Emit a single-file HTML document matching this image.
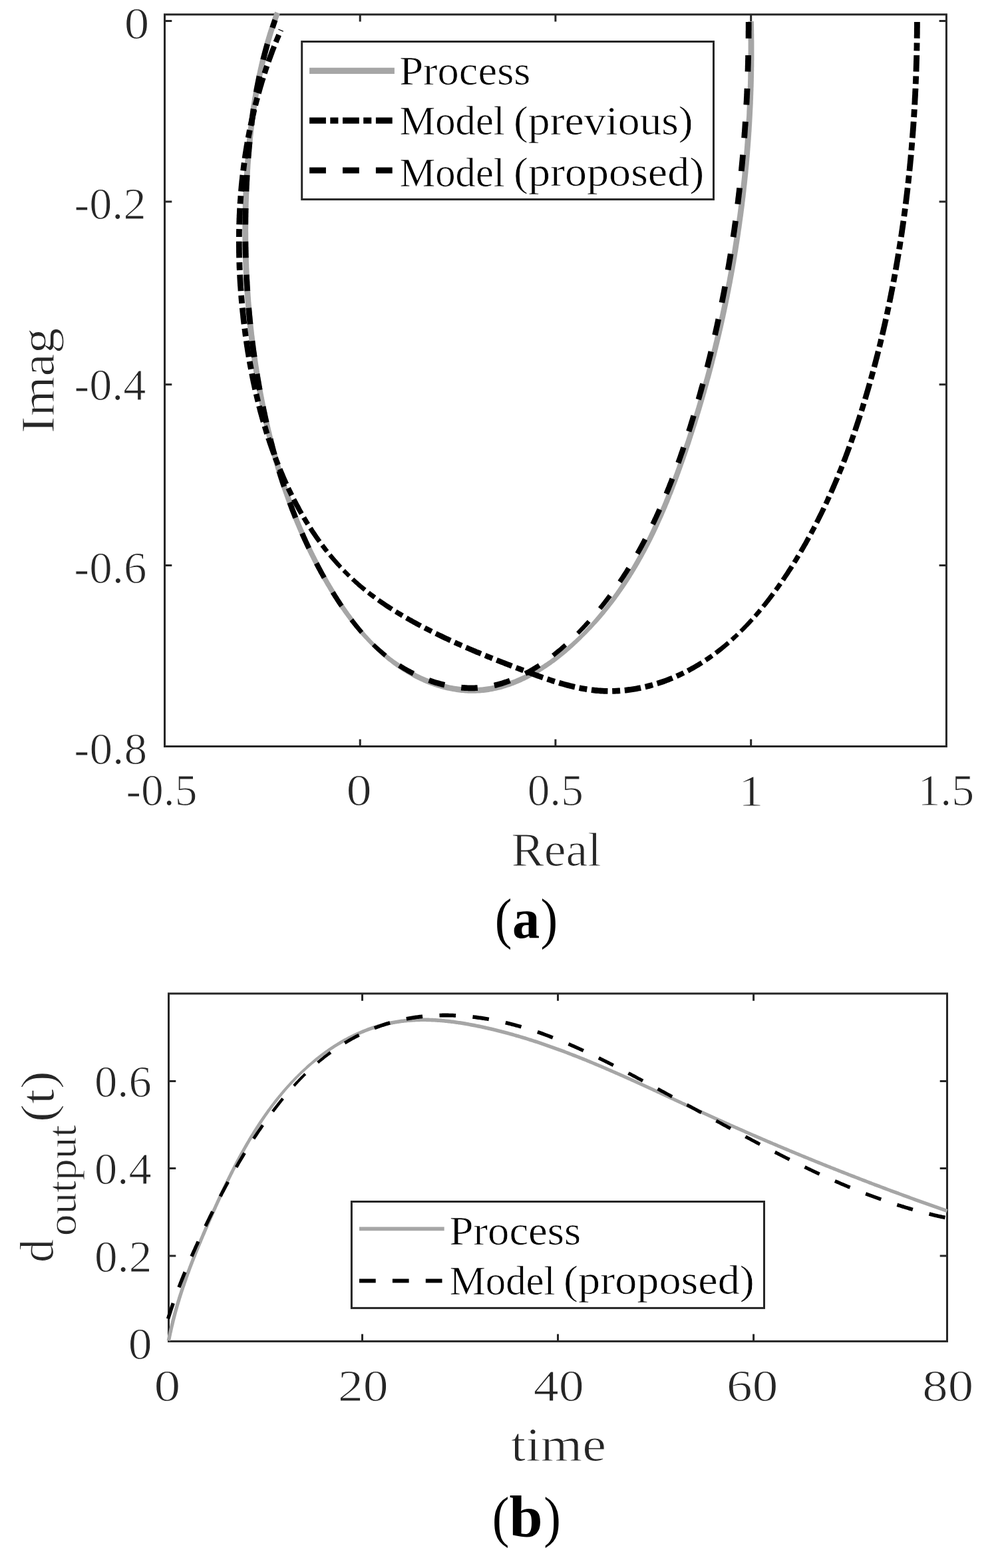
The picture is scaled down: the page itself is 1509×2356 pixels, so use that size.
<!DOCTYPE html>
<html><head><meta charset="utf-8"><title>Figure</title>
<style>
html,body{margin:0;padding:0;background:#fff;width:1509px;height:2356px;overflow:hidden;}
svg{display:block;}
text{font-family:"Liberation Serif",serif;}
.ax{stroke:#262626;stroke-width:3.0;fill:none;shape-rendering:auto;}
</style></head><body>
<svg width="1509" height="2356" viewBox="0 0 1509 2356">
<rect width="1509" height="2356" fill="#fff"/>

<rect class="ax" x="247.5" y="21.8" width="1174.9" height="1099.7"/>
<path d="M541.2,1121.5v-10.8M541.2,21.8v10.8M834.9,1121.5v-10.8M834.9,21.8v10.8M1128.7,1121.5v-10.8M1128.7,21.8v10.8M247.5,31.5h10.8M1422.4,31.5h-10.8M247.5,303.0h10.8M1422.4,303.0h-10.8M247.5,577.7h10.8M1422.4,577.7h-10.8M247.5,849.5h10.8M1422.4,849.5h-10.8" stroke="#262626" stroke-width="3.0" fill="none"/>
<path d="M1124.1,32.3L1124.1,34.2L1124.2,36.2L1124.2,38.1L1124.3,40.1L1124.3,42.0L1124.3,44.0L1124.4,45.9L1124.4,47.8L1124.4,49.8L1124.5,51.7L1124.5,53.7L1124.5,55.6L1124.5,57.5L1124.5,59.5L1124.6,61.4L1124.6,63.4L1124.6,65.3L1124.6,67.3L1124.6,69.2L1124.6,71.1L1124.6,73.1L1124.6,75.0L1124.6,77.0L1124.6,78.9L1124.6,80.9L1124.6,82.8L1124.6,84.7L1124.6,86.7L1124.6,88.6L1124.6,90.6L1124.5,92.5L1124.5,94.4L1124.5,96.4L1124.5,98.3L1124.5,100.3L1124.4,102.2L1124.4,104.2L1124.4,106.1L1124.3,108.0L1124.3,110.0L1124.3,111.9L1124.2,113.9L1124.2,115.8L1124.2,117.7L1124.1,119.7L1124.1,121.6L1124.0,123.6L1124.0,125.5L1123.9,127.4L1123.9,129.4L1123.8,131.3L1123.7,133.3L1123.7,135.2L1123.6,137.1L1123.6,139.1L1123.5,141.0L1123.4,143.0L1123.4,144.9L1123.3,146.8L1123.2,148.8L1123.1,150.7L1123.0,152.7L1123.0,154.6L1122.9,156.5L1122.8,158.5L1122.7,160.4L1122.6,162.4L1122.5,164.3L1122.4,166.2L1122.3,168.2L1122.3,170.1L1122.2,172.1L1122.1,174.0L1122.0,175.9L1121.8,177.9L1121.7,179.8L1121.6,181.7L1121.5,183.7L1121.4,185.6L1121.3,187.6L1121.2,189.5L1121.1,191.4L1120.9,193.4L1120.8,195.3L1120.7,197.2L1120.6,199.2L1120.4,201.1L1120.3,203.1L1120.2,205.0L1120.0,206.9L1119.9,208.9L1119.8,210.8L1119.6,212.7L1119.5,214.7L1119.3,216.6L1119.2,218.5L1119.0,220.5L1118.9,222.4L1118.7,224.3L1118.6,226.3L1118.4,228.2L1118.3,230.1L1118.1,232.1L1117.9,234.0L1117.8,235.9L1117.6,237.9L1117.4,239.8L1117.3,241.7L1117.1,243.7L1116.9,245.6L1116.7,247.5L1116.6,249.5L1116.4,251.4L1116.2,253.3L1116.0,255.3L1115.8,257.2L1115.6,259.1L1115.5,261.1L1115.3,263.0L1115.1,264.9L1114.9,266.9L1114.7,268.8L1114.5,270.7L1114.3,272.6L1114.1,274.6L1113.9,276.5L1113.7,278.4L1113.4,280.4L1113.2,282.3L1113.0,284.2L1112.8,286.2L1112.6,288.1L1112.4,290.0L1112.1,291.9L1111.9,293.9L1111.7,295.8L1111.5,297.7L1111.2,299.6L1111.0,301.6L1110.8,303.5L1110.5,305.4L1110.3,307.3L1110.0,309.3L1109.8,311.2L1109.6,313.1L1109.3,315.0L1109.1,317.0L1108.8,318.9L1108.6,320.8L1108.3,322.7L1108.1,324.7L1107.8,326.6L1107.5,328.5L1107.3,330.4L1107.0,332.4L1106.7,334.3L1106.5,336.2L1106.2,338.1L1105.9,340.0L1105.7,342.0L1105.4,343.9L1105.1,345.8L1104.8,347.7L1104.5,349.6L1104.3,351.6L1104.0,353.5L1103.7,355.4L1103.4,357.3L1103.1,359.2L1102.8,361.2L1102.5,363.1L1102.2,365.0L1101.9,366.9L1101.6,368.8L1101.3,370.7L1101.0,372.7L1100.7,374.6L1100.4,376.5L1100.1,378.4L1099.8,380.3L1099.4,382.2L1099.1,384.1L1098.8,386.1L1098.5,388.0L1098.2,389.9L1097.8,391.8L1097.5,393.7L1097.2,395.6L1096.8,397.5L1096.5,399.4L1096.2,401.4L1095.8,403.3L1095.5,405.2L1095.2,407.1L1094.8,409.0L1094.5,410.9L1094.1,412.8L1093.8,414.7L1093.4,416.6L1093.1,418.5L1092.7,420.5L1092.4,422.4L1092.0,424.3L1091.6,426.2L1091.3,428.1L1090.9,430.0L1090.5,431.9L1090.2,433.8L1089.8,435.7L1089.4,437.6L1089.1,439.5L1088.7,441.4L1088.3,443.3L1087.9,445.2L1087.5,447.1L1087.1,449.0L1086.8,450.9L1086.4,452.8L1086.0,454.7L1085.6,456.6L1085.2,458.5L1084.8,460.4L1084.4,462.3L1084.0,464.2L1083.6,466.1L1083.2,468.0L1082.8,469.9L1082.4,471.8L1082.0,473.7L1081.6,475.6L1081.1,477.5L1080.7,479.4L1080.3,481.3L1079.9,483.2L1079.5,485.1L1079.0,487.0L1078.6,488.9L1078.2,490.8L1077.8,492.6L1077.3,494.5L1076.9,496.4L1076.5,498.3L1076.0,500.2L1075.6,502.1L1075.1,504.0L1074.7,505.9L1074.2,507.8L1073.8,509.7L1073.4,511.5L1072.9,513.4L1072.4,515.3L1072.0,517.2L1071.5,519.1L1071.1,521.0L1070.6,522.9L1070.1,524.7L1069.7,526.6L1069.2,528.5L1068.7,530.4L1068.3,532.3L1067.8,534.2L1067.3,536.0L1066.9,537.9L1066.4,539.8L1065.9,541.7L1065.4,543.6L1064.9,545.4L1064.4,547.3L1063.9,549.2L1063.5,551.1L1063.0,553.0L1062.5,554.8L1062.0,556.7L1061.5,558.6L1061.0,560.5L1060.5,562.3L1060.0,564.2L1059.5,566.1L1059.0,568.0L1058.4,569.8L1057.9,571.7L1057.4,573.6L1056.9,575.4L1056.4,577.3L1055.9,579.2L1055.3,581.1L1054.8,582.9L1054.3,584.8L1053.8,586.7L1053.2,588.5L1052.7,590.4L1052.2,592.3L1051.6,594.1L1051.1,596.0L1050.6,597.9L1050.0,599.7L1049.5,601.6L1048.9,603.5L1048.4,605.3L1047.8,607.2L1047.3,609.0L1046.7,610.9L1046.2,612.8L1045.6,614.6L1045.1,616.5L1044.5,618.3L1043.9,620.2L1043.4,622.1L1042.8,623.9L1042.2,625.8L1041.7,627.6L1041.1,629.5L1040.5,631.3L1039.9,633.2L1039.4,635.0L1038.8,636.9L1038.2,638.7L1037.6,640.6L1037.0,642.4L1036.4,644.3L1035.9,646.1L1035.3,648.0L1034.7,649.8L1034.1,651.7L1033.5,653.5L1032.9,655.4L1032.3,657.2L1031.7,659.1L1031.1,660.9L1030.5,662.8L1029.9,664.6L1029.2,666.5L1028.6,668.3L1028.0,670.1L1027.4,672.0L1026.8,673.8L1026.2,675.7L1025.5,677.5L1024.9,679.3L1024.3,681.2L1023.7,683.0L1023.0,684.9L1022.4,686.7L1021.8,688.5L1021.1,690.4L1020.5,692.2L1019.8,694.0L1019.2,695.9L1018.6,697.7L1017.9,699.5L1017.3,701.4L1016.6,703.2L1016.0,705.0L1015.3,706.8L1014.6,708.7L1014.0,710.5L1013.3,712.3L1012.6,714.1L1012.0,715.9L1011.3,717.8L1010.6,719.6L1010.0,721.4L1009.3,723.2L1008.6,725.0L1007.9,726.8L1007.2,728.7L1006.5,730.5L1005.8,732.3L1005.1,734.1L1004.4,735.9L1003.7,737.7L1003.0,739.5L1002.3,741.3L1001.6,743.1L1000.9,744.9L1000.2,746.7L999.5,748.5L998.7,750.3L998.0,752.1L997.3,753.9L996.5,755.7L995.8,757.4L995.1,759.2L994.3,761.0L993.6,762.8L992.8,764.6L992.1,766.4L991.3,768.1L990.6,769.9L989.8,771.7L989.0,773.4L988.3,775.2L987.5,777.0L986.7,778.7L985.9,780.5L985.1,782.3L984.3,784.0L983.5,785.8L982.7,787.5L981.9,789.3L981.1,791.0L980.3,792.8L979.5,794.5L978.7,796.3L977.9,798.0L977.0,799.8L976.2,801.5L975.4,803.2L974.5,805.0L973.7,806.7L972.8,808.4L972.0,810.1L971.1,811.9L970.3,813.6L969.4,815.3L968.5,817.0L967.6,818.7L966.8,820.4L965.9,822.2L965.0,823.9L964.1,825.6L963.2,827.3L962.3,829.0L961.4,830.7L960.5,832.3L959.6,834.0L958.6,835.7L957.7,837.4L956.8,839.1L955.8,840.8L954.9,842.4L953.9,844.1L953.0,845.8L952.0,847.4L951.1,849.1L950.1,850.8L949.1,852.4L948.1,854.1L947.2,855.7L946.2,857.4L945.2,859.0L944.2,860.7L943.2,862.3L942.1,863.9L941.1,865.6L940.1,867.2L939.1,868.8L938.0,870.5L937.0,872.1L936.0,873.7L934.9,875.3L933.8,876.9L932.8,878.5L931.7,880.1L930.6,881.7L929.6,883.3L928.5,884.9L927.4,886.5L926.3,888.1L925.2,889.7L924.1,891.3L922.9,892.8L921.8,894.4L920.7,896.0L919.5,897.5L918.4,899.1L917.3,900.7L916.1,902.2L914.9,903.8L913.8,905.3L912.6,906.9L911.4,908.4L910.2,909.9L909.0,911.5L907.8,913.0L906.6,914.5L905.4,916.0L904.2,917.6L903.0,919.1L901.7,920.6L900.5,922.1L899.2,923.6L898.0,925.1L896.7,926.6L895.4,928.1L894.2,929.5L892.9,931.0L891.6,932.5L890.3,934.0L889.0,935.4L887.7,936.9L886.4,938.4L885.0,939.8L883.7,941.3L882.3,942.7L881.0,944.2L879.6,945.6L878.3,947.0L876.9,948.5L875.5,949.9L874.1,951.3L872.7,952.7L871.3,954.1L869.9,955.5L868.5,956.8L867.0,958.2L865.6,959.6L864.1,960.9L862.7,962.2L861.2,963.6L859.7,964.9L858.3,966.2L856.8,967.5L855.3,968.8L853.8,970.1L852.3,971.4L850.8,972.7L849.3,974.0L847.8,975.2L846.2,976.5L844.7,977.7L843.2,979.0L841.6,980.2L840.1,981.4L838.5,982.6L837.0,983.8L835.4,985.0L833.8,986.2L832.2,987.3L830.7,988.5L829.1,989.6L827.5,990.8L825.9,991.9L824.3,993.0L822.7,994.1L821.1,995.2L819.4,996.2L817.8,997.3L816.2,998.4L814.5,999.4L812.9,1000.4L811.3,1001.4L809.6,1002.4L808.0,1003.4L806.3,1004.4L804.6,1005.4L803.0,1006.3L801.3,1007.2L799.6,1008.2L797.9,1009.1L796.3,1009.9L794.6,1010.8L792.9,1011.7L791.2,1012.5L789.5,1013.4L787.8,1014.2L786.1,1015.0L784.3,1015.8L782.6,1016.6L780.9,1017.3L779.2,1018.1L777.4,1018.8L775.7,1019.5L774.0,1020.2L772.2,1020.9L770.5,1021.5L768.7,1022.2L767.0,1022.8L765.2,1023.4L763.5,1024.0L761.7,1024.6L760.0,1025.1L758.2,1025.7L756.4,1026.2L754.7,1026.7L752.9,1027.2L751.1,1027.7L749.3,1028.1L747.5,1028.5L745.7,1028.9L744.0,1029.3L742.2,1029.7L740.4,1030.1L738.6,1030.4L736.8,1030.7L735.0,1031.0L733.2,1031.3L731.3,1031.5L729.5,1031.8L727.7,1032.0L725.9,1032.2L724.1,1032.4L722.3,1032.5L720.4,1032.7L718.6,1032.8L716.8,1032.9L714.9,1032.9L713.1,1033.0L711.3,1033.0L709.4,1033.0L707.6,1033.0L705.7,1032.9L703.9,1032.9L702.0,1032.8L700.2,1032.7L698.3,1032.6L696.5,1032.4L694.6,1032.2L692.7,1032.0L690.9,1031.8L689.0,1031.6L687.2,1031.3L685.3,1031.1L683.4,1030.8L681.6,1030.4L679.7,1030.1L677.9,1029.8L676.0,1029.4L674.2,1029.0L672.3,1028.6L670.5,1028.1L668.6,1027.7L666.8,1027.2L664.9,1026.7L663.1,1026.2L661.3,1025.7L659.4,1025.1L657.6,1024.6L655.8,1024.0L654.0,1023.4L652.2,1022.8L650.4,1022.1L648.6,1021.5L646.8,1020.8L645.0,1020.1L643.2,1019.4L641.4,1018.7L639.6,1018.0L637.9,1017.2L636.1,1016.5L634.3,1015.7L632.6,1014.9L630.8,1014.1L629.1,1013.2L627.3,1012.4L625.6,1011.5L623.9,1010.6L622.2,1009.7L620.5,1008.8L618.8,1007.9L617.1,1007.0L615.4,1006.0L613.7,1005.1L612.0,1004.1L610.4,1003.1L608.7,1002.1L607.1,1001.1L605.4,1000.0L603.8,999.0L602.2,997.9L600.6,996.9L599.0,995.8L597.4,994.7L595.8,993.6L594.2,992.5L592.7,991.4L591.1,990.2L589.5,989.1L588.0,987.9L586.5,986.7L585.0,985.6L583.4,984.4L581.9,983.1L580.5,981.9L579.0,980.7L577.5,979.5L576.0,978.2L574.6,977.0L573.1,975.7L571.7,974.4L570.2,973.1L568.8,971.8L567.4,970.5L566.0,969.2L564.6,967.9L563.2,966.5L561.8,965.2L560.5,963.8L559.2,962.4L557.8,961.0L556.5,959.6L555.2,958.2L553.9,956.7L552.6,955.3L551.3,953.9L550.0,952.4L548.7,950.9L547.5,949.5L546.2,948.0L545.0,946.5L543.7,945.0L542.5,943.6L541.3,942.1L540.0,940.5L538.8,939.0L537.6,937.5L536.4,936.0L535.2,934.5L534.0,932.9L532.9,931.4L531.7,929.8L530.5,928.3L529.4,926.7L528.2,925.1L527.1,923.6L525.9,922.0L524.8,920.4L523.7,918.8L522.5,917.2L521.4,915.6L520.3,914.0L519.2,912.4L518.1,910.8L517.0,909.2L515.9,907.6L514.9,905.9L513.8,904.3L512.7,902.7L511.7,901.0L510.6,899.4L509.6,897.7L508.5,896.1L507.5,894.4L506.4,892.8L505.4,891.1L504.4,889.5L503.4,887.8L502.4,886.1L501.4,884.5L500.4,882.8L499.4,881.1L498.4,879.4L497.4,877.8L496.4,876.1L495.4,874.4L494.4,872.7L493.5,871.0L492.5,869.3L491.6,867.6L490.6,865.9L489.7,864.3L488.7,862.6L487.8,860.9L486.8,859.2L485.9,857.4L485.0,855.7L484.1,854.0L483.2,852.3L482.3,850.6L481.3,848.9L480.4,847.2L479.6,845.5L478.7,843.7L477.8,842.0L476.9,840.3L476.0,838.6L475.2,836.8L474.3,835.1L473.4,833.4L472.6,831.6L471.7,829.9L470.9,828.2L470.0,826.4L469.2,824.7L468.4,822.9L467.5,821.2L466.7,819.5L465.9,817.7L465.1,816.0L464.3,814.2L463.5,812.4L462.7,810.7L461.9,808.9L461.1,807.2L460.3,805.4L459.5,803.6L458.7,801.9L457.9,800.1L457.2,798.3L456.4,796.6L455.6,794.8L454.9,793.0L454.1,791.3L453.4,789.5L452.6,787.7L451.9,785.9L451.2,784.1L450.4,782.4L449.7,780.6L449.0,778.8L448.3,777.0L447.6,775.2L446.9,773.4L446.1,771.6L445.4,769.8L444.8,768.0L444.1,766.2L443.4,764.4L442.7,762.6L442.0,760.8L441.3,759.0L440.7,757.2L440.0,755.4L439.3,753.6L438.7,751.8L438.0,750.0L437.4,748.1L436.7,746.3L436.1,744.5L435.4,742.7L434.8,740.9L434.2,739.1L433.5,737.2L432.9,735.4L432.3,733.6L431.7,731.8L431.1,729.9L430.5,728.1L429.9,726.3L429.3,724.4L428.7,722.6L428.1,720.8L427.5,718.9L426.9,717.1L426.3,715.3L425.7,713.4L425.2,711.6L424.6,709.7L424.0,707.9L423.5,706.0L422.9,704.2L422.3,702.3L421.8,700.5L421.2,698.6L420.7,696.8L420.2,694.9L419.6,693.1L419.1,691.2L418.6,689.4L418.0,687.5L417.5,685.7L417.0,683.8L416.5,681.9L416.0,680.1L415.5,678.2L415.0,676.3L414.5,674.5L414.0,672.6L413.5,670.7L413.0,668.9L412.5,667.0L412.0,665.1L411.5,663.3L411.1,661.4L410.6,659.5L410.1,657.6L409.6,655.8L409.2,653.9L408.7,652.0L408.3,650.1L407.8,648.3L407.4,646.4L406.9,644.5L406.5,642.6L406.0,640.7L405.6,638.8L405.2,636.9L404.7,635.1L404.3,633.2L403.9,631.3L403.5,629.4L403.0,627.5L402.6,625.6L402.2,623.7L401.8,621.8L401.4,619.9L401.0,618.0L400.6,616.1L400.2,614.2L399.8,612.4L399.4,610.5L399.0,608.6L398.6,606.7L398.3,604.8L397.9,602.9L397.5,601.0L397.1,599.1L396.8,597.1L396.4,595.2L396.0,593.3L395.7,591.4L395.3,589.5L395.0,587.6L394.6,585.7L394.3,583.8L393.9,581.9L393.6,580.0L393.2,578.1L392.9,576.2L392.6,574.3L392.2,572.3L391.9,570.4L391.6,568.5L391.3,566.6L390.9,564.7L390.6,562.8L390.3,560.9L390.0,558.9L389.7,557.0L389.4,555.1L389.1,553.2L388.8,551.3L388.5,549.4L388.2,547.4L387.9,545.5L387.6,543.6L387.3,541.7L387.1,539.8L386.8,537.8L386.5,535.9L386.2,534.0L386.0,532.1L385.7,530.2L385.4,528.2L385.2,526.3L384.9,524.4L384.6,522.5L384.4,520.5L384.1,518.6L383.9,516.7L383.7,514.7L383.4,512.8L383.2,510.9L382.9,509.0L382.7,507.0L382.5,505.1L382.2,503.2L382.0,501.2L381.8,499.3L381.6,497.4L381.4,495.5L381.1,493.5L380.9,491.6L380.7,489.7L380.5,487.7L380.3,485.8L380.1,483.9L379.9,481.9L379.7,480.0L379.5,478.1L379.4,476.1L379.2,474.2L379.0,472.3L378.8,470.3L378.6,468.4L378.5,466.4L378.3,464.5L378.1,462.6L378.0,460.6L377.8,458.7L377.6,456.8L377.5,454.8L377.3,452.9L377.2,451.0L377.0,449.0L376.9,447.1L376.7,445.1L376.6,443.2L376.5,441.3L376.3,439.3L376.2,437.4L376.1,435.4L375.9,433.5L375.8,431.6L375.7,429.6L375.6,427.7L375.5,425.7L375.4,423.8L375.2,421.9L375.1,419.9L375.0,418.0L374.9,416.0L374.8,414.1L374.7,412.1L374.6,410.2L374.6,408.3L374.5,406.3L374.4,404.4L374.3,402.4L374.2,400.5L374.2,398.6L374.1,396.6L374.0,394.7L373.9,392.7L373.9,390.8L373.8,388.8L373.8,386.9L373.7,385.0L373.6,383.0L373.6,381.1L373.5,379.1L373.5,377.2L373.5,375.2L373.4,373.3L373.4,371.4L373.3,369.4L373.3,367.5L373.3,365.5L373.3,363.6L373.2,361.6L373.2,359.7L373.2,357.8L373.2,355.8L373.2,353.9L373.2,351.9L373.2,350.0L373.1,348.0L373.1,346.1L373.1,344.2L373.2,342.2L373.2,340.3L373.2,338.3L373.2,336.4L373.2,334.4L373.2,332.5L373.2,330.6L373.3,328.6L373.3,326.7L373.3,324.7L373.3,322.8L373.4,320.9L373.4,318.9L373.4,317.0L373.5,315.0L373.5,313.1L373.6,311.2L373.6,309.2L373.7,307.3L373.7,305.3L373.8,303.4L373.9,301.5L373.9,299.5L374.0,297.6L374.1,295.6L374.1,293.7L374.2,291.8L374.3,289.8L374.4,287.9L374.4,286.0L374.5,284.0L374.6,282.1L374.7,280.1L374.8,278.2L374.9,276.3L375.0,274.3L375.1,272.4L375.2,270.5L375.3,268.5L375.4,266.6L375.5,264.7L375.6,262.7L375.8,260.8L375.9,258.9L376.0,256.9L376.1,255.0L376.3,253.1L376.4,251.1L376.5,249.2L376.6,247.3L376.8,245.3L376.9,243.4L377.1,241.5L377.2,239.6L377.4,237.6L377.5,235.7L377.7,233.8L377.8,231.8L378.0,229.9L378.2,228.0L378.3,226.1L378.5,224.1L378.7,222.2L378.8,220.3L379.0,218.4L379.2,216.4L379.4,214.5L379.6,212.6L379.8,210.7L379.9,208.8L380.1,206.8L380.3,204.9L380.5,203.0L380.8,201.1L381.0,199.2L381.2,197.2L381.4,195.3L381.6,193.4L381.8,191.5L382.1,189.6L382.3,187.7L382.5,185.8L382.8,183.8L383.0,181.9L383.2,180.0L383.5,178.1L383.7,176.2L384.0,174.3L384.3,172.4L384.5,170.5L384.8,168.6L385.1,166.7L385.3,164.7L385.6,162.8L385.9,160.9L386.2,159.0L386.5,157.1L386.8,155.2L387.1,153.3L387.4,151.4L387.7,149.5L388.0,147.6L388.3,145.7L388.6,143.8L389.0,141.9L389.3,140.0L389.6,138.1L390.0,136.2L390.3,134.3L390.6,132.4L391.0,130.6L391.4,128.7L391.7,126.8L392.1,124.9L392.5,123.0L392.8,121.1L393.2,119.2L393.6,117.3L394.0,115.4L394.4,113.6L394.8,111.7L395.2,109.8L395.6,107.9L396.0,106.0L396.4,104.1L396.8,102.3L397.3,100.4L397.7,98.5L398.1,96.6L398.6,94.7L399.0,92.9L399.5,91.0L399.9,89.1L400.4,87.2L400.9,85.4L401.3,83.5L401.8,81.6L402.3,79.8L402.8,77.9L403.3,76.0L403.8,74.2L404.3,72.3L404.8,70.4L405.3,68.6L405.9,66.7L406.4,64.8L406.9,63.0L407.5,61.1L408.0,59.3L408.6,57.4L409.1,55.5L409.7,53.7L410.3,51.8L410.8,50.0L411.4,48.1L412.0,46.3L412.6,44.4L413.2,42.6L413.8,40.7L414.4,38.9L415.0,37.0L415.6,35.2L416.3,33.3L416.9,31.5L417.6,29.6L418.2,27.8L418.9,26.0L419.5,24.1L420.2,22.3L420.9,20.4L413.1,17.6L412.4,19.4L411.8,21.3L411.1,23.1L410.4,25.0L409.7,26.9L409.1,28.7L408.4,30.6L407.8,32.5L407.1,34.3L406.5,36.2L405.9,38.1L405.2,40.0L404.6,41.8L404.0,43.7L403.4,45.6L402.8,47.5L402.2,49.3L401.6,51.2L401.1,53.1L400.5,55.0L399.9,56.8L399.4,58.7L398.8,60.6L398.3,62.5L397.7,64.4L397.2,66.3L396.6,68.2L396.1,70.0L395.6,71.9L395.1,73.8L394.6,75.7L394.1,77.6L393.6,79.5L393.1,81.4L392.6,83.3L392.1,85.2L391.6,87.1L391.2,89.0L390.7,90.9L390.2,92.8L389.8,94.7L389.3,96.6L388.9,98.5L388.5,100.4L388.0,102.3L387.6,104.2L387.2,106.1L386.8,108.0L386.4,109.9L385.9,111.8L385.5,113.7L385.1,115.6L384.8,117.5L384.4,119.4L384.0,121.3L383.6,123.2L383.2,125.1L382.9,127.0L382.5,129.0L382.1,130.9L381.8,132.8L381.4,134.7L381.1,136.6L380.8,138.5L380.4,140.4L380.1,142.4L379.8,144.3L379.4,146.2L379.1,148.1L378.8,150.0L378.5,152.0L378.2,153.9L377.9,155.8L377.6,157.7L377.3,159.6L377.0,161.6L376.7,163.5L376.4,165.4L376.2,167.3L375.9,169.3L375.6,171.2L375.4,173.1L375.1,175.0L374.8,177.0L374.6,178.9L374.3,180.8L374.1,182.7L373.9,184.7L373.6,186.6L373.4,188.5L373.2,190.5L372.9,192.4L372.7,194.3L372.5,196.3L372.3,198.2L372.1,200.1L371.8,202.1L371.6,204.0L371.4,205.9L371.2,207.9L371.0,209.8L370.8,211.7L370.7,213.7L370.5,215.6L370.3,217.5L370.1,219.5L369.9,221.4L369.8,223.4L369.6,225.3L369.4,227.2L369.3,229.2L369.1,231.1L368.9,233.1L368.8,235.0L368.6,236.9L368.5,238.9L368.3,240.8L368.2,242.8L368.0,244.7L367.9,246.7L367.8,248.6L367.6,250.5L367.5,252.5L367.4,254.4L367.2,256.4L367.1,258.3L367.0,260.3L366.9,262.2L366.8,264.1L366.6,266.1L366.5,268.0L366.4,270.0L366.3,271.9L366.2,273.9L366.1,275.8L366.0,277.8L365.9,279.7L365.8,281.7L365.7,283.6L365.7,285.6L365.6,287.5L365.5,289.5L365.4,291.4L365.3,293.4L365.3,295.3L365.2,297.3L365.1,299.2L365.1,301.2L365.0,303.1L364.9,305.1L364.9,307.0L364.8,309.0L364.8,310.9L364.7,312.9L364.7,314.8L364.7,316.8L364.6,318.7L364.6,320.7L364.5,322.7L364.5,324.6L364.5,326.6L364.5,328.5L364.4,330.5L364.4,332.4L364.4,334.4L364.4,336.3L364.4,338.3L364.4,340.2L364.4,342.2L364.3,344.1L364.3,346.1L364.3,348.1L364.4,350.0L364.4,352.0L364.4,353.9L364.4,355.9L364.4,357.8L364.4,359.8L364.4,361.7L364.5,363.7L364.5,365.7L364.5,367.6L364.5,369.6L364.6,371.5L364.6,373.5L364.7,375.4L364.7,377.4L364.7,379.3L364.8,381.3L364.8,383.2L364.9,385.2L365.0,387.2L365.0,389.1L365.1,391.1L365.1,393.0L365.2,395.0L365.3,396.9L365.4,398.9L365.4,400.8L365.5,402.8L365.6,404.8L365.7,406.7L365.8,408.7L365.9,410.6L366.0,412.6L366.1,414.5L366.2,416.5L366.3,418.4L366.4,420.4L366.5,422.3L366.6,424.3L366.7,426.3L366.8,428.2L366.9,430.2L367.1,432.1L367.2,434.1L367.3,436.0L367.4,438.0L367.6,439.9L367.7,441.9L367.8,443.8L368.0,445.8L368.1,447.7L368.3,449.7L368.4,451.6L368.6,453.6L368.7,455.5L368.9,457.5L369.1,459.4L369.2,461.4L369.4,463.3L369.6,465.3L369.7,467.2L369.9,469.2L370.1,471.1L370.3,473.1L370.5,475.0L370.6,477.0L370.8,478.9L371.0,480.9L371.2,482.8L371.4,484.8L371.6,486.7L371.8,488.6L372.0,490.6L372.2,492.5L372.5,494.5L372.7,496.4L372.9,498.4L373.1,500.3L373.3,502.3L373.6,504.2L373.8,506.1L374.0,508.1L374.3,510.0L374.5,512.0L374.7,513.9L375.0,515.8L375.2,517.8L375.5,519.7L375.7,521.7L376.0,523.6L376.3,525.5L376.5,527.5L376.8,529.4L377.1,531.4L377.3,533.3L377.6,535.2L377.9,537.2L378.2,539.1L378.4,541.0L378.7,543.0L379.0,544.9L379.3,546.8L379.6,548.8L379.9,550.7L380.2,552.6L380.5,554.6L380.8,556.5L381.1,558.4L381.4,560.3L381.7,562.3L382.1,564.2L382.4,566.1L382.7,568.0L383.0,570.0L383.4,571.9L383.7,573.8L384.0,575.7L384.4,577.7L384.7,579.6L385.1,581.5L385.4,583.4L385.8,585.4L386.1,587.3L386.5,589.2L386.8,591.1L387.2,593.0L387.6,595.0L387.9,596.9L388.3,598.8L388.7,600.7L389.0,602.6L389.4,604.5L389.8,606.5L390.2,608.4L390.6,610.3L391.0,612.2L391.4,614.1L391.8,616.0L392.2,617.9L392.6,619.8L393.0,621.7L393.4,623.6L393.8,625.5L394.2,627.5L394.6,629.4L395.1,631.3L395.5,633.2L395.9,635.1L396.4,637.0L396.8,638.9L397.2,640.8L397.7,642.7L398.1,644.6L398.6,646.5L399.0,648.4L399.5,650.3L400.0,652.2L400.4,654.0L400.9,655.9L401.4,657.8L401.8,659.7L402.3,661.6L402.8,663.5L403.3,665.4L403.8,667.3L404.3,669.2L404.7,671.0L405.2,672.9L405.7,674.8L406.3,676.7L406.8,678.6L407.3,680.4L407.8,682.3L408.3,684.2L408.8,686.1L409.4,688.0L409.9,689.8L410.4,691.7L411.0,693.6L411.5,695.4L412.1,697.3L412.6,699.2L413.2,701.0L413.7,702.9L414.3,704.8L414.8,706.6L415.4,708.5L416.0,710.4L416.6,712.2L417.1,714.1L417.7,715.9L418.3,717.8L418.9,719.6L419.5,721.5L420.1,723.3L420.7,725.2L421.3,727.0L421.9,728.9L422.5,730.7L423.2,732.6L423.8,734.4L424.4,736.3L425.0,738.1L425.7,739.9L426.3,741.8L427.0,743.6L427.6,745.5L428.3,747.3L428.9,749.1L429.6,751.0L430.2,752.8L430.9,754.6L431.6,756.4L432.3,758.3L432.9,760.1L433.6,761.9L434.3,763.7L435.0,765.5L435.7,767.4L436.4,769.2L437.1,771.0L437.8,772.8L438.5,774.6L439.3,776.4L440.0,778.2L440.7,780.0L441.4,781.8L442.2,783.6L442.9,785.4L443.7,787.2L444.4,789.0L445.2,790.8L445.9,792.6L446.7,794.4L447.5,796.2L448.2,798.0L449.0,799.8L449.8,801.6L450.6,803.4L451.4,805.1L452.2,806.9L453.0,808.7L453.8,810.5L454.6,812.2L455.4,814.0L456.2,815.8L457.0,817.6L457.8,819.3L458.7,821.1L459.5,822.9L460.4,824.6L461.2,826.4L462.1,828.1L462.9,829.9L463.8,831.6L464.6,833.4L465.5,835.1L466.4,836.9L467.3,838.6L468.1,840.4L469.0,842.1L469.9,843.9L470.8,845.6L471.7,847.3L472.6,849.1L473.6,850.8L474.5,852.5L475.4,854.3L476.3,856.0L477.3,857.7L478.2,859.4L479.1,861.2L480.1,862.9L481.0,864.6L482.0,866.3L483.0,868.0L483.9,869.7L484.9,871.4L485.9,873.1L486.9,874.8L487.9,876.5L488.9,878.2L489.8,879.9L490.9,881.6L491.9,883.3L492.9,885.0L493.9,886.7L494.9,888.4L496.0,890.0L497.0,891.7L498.0,893.4L499.1,895.1L500.1,896.7L501.2,898.4L502.3,900.1L503.3,901.7L504.4,903.4L505.5,905.1L506.6,906.7L507.7,908.3L508.8,910.0L509.9,911.6L511.0,913.3L512.1,914.9L513.3,916.5L514.4,918.1L515.5,919.8L516.7,921.4L517.8,923.0L519.0,924.6L520.2,926.2L521.3,927.8L522.5,929.3L523.7,930.9L524.9,932.5L526.1,934.1L527.3,935.6L528.6,937.2L529.8,938.7L531.0,940.3L532.3,941.8L533.5,943.3L534.8,944.9L536.0,946.4L537.3,947.9L538.6,949.4L539.9,950.9L541.2,952.4L542.5,953.8L543.8,955.3L545.1,956.8L546.5,958.2L547.8,959.7L549.2,961.1L550.5,962.5L551.9,964.0L553.3,965.4L554.6,966.8L556.0,968.2L557.4,969.6L558.8,971.0L560.2,972.4L561.6,973.7L563.0,975.1L564.4,976.5L565.9,977.8L567.3,979.2L568.7,980.5L570.2,981.9L571.7,983.2L573.1,984.5L574.6,985.8L576.1,987.1L577.6,988.4L579.1,989.6L580.7,990.9L582.2,992.2L583.7,993.4L585.3,994.6L586.9,995.8L588.4,997.0L590.0,998.2L591.6,999.4L593.2,1000.6L594.8,1001.7L596.5,1002.9L598.1,1004.0L599.8,1005.1L601.4,1006.2L603.1,1007.3L604.8,1008.4L606.5,1009.5L608.2,1010.5L609.9,1011.6L611.6,1012.6L613.3,1013.6L615.0,1014.6L616.8,1015.6L618.5,1016.6L620.3,1017.5L622.0,1018.5L623.8,1019.4L625.6,1020.3L627.4,1021.2L629.2,1022.1L631.0,1022.9L632.8,1023.8L634.6,1024.6L636.4,1025.4L638.3,1026.2L640.1,1027.0L641.9,1027.7L643.8,1028.5L645.7,1029.2L647.5,1029.9L649.4,1030.6L651.3,1031.3L653.2,1031.9L655.0,1032.5L656.9,1033.2L658.8,1033.8L660.7,1034.3L662.7,1034.9L664.6,1035.4L666.5,1035.9L668.4,1036.4L670.3,1036.9L672.3,1037.4L674.2,1037.8L676.2,1038.2L678.1,1038.6L680.0,1039.0L682.0,1039.3L683.9,1039.6L685.9,1040.0L687.9,1040.2L689.8,1040.5L691.8,1040.7L693.7,1040.9L695.7,1041.1L697.6,1041.3L699.6,1041.4L701.6,1041.6L703.5,1041.7L705.5,1041.7L707.4,1041.8L709.4,1041.8L711.3,1041.8L713.3,1041.8L715.2,1041.7L717.2,1041.6L719.1,1041.5L721.0,1041.4L723.0,1041.3L724.9,1041.1L726.8,1040.9L728.7,1040.7L730.6,1040.4L732.5,1040.2L734.5,1039.9L736.4,1039.6L738.3,1039.3L740.1,1038.9L742.0,1038.5L743.9,1038.1L745.8,1037.7L747.7,1037.3L749.5,1036.8L751.4,1036.4L753.3,1035.9L755.1,1035.4L757.0,1034.8L758.8,1034.3L760.7,1033.7L762.5,1033.1L764.3,1032.5L766.2,1031.9L768.0,1031.2L769.8,1030.6L771.6,1029.9L773.4,1029.2L775.2,1028.5L777.0,1027.8L778.8,1027.0L780.6,1026.2L782.4,1025.5L784.2,1024.7L785.9,1023.8L787.7,1023.0L789.5,1022.2L791.2,1021.3L793.0,1020.4L794.7,1019.5L796.5,1018.6L798.2,1017.7L799.9,1016.8L801.6,1015.8L803.4,1014.9L805.1,1013.9L806.8,1012.9L808.5,1011.9L810.2,1010.9L811.8,1009.9L813.5,1008.8L815.2,1007.8L816.9,1006.7L818.5,1005.6L820.2,1004.5L821.9,1003.4L823.5,1002.3L825.1,1001.2L826.8,1000.1L828.4,998.9L830.0,997.7L831.6,996.6L833.3,995.4L834.9,994.2L836.5,993.0L838.1,991.8L839.6,990.6L841.2,989.3L842.8,988.1L844.4,986.8L845.9,985.6L847.5,984.3L849.0,983.0L850.6,981.7L852.1,980.4L853.6,979.1L855.1,977.8L856.7,976.5L858.2,975.1L859.7,973.8L861.2,972.4L862.7,971.1L864.1,969.7L865.6,968.3L867.1,967.0L868.5,965.6L870.0,964.2L871.4,962.8L872.9,961.4L874.3,960.0L875.7,958.5L877.1,957.1L878.6,955.7L880.0,954.3L881.4,952.9L882.8,951.4L884.2,950.0L885.6,948.6L887.0,947.1L888.4,945.7L889.8,944.2L891.1,942.8L892.5,941.3L893.8,939.8L895.2,938.3L896.5,936.9L897.8,935.4L899.2,933.9L900.5,932.4L901.8,930.9L903.1,929.4L904.4,927.9L905.6,926.4L906.9,924.9L908.2,923.4L909.5,921.9L910.7,920.3L912.0,918.8L913.2,917.3L914.4,915.8L915.7,914.2L916.9,912.7L918.1,911.1L919.3,909.6L920.5,908.0L921.7,906.5L922.9,904.9L924.1,903.3L925.3,901.7L926.4,900.2L927.6,898.6L928.7,897.0L929.9,895.4L931.0,893.8L932.2,892.2L933.3,890.6L934.4,889.0L935.5,887.4L936.6,885.8L937.8,884.2L938.9,882.6L939.9,881.0L941.0,879.4L942.1,877.7L943.2,876.1L944.3,874.5L945.3,872.8L946.4,871.2L947.4,869.6L948.5,867.9L949.5,866.3L950.5,864.6L951.6,863.0L952.6,861.3L953.6,859.6L954.6,858.0L955.6,856.3L956.6,854.6L957.6,853.0L958.6,851.3L959.6,849.6L960.6,847.9L961.5,846.2L962.5,844.5L963.5,842.8L964.4,841.1L965.4,839.5L966.3,837.8L967.3,836.0L968.2,834.3L969.1,832.6L970.0,830.9L971.0,829.2L971.9,827.5L972.8,825.8L973.7,824.1L974.6,822.3L975.5,820.6L976.4,818.9L977.3,817.1L978.1,815.4L979.0,813.7L979.9,811.9L980.8,810.2L981.6,808.4L982.5,806.7L983.3,804.9L984.2,803.2L985.0,801.4L985.9,799.7L986.7,797.9L987.5,796.2L988.4,794.4L989.2,792.6L990.0,790.9L990.8,789.1L991.6,787.3L992.4,785.6L993.2,783.8L994.0,782.0L994.8,780.2L995.6,778.5L996.4,776.7L997.2,774.9L998.0,773.1L998.7,771.3L999.5,769.5L1000.3,767.7L1001.0,765.9L1001.8,764.2L1002.6,762.4L1003.3,760.6L1004.1,758.8L1004.8,757.0L1005.6,755.2L1006.3,753.4L1007.0,751.5L1007.8,749.7L1008.5,747.9L1009.2,746.1L1009.9,744.3L1010.7,742.5L1011.4,740.7L1012.1,738.9L1012.8,737.0L1013.5,735.2L1014.2,733.4L1014.9,731.6L1015.6,729.8L1016.3,727.9L1017.0,726.1L1017.7,724.3L1018.4,722.5L1019.0,720.6L1019.7,718.8L1020.4,717.0L1021.1,715.1L1021.7,713.3L1022.4,711.5L1023.1,709.6L1023.7,707.8L1024.4,706.0L1025.1,704.1L1025.7,702.3L1026.4,700.5L1027.0,698.6L1027.7,696.8L1028.3,694.9L1029.0,693.1L1029.6,691.3L1030.3,689.4L1030.9,687.6L1031.5,685.7L1032.2,683.9L1032.8,682.0L1033.4,680.2L1034.1,678.3L1034.7,676.5L1035.3,674.6L1035.9,672.8L1036.5,670.9L1037.2,669.1L1037.8,667.2L1038.4,665.4L1039.0,663.5L1039.6,661.7L1040.2,659.8L1040.8,658.0L1041.4,656.1L1042.0,654.3L1042.6,652.4L1043.2,650.6L1043.8,648.7L1044.4,646.8L1045.0,645.0L1045.6,643.1L1046.2,641.3L1046.8,639.4L1047.4,637.6L1048.0,635.7L1048.5,633.8L1049.1,632.0L1049.7,630.1L1050.3,628.2L1050.9,626.4L1051.4,624.5L1052.0,622.6L1052.6,620.8L1053.1,618.9L1053.7,617.0L1054.3,615.2L1054.8,613.3L1055.4,611.4L1055.9,609.6L1056.5,607.7L1057.0,605.8L1057.6,604.0L1058.1,602.1L1058.7,600.2L1059.2,598.3L1059.8,596.5L1060.3,594.6L1060.8,592.7L1061.4,590.9L1061.9,589.0L1062.4,587.1L1063.0,585.2L1063.5,583.3L1064.0,581.5L1064.6,579.6L1065.1,577.7L1065.6,575.8L1066.1,574.0L1066.6,572.1L1067.1,570.2L1067.7,568.3L1068.2,566.4L1068.7,564.5L1069.2,562.7L1069.7,560.8L1070.2,558.9L1070.7,557.0L1071.2,555.1L1071.7,553.2L1072.2,551.4L1072.7,549.5L1073.2,547.6L1073.7,545.7L1074.1,543.8L1074.6,541.9L1075.1,540.0L1075.6,538.1L1076.1,536.3L1076.6,534.4L1077.0,532.5L1077.5,530.6L1078.0,528.7L1078.4,526.8L1078.9,524.9L1079.4,523.0L1079.8,521.1L1080.3,519.2L1080.8,517.3L1081.2,515.4L1081.7,513.5L1082.1,511.6L1082.6,509.7L1083.0,507.8L1083.5,506.0L1083.9,504.1L1084.4,502.2L1084.8,500.3L1085.2,498.4L1085.7,496.5L1086.1,494.6L1086.6,492.7L1087.0,490.8L1087.4,488.9L1087.8,487.0L1088.3,485.1L1088.7,483.1L1089.1,481.2L1089.5,479.3L1090.0,477.4L1090.4,475.5L1090.8,473.6L1091.2,471.7L1091.6,469.8L1092.0,467.9L1092.4,466.0L1092.8,464.1L1093.2,462.2L1093.6,460.3L1094.0,458.4L1094.4,456.5L1094.8,454.6L1095.2,452.6L1095.6,450.7L1096.0,448.8L1096.4,446.9L1096.8,445.0L1097.1,443.1L1097.5,441.2L1097.9,439.3L1098.3,437.4L1098.7,435.4L1099.0,433.5L1099.4,431.6L1099.8,429.7L1100.1,427.8L1100.5,425.9L1100.9,424.0L1101.2,422.0L1101.6,420.1L1101.9,418.2L1102.3,416.3L1102.6,414.4L1103.0,412.5L1103.3,410.5L1103.7,408.6L1104.0,406.7L1104.4,404.8L1104.7,402.9L1105.0,400.9L1105.4,399.0L1105.7,397.1L1106.1,395.2L1106.4,393.3L1106.7,391.3L1107.0,389.4L1107.4,387.5L1107.7,385.6L1108.0,383.7L1108.3,381.7L1108.6,379.8L1109.0,377.9L1109.3,376.0L1109.6,374.0L1109.9,372.1L1110.2,370.2L1110.5,368.3L1110.8,366.3L1111.1,364.4L1111.4,362.5L1111.7,360.6L1112.0,358.6L1112.3,356.7L1112.6,354.8L1112.9,352.8L1113.2,350.9L1113.4,349.0L1113.7,347.1L1114.0,345.1L1114.3,343.2L1114.6,341.3L1114.8,339.3L1115.1,337.4L1115.4,335.5L1115.6,333.6L1115.9,331.6L1116.2,329.7L1116.4,327.8L1116.7,325.8L1117.0,323.9L1117.2,322.0L1117.5,320.0L1117.7,318.1L1118.0,316.2L1118.2,314.2L1118.5,312.3L1118.7,310.4L1119.0,308.4L1119.2,306.5L1119.4,304.6L1119.7,302.6L1119.9,300.7L1120.1,298.8L1120.4,296.8L1120.6,294.9L1120.8,292.9L1121.0,291.0L1121.3,289.1L1121.5,287.1L1121.7,285.2L1121.9,283.3L1122.1,281.3L1122.3,279.4L1122.6,277.4L1122.8,275.5L1123.0,273.6L1123.2,271.6L1123.4,269.7L1123.6,267.8L1123.8,265.8L1124.0,263.9L1124.2,261.9L1124.4,260.0L1124.6,258.1L1124.7,256.1L1124.9,254.2L1125.1,252.2L1125.3,250.3L1125.5,248.3L1125.7,246.4L1125.8,244.5L1126.0,242.5L1126.2,240.6L1126.3,238.6L1126.5,236.7L1126.7,234.8L1126.8,232.8L1127.0,230.9L1127.2,228.9L1127.3,227.0L1127.5,225.0L1127.6,223.1L1127.8,221.2L1127.9,219.2L1128.1,217.3L1128.2,215.3L1128.4,213.4L1128.5,211.4L1128.7,209.5L1128.8,207.5L1128.9,205.6L1129.1,203.6L1129.2,201.7L1129.3,199.8L1129.5,197.8L1129.6,195.9L1129.7,193.9L1129.8,192.0L1129.9,190.0L1130.1,188.1L1130.2,186.1L1130.3,184.2L1130.4,182.2L1130.5,180.3L1130.6,178.3L1130.7,176.4L1130.8,174.5L1130.9,172.5L1131.0,170.6L1131.1,168.6L1131.2,166.7L1131.3,164.7L1131.4,162.8L1131.5,160.8L1131.6,158.9L1131.7,156.9L1131.8,155.0L1131.8,153.0L1131.9,151.1L1132.0,149.1L1132.1,147.2L1132.1,145.2L1132.2,143.3L1132.3,141.3L1132.3,139.4L1132.4,137.4L1132.5,135.5L1132.5,133.5L1132.6,131.6L1132.7,129.6L1132.7,127.7L1132.8,125.7L1132.8,123.8L1132.9,121.8L1132.9,119.9L1132.9,117.9L1133.0,116.0L1133.0,114.0L1133.1,112.1L1133.1,110.1L1133.1,108.2L1133.2,106.2L1133.2,104.3L1133.2,102.3L1133.3,100.4L1133.3,98.4L1133.3,96.5L1133.3,94.5L1133.3,92.6L1133.4,90.6L1133.4,88.7L1133.4,86.7L1133.4,84.8L1133.4,82.8L1133.4,80.9L1133.4,78.9L1133.4,77.0L1133.4,75.0L1133.4,73.1L1133.4,71.1L1133.4,69.2L1133.4,67.2L1133.4,65.3L1133.4,63.3L1133.4,61.4L1133.3,59.4L1133.3,57.5L1133.3,55.5L1133.3,53.6L1133.3,51.6L1133.2,49.7L1133.2,47.7L1133.2,45.8L1133.1,43.8L1133.1,41.9L1133.1,39.9L1133.0,37.9L1133.0,36.0L1132.9,34.0L1132.9,32.1Z" fill="#a6a6a6"/>
<path d="M1374.0,33.1L1374.0,34.7L1374.0,36.4L1374.0,38.1L1374.0,39.7L1374.0,41.4L1373.9,43.0L1373.9,44.7L1373.9,46.3L1373.9,48.0L1373.9,49.7L1373.9,51.3L1373.8,53.0L1373.8,54.6L1373.8,56.3L1373.8,57.6L1382.6,57.8L1382.6,56.4L1382.6,54.7L1382.6,53.1L1382.7,51.4L1382.7,49.8L1382.7,48.1L1382.7,46.4L1382.7,44.8L1382.7,43.1L1382.8,41.4L1382.8,39.8L1382.8,38.1L1382.8,36.4L1382.8,34.8L1382.8,33.1ZM1373.7,64.3L1373.7,64.6L1373.6,66.2L1373.6,67.9L1373.6,69.6L1373.6,71.2L1373.5,72.9L1373.5,74.5L1373.4,76.2L1373.4,76.2L1382.2,76.4L1382.2,76.4L1382.3,74.7L1382.3,73.1L1382.3,71.4L1382.4,69.7L1382.4,68.1L1382.4,66.4L1382.5,64.7L1382.5,64.5ZM1373.3,82.9L1373.3,84.5L1373.2,86.2L1373.2,87.8L1373.1,89.5L1373.1,91.1L1373.0,92.8L1373.0,94.5L1372.9,96.1L1372.9,97.8L1372.8,99.4L1372.8,101.1L1372.7,102.8L1372.7,104.4L1372.6,106.1L1372.6,107.5L1381.4,107.8L1381.4,106.4L1381.5,104.7L1381.5,103.1L1381.6,101.4L1381.6,99.7L1381.7,98.0L1381.7,96.4L1381.8,94.7L1381.8,93.0L1381.9,91.4L1381.9,89.7L1382.0,88.0L1382.0,86.4L1382.0,84.7L1382.1,83.1ZM1372.3,114.2L1372.3,114.4L1372.3,116.1L1372.2,117.7L1372.1,119.4L1372.1,121.0L1372.0,122.7L1371.9,124.4L1371.9,126.0L1371.8,126.0L1380.6,126.4L1380.6,126.4L1380.7,124.7L1380.8,123.1L1380.8,121.4L1380.9,119.7L1381.0,118.1L1381.0,116.4L1381.1,114.7L1381.1,114.5ZM1371.6,132.7L1371.5,134.3L1371.4,136.0L1371.3,137.7L1371.2,139.3L1371.2,141.0L1371.1,142.6L1371.0,144.3L1370.9,146.0L1370.8,147.6L1370.7,149.3L1370.7,151.0L1370.6,152.6L1370.5,154.3L1370.4,155.9L1370.3,157.3L1379.1,157.8L1379.2,156.4L1379.3,154.8L1379.3,153.1L1379.4,151.4L1379.5,149.8L1379.6,148.1L1379.7,146.4L1379.8,144.7L1379.9,143.1L1379.9,141.4L1380.0,139.7L1380.1,138.1L1380.2,136.4L1380.3,134.7L1380.3,133.1ZM1369.9,164.0L1369.9,164.3L1369.8,165.9L1369.7,167.6L1369.6,169.2L1369.5,170.9L1369.4,172.6L1369.3,174.2L1369.2,175.8L1378.0,176.4L1378.1,174.8L1378.2,173.1L1378.3,171.4L1378.4,169.8L1378.5,168.1L1378.6,166.4L1378.7,164.8L1378.7,164.5ZM1368.8,182.5L1368.8,182.5L1368.6,184.2L1368.5,185.9L1368.4,187.5L1368.3,189.2L1368.2,190.8L1368.1,192.5L1367.9,194.2L1367.8,195.8L1367.7,197.5L1367.6,199.2L1367.4,200.8L1367.3,202.5L1367.2,204.1L1367.1,205.8L1367.0,207.0L1375.7,207.7L1375.8,206.5L1375.9,204.8L1376.1,203.1L1376.2,201.5L1376.3,199.8L1376.4,198.1L1376.6,196.5L1376.7,194.8L1376.8,193.1L1376.9,191.5L1377.1,189.8L1377.2,188.1L1377.3,186.5L1377.4,184.8L1377.5,183.1L1377.5,183.1ZM1366.4,213.7L1366.4,214.1L1366.3,215.8L1366.1,217.4L1366.0,219.1L1365.9,220.7L1365.7,222.4L1365.6,224.1L1365.4,225.5L1374.2,226.3L1374.3,224.8L1374.4,223.2L1374.6,221.5L1374.7,219.8L1374.9,218.2L1375.0,216.5L1375.1,214.8L1375.2,214.4ZM1364.9,232.2L1364.8,232.4L1364.7,234.0L1364.5,235.7L1364.4,237.4L1364.2,239.0L1364.1,240.7L1363.9,242.3L1363.8,244.0L1363.6,245.6L1363.4,247.3L1363.3,249.0L1363.1,250.6L1363.0,252.3L1362.8,253.9L1362.6,255.6L1362.5,256.6L1371.2,257.5L1371.3,256.5L1371.5,254.8L1371.7,253.2L1371.8,251.5L1372.0,249.8L1372.2,248.2L1372.3,246.5L1372.5,244.8L1372.6,243.2L1372.8,241.5L1373.0,239.8L1373.1,238.2L1373.3,236.5L1373.4,234.8L1373.6,233.2L1373.6,233.0ZM1361.8,263.3L1361.8,263.9L1361.6,265.6L1361.4,267.2L1361.2,268.9L1361.1,270.5L1360.9,272.2L1360.7,273.8L1360.6,275.1L1369.3,276.1L1369.4,274.8L1369.6,273.1L1369.8,271.5L1369.9,269.8L1370.1,268.1L1370.3,266.5L1370.5,264.8L1370.5,264.2ZM1359.8,281.8L1359.8,282.1L1359.6,283.8L1359.4,285.4L1359.2,287.1L1359.0,288.7L1358.8,290.4L1358.6,292.1L1358.4,293.7L1358.2,295.4L1358.0,297.0L1357.8,298.7L1357.6,300.3L1357.4,302.0L1357.2,303.6L1357.0,305.3L1356.9,306.1L1365.6,307.2L1365.7,306.4L1365.9,304.7L1366.1,303.1L1366.3,301.4L1366.5,299.7L1366.7,298.1L1366.9,296.4L1367.1,294.8L1367.3,293.1L1367.5,291.4L1367.7,289.8L1367.9,288.1L1368.1,286.4L1368.3,284.8L1368.5,283.1L1368.5,282.8ZM1356.0,312.8L1355.9,313.6L1355.7,315.2L1355.5,316.9L1355.3,318.5L1355.1,320.2L1354.9,321.8L1354.6,323.5L1354.5,324.6L1363.1,325.7L1363.3,324.6L1363.5,323.0L1363.7,321.3L1363.9,319.7L1364.2,318.0L1364.4,316.3L1364.6,314.7L1364.7,313.9ZM1353.6,331.2L1353.5,331.7L1353.3,333.4L1353.0,335.0L1352.8,336.7L1352.6,338.3L1352.3,340.0L1352.1,341.6L1351.9,343.3L1351.6,344.9L1351.4,346.6L1351.1,348.2L1350.9,349.9L1350.7,351.5L1350.4,353.2L1350.2,354.8L1350.1,355.5L1358.7,356.8L1358.8,356.1L1359.0,354.5L1359.3,352.8L1359.5,351.2L1359.8,349.5L1360.0,347.9L1360.2,346.2L1360.5,344.5L1360.7,342.9L1361.0,341.2L1361.2,339.6L1361.4,337.9L1361.7,336.3L1361.9,334.6L1362.1,332.9L1362.2,332.4ZM1349.0,362.1L1348.9,363.1L1348.6,364.7L1348.4,366.4L1348.1,368.0L1347.9,369.6L1347.6,371.3L1347.3,372.9L1347.2,373.9L1355.8,375.2L1355.9,374.3L1356.2,372.7L1356.5,371.0L1356.7,369.4L1357.0,367.7L1357.2,366.1L1357.5,364.4L1357.6,363.5ZM1346.1,380.5L1346.0,381.2L1345.7,382.8L1345.5,384.4L1345.2,386.1L1344.9,387.7L1344.6,389.4L1344.4,391.0L1344.1,392.7L1343.8,394.3L1343.5,395.9L1343.2,397.6L1342.9,399.2L1342.7,400.9L1342.4,402.5L1342.1,404.1L1342.0,404.7L1350.5,406.2L1350.6,405.7L1350.9,404.0L1351.2,402.4L1351.5,400.7L1351.8,399.1L1352.1,397.4L1352.3,395.8L1352.6,394.1L1352.9,392.5L1353.2,390.8L1353.5,389.2L1353.7,387.5L1354.0,385.9L1354.3,384.2L1354.6,382.6L1354.7,381.9ZM1340.8,411.3L1340.6,412.3L1340.3,414.0L1340.0,415.6L1339.7,417.3L1339.4,418.9L1339.1,420.5L1338.8,422.2L1338.6,422.9L1347.1,424.6L1347.3,423.8L1347.6,422.1L1347.9,420.5L1348.2,418.8L1348.5,417.2L1348.8,415.5L1349.1,413.9L1349.3,412.8ZM1337.4,429.5L1337.2,430.3L1336.9,432.0L1336.6,433.6L1336.3,435.2L1336.0,436.9L1335.6,438.5L1335.3,440.1L1335.0,441.8L1334.7,443.4L1334.3,445.0L1334.0,446.7L1333.7,448.3L1333.4,449.9L1333.0,451.6L1332.7,453.2L1332.6,453.6L1341.0,455.3L1341.1,454.9L1341.5,453.3L1341.8,451.6L1342.1,450.0L1342.5,448.4L1342.8,446.7L1343.1,445.1L1343.5,443.5L1343.8,441.8L1344.1,440.2L1344.4,438.5L1344.8,436.9L1345.1,435.3L1345.4,433.6L1345.7,432.0L1345.9,431.2ZM1331.2,460.2L1331.0,461.3L1330.7,463.0L1330.3,464.6L1330.0,466.2L1329.6,467.8L1329.3,469.5L1328.9,471.1L1328.8,471.8L1337.2,473.6L1337.3,472.9L1337.7,471.3L1338.0,469.6L1338.4,468.0L1338.7,466.4L1339.1,464.7L1339.4,463.1L1339.7,461.9ZM1327.3,478.3L1327.1,479.2L1326.8,480.8L1326.4,482.5L1326.1,484.1L1325.7,485.7L1325.3,487.3L1325.0,488.9L1324.6,490.6L1324.2,492.2L1323.8,493.8L1323.5,495.4L1323.1,497.0L1322.7,498.7L1322.3,500.3L1322.0,501.9L1321.9,502.3L1330.2,504.2L1330.3,503.9L1330.7,502.2L1331.1,500.6L1331.4,499.0L1331.8,497.4L1332.2,495.7L1332.6,494.1L1332.9,492.5L1333.3,490.8L1333.7,489.2L1334.1,487.6L1334.4,486.0L1334.8,484.3L1335.2,482.7L1335.5,481.1L1335.7,480.2ZM1320.3,508.8L1320.0,510.0L1319.7,511.6L1319.3,513.2L1318.9,514.8L1318.5,516.4L1318.1,518.0L1317.7,519.7L1317.5,520.3L1325.8,522.4L1326.0,521.7L1326.4,520.1L1326.8,518.5L1327.2,516.8L1327.6,515.2L1328.0,513.6L1328.4,512.0L1328.6,510.8ZM1315.9,526.8L1315.7,527.7L1315.3,529.3L1314.9,530.9L1314.5,532.6L1314.0,534.2L1313.6,535.8L1313.2,537.4L1312.8,539.0L1312.4,540.6L1312.0,542.2L1311.5,543.8L1311.1,545.4L1310.7,547.0L1310.3,548.6L1309.9,550.2L1309.8,550.6L1318.0,552.8L1318.1,552.4L1318.5,550.8L1318.9,549.2L1319.4,547.6L1319.8,546.0L1320.2,544.4L1320.6,542.7L1321.0,541.1L1321.5,539.5L1321.9,537.9L1322.3,536.3L1322.7,534.7L1323.1,533.0L1323.5,531.4L1324.0,529.8L1324.2,528.9ZM1308.0,557.0L1307.7,558.2L1307.3,559.8L1306.8,561.4L1306.4,563.0L1305.9,564.6L1305.5,566.2L1305.1,567.8L1304.9,568.5L1313.0,570.8L1313.2,570.1L1313.7,568.5L1314.1,566.9L1314.6,565.3L1315.0,563.7L1315.5,562.1L1315.9,560.5L1316.2,559.3ZM1303.1,574.9L1302.8,575.8L1302.4,577.4L1301.9,579.0L1301.5,580.6L1301.0,582.2L1300.5,583.8L1300.1,585.4L1299.6,587.0L1299.1,588.6L1298.7,590.2L1298.2,591.8L1297.7,593.3L1297.3,594.9L1296.8,596.5L1296.3,598.1L1296.2,598.5L1304.3,600.9L1304.4,600.5L1304.9,598.9L1305.4,597.3L1305.8,595.7L1306.3,594.1L1306.8,592.5L1307.2,590.9L1307.7,589.3L1308.2,587.7L1308.7,586.1L1309.1,584.5L1309.6,582.9L1310.0,581.3L1310.5,579.7L1311.0,578.1L1311.2,577.3ZM1294.3,604.9L1293.9,606.0L1293.4,607.6L1293.0,609.2L1292.5,610.8L1292.0,612.4L1291.5,614.0L1291.0,615.5L1290.8,616.3L1298.8,618.8L1299.0,618.1L1299.5,616.5L1300.0,614.9L1300.5,613.3L1301.0,611.7L1301.5,610.1L1302.0,608.5L1302.3,607.4ZM1288.8,622.6L1288.5,623.4L1288.0,625.0L1287.5,626.6L1287.0,628.2L1286.5,629.8L1286.0,631.3L1285.4,632.9L1284.9,634.5L1284.4,636.0L1283.9,637.6L1283.4,639.2L1282.8,640.8L1282.3,642.3L1281.8,643.9L1281.3,645.5L1281.1,645.9L1289.0,648.6L1289.2,648.1L1289.7,646.6L1290.2,645.0L1290.8,643.4L1291.3,641.8L1291.8,640.3L1292.3,638.7L1292.9,637.1L1293.4,635.5L1293.9,633.9L1294.4,632.3L1294.9,630.8L1295.5,629.2L1296.0,627.6L1296.5,626.0L1296.7,625.2ZM1278.9,652.3L1278.6,653.3L1278.0,654.9L1277.5,656.4L1277.0,658.0L1276.4,659.6L1275.9,661.1L1275.3,662.7L1275.0,663.5L1282.8,666.3L1283.1,665.5L1283.7,663.9L1284.2,662.3L1284.8,660.7L1285.3,659.2L1285.9,657.6L1286.4,656.0L1286.8,655.0ZM1272.8,669.8L1272.5,670.5L1271.9,672.0L1271.4,673.6L1270.8,675.1L1270.2,676.7L1269.7,678.2L1269.1,679.8L1268.5,681.3L1267.9,682.9L1267.4,684.4L1266.8,686.0L1266.2,687.5L1265.6,689.1L1265.0,690.6L1264.4,692.2L1264.2,692.7L1271.8,695.7L1272.1,695.1L1272.7,693.6L1273.3,692.0L1273.9,690.5L1274.5,688.9L1275.0,687.3L1275.6,685.8L1276.2,684.2L1276.8,682.7L1277.4,681.1L1278.0,679.5L1278.6,678.0L1279.1,676.4L1279.7,674.9L1280.3,673.3L1280.5,672.6ZM1261.8,699.0L1261.4,699.9L1260.8,701.4L1260.2,703.0L1259.6,704.5L1259.0,706.0L1258.3,707.6L1257.7,709.1L1257.4,710.0L1264.9,713.1L1265.3,712.2L1265.9,710.6L1266.5,709.1L1267.2,707.5L1267.8,706.0L1268.4,704.4L1269.0,702.9L1269.4,702.0ZM1254.8,716.2L1254.6,716.8L1254.0,718.3L1253.3,719.8L1252.7,721.3L1252.0,722.9L1251.4,724.4L1250.7,725.9L1250.1,727.4L1249.4,729.0L1248.8,730.5L1248.1,732.0L1247.5,733.5L1246.8,735.0L1246.2,736.6L1245.5,738.1L1245.2,738.7L1252.6,742.0L1252.8,741.3L1253.5,739.8L1254.2,738.3L1254.9,736.7L1255.5,735.2L1256.2,733.7L1256.9,732.2L1257.5,730.6L1258.2,729.1L1258.8,727.6L1259.5,726.0L1260.2,724.5L1260.8,722.9L1261.4,721.4L1262.1,719.9L1262.3,719.3ZM1242.5,744.8L1242.1,745.6L1241.4,747.1L1240.7,748.7L1240.1,750.2L1239.4,751.7L1238.7,753.2L1238.0,754.7L1237.5,755.6L1244.8,759.0L1245.2,758.0L1245.9,756.5L1246.6,755.0L1247.3,753.5L1248.0,752.0L1248.7,750.5L1249.4,748.9L1249.8,748.1ZM1234.7,761.7L1234.5,762.2L1233.7,763.7L1233.0,765.2L1232.3,766.7L1231.6,768.2L1230.9,769.7L1230.1,771.2L1229.4,772.6L1228.7,774.1L1227.9,775.6L1227.2,777.1L1226.5,778.6L1225.7,780.1L1225.0,781.6L1224.2,783.1L1223.9,783.6L1230.9,787.2L1231.2,786.6L1232.0,785.1L1232.7,783.6L1233.5,782.1L1234.2,780.6L1235.0,779.1L1235.7,777.6L1236.5,776.1L1237.2,774.6L1238.0,773.1L1238.7,771.6L1239.4,770.1L1240.2,768.6L1240.9,767.1L1241.6,765.6L1241.9,765.1ZM1220.9,789.6L1220.4,790.5L1219.7,791.9L1218.9,793.4L1218.1,794.9L1217.3,796.3L1216.6,797.8L1215.8,799.3L1215.4,800.1L1222.2,803.8L1222.6,803.0L1223.4,801.5L1224.2,800.0L1225.0,798.5L1225.8,797.0L1226.6,795.5L1227.4,794.1L1227.8,793.2ZM1212.2,806.0L1211.8,806.6L1211.0,808.1L1210.2,809.5L1209.4,811.0L1208.6,812.5L1207.8,813.9L1207.0,815.4L1206.2,816.8L1205.3,818.3L1204.5,819.7L1203.7,821.2L1202.9,822.6L1202.0,824.1L1201.2,825.5L1200.3,827.0L1200.2,827.3L1206.7,831.1L1206.9,830.8L1207.7,829.4L1208.6,827.9L1209.4,826.5L1210.3,825.0L1211.1,823.5L1212.0,822.1L1212.8,820.6L1213.7,819.2L1214.5,817.7L1215.3,816.2L1216.1,814.7L1217.0,813.3L1217.8,811.8L1218.6,810.3L1219.0,809.7ZM1196.8,833.1L1196.1,834.2L1195.2,835.6L1194.4,837.1L1193.5,838.5L1192.6,839.9L1191.7,841.4L1190.9,842.8L1190.6,843.2L1197.0,847.1L1197.2,846.7L1198.1,845.3L1199.0,843.9L1199.9,842.4L1200.8,841.0L1201.7,839.5L1202.5,838.1L1203.2,836.9ZM1187.1,848.9L1186.4,849.9L1185.5,851.4L1184.6,852.8L1183.7,854.2L1182.8,855.6L1181.9,857.0L1181.0,858.4L1180.1,859.9L1179.2,861.3L1178.2,862.7L1177.3,864.1L1176.4,865.5L1175.4,866.9L1174.5,868.3L1173.7,869.4L1179.8,873.5L1180.5,872.4L1181.5,871.0L1182.4,869.5L1183.4,868.1L1184.3,866.7L1185.3,865.3L1186.2,863.9L1187.2,862.5L1188.1,861.1L1189.0,859.6L1190.0,858.2L1190.9,856.8L1191.8,855.4L1192.7,853.9L1193.4,852.9ZM1170.0,874.9L1169.8,875.2L1168.8,876.6L1167.8,878.0L1166.9,879.3L1165.9,880.7L1164.9,882.1L1164.0,883.5L1163.2,884.6L1168.9,888.8L1169.7,887.6L1170.7,886.3L1171.7,884.9L1172.7,883.5L1173.7,882.1L1174.7,880.7L1175.7,879.3L1175.9,879.0ZM1159.2,890.0L1159.0,890.2L1158.0,891.6L1157.0,892.9L1156.0,894.3L1155.0,895.6L1154.0,897.0L1153.0,898.3L1152.0,899.6L1150.9,901.0L1149.9,902.3L1148.9,903.6L1147.8,904.9L1146.8,906.2L1145.8,907.5L1144.7,908.8L1144.3,909.3L1149.6,913.6L1150.0,913.1L1151.1,911.8L1152.2,910.5L1153.2,909.2L1154.3,907.9L1155.3,906.6L1156.4,905.2L1157.5,903.9L1158.5,902.6L1159.5,901.2L1160.6,899.9L1161.6,898.5L1162.6,897.2L1163.7,895.8L1164.7,894.5L1164.9,894.2ZM1140.1,914.5L1139.4,915.3L1138.4,916.6L1137.3,917.9L1136.2,919.1L1135.1,920.4L1134.1,921.7L1133.0,922.9L1132.4,923.5L1137.4,927.9L1137.9,927.3L1139.1,926.0L1140.2,924.8L1141.3,923.5L1142.4,922.2L1143.5,920.9L1144.6,919.6L1145.3,918.8ZM1128.0,928.5L1127.5,929.2L1126.4,930.4L1125.2,931.6L1124.1,932.9L1123.0,934.1L1121.9,935.3L1120.7,936.5L1119.6,937.7L1118.5,938.9L1117.3,940.1L1116.2,941.3L1115.0,942.5L1113.9,943.7L1112.7,944.8L1111.5,946.0L1111.3,946.3L1115.7,950.7L1115.9,950.4L1117.1,949.3L1118.3,948.1L1119.5,946.9L1120.7,945.7L1121.9,944.5L1123.0,943.3L1124.2,942.1L1125.4,940.9L1126.5,939.7L1127.7,938.5L1128.9,937.2L1130.0,936.0L1131.1,934.8L1132.3,933.5L1132.9,932.9ZM1106.4,950.9L1105.6,951.7L1104.4,952.8L1103.2,953.9L1101.9,955.0L1100.7,956.1L1099.5,957.2L1098.3,958.3L1097.7,958.8L1102.1,963.7L1102.7,963.2L1103.9,962.1L1105.1,960.9L1106.3,959.8L1107.5,958.6L1108.8,957.5L1110.0,956.3L1110.8,955.5ZM1092.7,963.2L1092.1,963.7L1090.8,964.8L1089.6,965.8L1088.3,966.9L1087.1,967.9L1085.8,968.9L1084.5,970.0L1083.3,971.0L1082.0,972.0L1080.7,973.0L1079.4,974.0L1078.1,975.0L1076.8,976.0L1075.5,977.0L1074.2,978.0L1073.6,978.4L1077.9,984.0L1078.4,983.5L1079.8,982.5L1081.1,981.5L1082.4,980.5L1083.7,979.5L1085.0,978.4L1086.3,977.4L1087.6,976.3L1088.8,975.2L1090.1,974.2L1091.4,973.1L1092.7,972.0L1093.9,970.9L1095.2,969.9L1096.4,968.8L1097.0,968.2ZM1068.2,982.3L1067.6,982.7L1066.3,983.7L1065.0,984.6L1063.6,985.5L1062.3,986.4L1060.9,987.3L1059.6,988.2L1058.5,988.9L1062.6,995.0L1063.6,994.3L1065.0,993.3L1066.4,992.4L1067.7,991.4L1069.1,990.5L1070.4,989.5L1071.8,988.5L1072.4,988.1ZM1052.9,992.5L1052.7,992.6L1051.4,993.5L1050.0,994.3L1048.6,995.1L1047.2,996.0L1045.8,996.8L1044.4,997.6L1043.0,998.4L1041.6,999.2L1040.2,1000.0L1038.8,1000.8L1037.3,1001.6L1035.9,1002.4L1034.5,1003.1L1033.0,1003.9L1031.8,1004.5L1035.5,1011.4L1036.7,1010.7L1038.1,1009.9L1039.6,1009.1L1041.1,1008.3L1042.5,1007.5L1044.0,1006.7L1045.4,1005.8L1046.8,1005.0L1048.3,1004.1L1049.7,1003.3L1051.1,1002.4L1052.5,1001.5L1053.9,1000.7L1055.3,999.8L1056.7,998.9L1056.9,998.7ZM1025.9,1007.5L1025.8,1007.5L1024.3,1008.2L1022.9,1008.9L1021.4,1009.6L1019.9,1010.3L1018.4,1011.0L1016.9,1011.6L1015.4,1012.3L1015.3,1012.4L1018.5,1019.7L1018.7,1019.6L1020.2,1018.9L1021.8,1018.2L1023.3,1017.5L1024.8,1016.8L1026.3,1016.1L1027.8,1015.3L1029.3,1014.6L1029.4,1014.5ZM1009.2,1014.9L1007.9,1015.4L1006.4,1016.1L1004.9,1016.6L1003.4,1017.2L1001.9,1017.8L1000.3,1018.4L998.8,1018.9L997.3,1019.5L995.7,1020.0L994.2,1020.6L992.6,1021.1L991.1,1021.6L989.5,1022.1L988.0,1022.6L986.4,1023.1L986.4,1023.1L988.8,1031.1L988.9,1031.1L990.5,1030.6L992.1,1030.1L993.7,1029.5L995.3,1029.0L996.9,1028.4L998.5,1027.9L1000.1,1027.3L1001.6,1026.7L1003.2,1026.1L1004.8,1025.5L1006.3,1024.9L1007.9,1024.3L1009.5,1023.6L1011.0,1023.0L1012.3,1022.5ZM980.0,1025.0L978.6,1025.4L977.0,1025.8L975.4,1026.2L973.8,1026.6L972.3,1027.0L970.7,1027.4L969.1,1027.8L968.7,1027.8L970.6,1036.2L971.1,1036.1L972.7,1035.7L974.3,1035.3L976.0,1034.9L977.6,1034.4L979.2,1034.0L980.8,1033.5L982.3,1033.1ZM962.2,1029.3L961.1,1029.5L959.5,1029.8L957.9,1030.1L956.3,1030.4L954.7,1030.7L953.1,1030.9L951.5,1031.2L949.9,1031.4L948.3,1031.7L946.7,1031.9L945.1,1032.1L943.5,1032.3L941.9,1032.5L940.2,1032.7L938.6,1032.9L938.4,1032.9L939.2,1041.6L939.5,1041.6L941.2,1041.4L942.9,1041.2L944.6,1041.0L946.2,1040.8L947.9,1040.5L949.6,1040.3L951.2,1040.0L952.9,1039.8L954.6,1039.5L956.2,1039.2L957.9,1038.9L959.5,1038.6L961.2,1038.3L962.8,1037.9L964.0,1037.7ZM931.8,1033.5L930.6,1033.5L928.9,1033.6L927.3,1033.7L925.7,1033.8L924.1,1033.9L922.5,1033.9L920.9,1034.0L920.1,1034.0L920.3,1042.8L921.1,1042.8L922.7,1042.7L924.4,1042.7L926.1,1042.6L927.8,1042.5L929.5,1042.4L931.2,1042.3L932.4,1042.2ZM913.5,1034.0L912.8,1034.0L911.2,1034.0L909.6,1033.9L907.9,1033.9L906.3,1033.8L904.7,1033.7L903.1,1033.6L901.5,1033.5L899.9,1033.4L898.3,1033.3L896.7,1033.1L895.1,1033.0L893.4,1032.8L891.8,1032.6L890.2,1032.4L889.5,1032.4L888.4,1041.0L889.2,1041.1L890.8,1041.3L892.5,1041.5L894.2,1041.7L895.8,1041.9L897.5,1042.0L899.2,1042.1L900.9,1042.3L902.6,1042.4L904.2,1042.5L905.9,1042.6L907.6,1042.7L909.3,1042.7L911.0,1042.8L912.6,1042.8L913.4,1042.8ZM883.0,1031.4L882.2,1031.3L880.6,1031.1L879.0,1030.8L877.4,1030.5L875.7,1030.2L874.1,1029.9L872.5,1029.6L871.4,1029.4L869.7,1037.9L870.9,1038.1L872.5,1038.4L874.2,1038.7L875.8,1039.0L877.5,1039.3L879.2,1039.6L880.8,1039.9L881.6,1040.0ZM865.0,1028.1L864.5,1028.0L862.9,1027.6L861.3,1027.2L859.7,1026.8L858.1,1026.4L856.5,1026.0L854.9,1025.6L853.3,1025.2L851.7,1024.8L850.1,1024.4L848.5,1023.9L846.9,1023.5L845.2,1023.0L843.6,1022.6L842.0,1022.1L841.4,1021.9L839.0,1030.0L839.7,1030.2L841.3,1030.7L842.9,1031.2L844.5,1031.6L846.2,1032.1L847.8,1032.6L849.5,1033.0L851.1,1033.5L852.7,1033.9L854.4,1034.3L856.0,1034.7L857.7,1035.1L859.3,1035.5L861.0,1035.9L862.6,1036.3L863.1,1036.4ZM835.1,1020.0L834.1,1019.7L832.5,1019.2L830.9,1018.7L829.3,1018.2L827.7,1017.7L826.1,1017.1L824.5,1016.6L823.8,1016.4L821.2,1024.3L821.8,1024.5L823.4,1025.1L825.0,1025.6L826.7,1026.1L828.3,1026.7L829.9,1027.2L831.5,1027.7L832.6,1028.0ZM817.5,1014.2L816.5,1013.9L814.9,1013.3L813.3,1012.8L811.7,1012.2L810.1,1011.6L808.6,1011.1L807.0,1010.5L805.4,1009.9L803.8,1009.3L802.2,1008.8L800.6,1008.2L799.0,1007.6L797.5,1007.0L795.9,1006.4L794.5,1005.9L791.6,1013.6L793.0,1014.1L794.6,1014.7L796.2,1015.3L797.8,1015.9L799.4,1016.5L800.9,1017.1L802.5,1017.7L804.1,1018.3L805.7,1018.9L807.3,1019.4L808.9,1020.0L810.5,1020.6L812.2,1021.2L813.8,1021.7L814.8,1022.1ZM788.2,1003.5L788.0,1003.4L786.4,1002.8L784.8,1002.2L783.2,1001.6L781.7,1001.1L780.1,1000.5L778.5,999.9L777.1,999.3L774.1,1007.0L775.6,1007.5L777.2,1008.1L778.7,1008.7L780.3,1009.3L781.9,1009.9L783.5,1010.5L785.1,1011.1L785.3,1011.2ZM770.8,996.9L770.7,996.8L769.1,996.2L767.5,995.6L766.0,995.0L764.4,994.4L762.8,993.8L761.3,993.2L759.7,992.6L758.2,992.0L756.6,991.4L755.1,990.8L753.5,990.2L751.9,989.6L750.4,989.0L748.8,988.4L747.9,988.0L744.9,995.6L745.8,996.0L747.4,996.6L748.9,997.2L750.5,997.8L752.1,998.4L753.6,999.0L755.2,999.6L756.8,1000.3L758.3,1000.9L759.9,1001.5L761.4,1002.1L763.0,1002.7L764.6,1003.3L766.1,1003.9L767.7,1004.5L767.9,1004.6ZM741.7,985.5L741.1,985.3L739.6,984.7L738.0,984.0L736.5,983.4L734.9,982.8L733.4,982.2L731.8,981.6L730.7,981.1L727.6,988.6L728.8,989.1L730.3,989.7L731.9,990.4L733.4,991.0L735.0,991.6L736.5,992.2L738.1,992.9L738.7,993.1ZM724.5,978.5L724.2,978.4L722.6,977.8L721.1,977.1L719.6,976.5L718.0,975.9L716.5,975.2L715.0,974.6L713.4,973.9L711.9,973.3L710.4,972.7L708.9,972.0L707.3,971.4L705.8,970.7L704.3,970.1L702.8,969.4L701.9,969.0L698.7,976.4L699.6,976.8L701.1,977.5L702.6,978.1L704.2,978.8L705.7,979.5L707.2,980.1L708.8,980.8L710.3,981.4L711.8,982.1L713.4,982.7L714.9,983.4L716.4,984.0L718.0,984.6L719.5,985.3L721.1,985.9L721.4,986.1ZM695.7,966.3L695.2,966.1L693.7,965.4L692.2,964.8L690.6,964.1L689.1,963.4L687.6,962.7L686.1,962.1L684.9,961.5L681.6,968.8L682.8,969.4L684.3,970.1L685.9,970.8L687.4,971.4L688.9,972.1L690.4,972.8L691.9,973.5L692.5,973.7ZM678.8,958.8L678.6,958.7L677.1,958.0L675.6,957.3L674.1,956.6L672.6,955.9L671.1,955.2L669.6,954.5L668.1,953.8L666.6,953.0L665.1,952.3L663.6,951.6L662.1,950.9L660.6,950.2L659.1,949.5L657.6,948.7L656.7,948.3L653.2,955.4L654.1,955.8L655.6,956.6L657.1,957.3L658.6,958.0L660.1,958.8L661.6,959.5L663.1,960.2L664.6,960.9L666.2,961.7L667.7,962.4L669.2,963.1L670.7,963.8L672.2,964.5L673.7,965.2L675.2,965.9L675.5,966.0ZM650.7,945.3L650.1,945.1L648.6,944.3L647.1,943.6L645.7,942.8L644.2,942.1L642.7,941.3L641.2,940.6L640.1,940.0L636.5,946.9L637.6,947.5L639.1,948.3L640.6,949.1L642.1,949.8L643.6,950.6L645.1,951.3L646.6,952.1L647.1,952.4ZM634.1,936.9L633.8,936.7L632.3,935.9L630.8,935.2L629.4,934.4L627.9,933.6L626.4,932.8L625.0,932.0L623.5,931.2L622.0,930.4L620.6,929.6L619.1,928.8L617.6,928.0L616.2,927.2L614.7,926.3L613.3,925.5L612.7,925.2L608.9,931.8L609.5,932.1L610.9,933.0L612.4,933.8L613.9,934.6L615.3,935.5L616.8,936.3L618.3,937.1L619.8,938.0L621.2,938.8L622.7,939.6L624.2,940.4L625.7,941.2L627.2,942.0L628.7,942.8L630.2,943.6L630.5,943.8ZM606.9,921.8L606.0,921.3L604.6,920.5L603.2,919.6L601.7,918.8L600.3,917.9L598.9,917.1L597.4,916.2L596.8,915.8L592.8,922.1L593.5,922.6L595.0,923.5L596.4,924.3L597.8,925.2L599.3,926.1L600.7,927.0L602.2,927.8L603.0,928.4ZM591.1,912.2L590.4,911.8L589.0,910.9L587.6,910.0L586.2,909.1L584.8,908.2L583.4,907.3L582.0,906.4L580.6,905.5L579.2,904.5L577.8,903.6L576.5,902.7L575.1,901.8L573.7,900.8L572.4,899.9L571.0,898.9L570.8,898.7L566.6,904.6L566.9,904.8L568.2,905.7L569.6,906.7L571.0,907.7L572.4,908.7L573.7,909.6L575.1,910.6L576.5,911.5L577.9,912.5L579.3,913.4L580.7,914.4L582.1,915.3L583.5,916.2L585.0,917.1L586.4,918.0L587.1,918.5ZM565.3,894.9L564.3,894.1L562.9,893.1L561.6,892.1L560.3,891.2L559.0,890.2L557.7,889.2L556.4,888.2L555.9,887.8L551.6,893.3L552.1,893.6L553.4,894.7L554.7,895.7L556.1,896.7L557.4,897.8L558.7,898.8L560.1,899.8L561.1,900.6ZM550.6,883.7L549.9,883.1L548.6,882.1L547.3,881.0L546.1,880.0L544.8,878.9L543.5,877.9L542.3,876.8L541.0,875.7L539.8,874.7L538.6,873.6L537.3,872.5L536.1,871.4L534.9,870.3L533.7,869.2L532.5,868.1L532.1,867.9L527.7,872.6L528.1,872.9L529.3,874.0L530.5,875.1L531.7,876.3L533.0,877.4L534.2,878.5L535.4,879.6L536.7,880.7L537.9,881.9L539.2,883.0L540.5,884.0L541.7,885.1L543.0,886.2L544.3,887.3L545.6,888.4L546.3,889.0ZM527.3,863.3L526.5,862.6L525.3,861.4L524.1,860.3L523.0,859.1L521.8,858.0L520.7,856.8L519.5,855.6L518.9,855.0L514.4,859.4L515.0,860.0L516.2,861.2L517.4,862.4L518.6,863.5L519.7,864.7L520.9,865.9L522.1,867.1L522.9,867.8ZM514.4,850.1L514.0,849.7L512.9,848.4L511.8,847.2L510.7,846.0L509.6,844.8L508.5,843.6L507.4,842.3L506.4,841.1L505.3,839.9L504.2,838.6L503.2,837.4L502.1,836.1L501.1,834.9L500.0,833.6L499.0,832.4L498.4,831.6L493.2,836.0L493.8,836.7L494.9,837.9L495.9,839.2L497.0,840.5L498.1,841.7L499.2,843.0L500.3,844.2L501.4,845.5L502.5,846.7L503.6,847.9L504.7,849.2L505.8,850.4L507.0,851.6L508.1,852.8L509.2,854.0L509.7,854.5ZM494.3,826.4L493.9,826.0L492.9,824.7L491.9,823.4L490.9,822.1L489.9,820.8L488.9,819.5L488.0,818.2L487.1,817.0L481.5,821.3L482.4,822.4L483.4,823.7L484.4,825.0L485.4,826.4L486.4,827.7L487.5,829.0L488.5,830.3L488.9,830.7ZM483.2,811.7L483.1,811.6L482.2,810.2L481.2,808.9L480.3,807.6L479.4,806.2L478.4,804.9L477.5,803.5L476.6,802.2L475.7,800.8L474.8,799.5L473.8,798.1L472.9,796.7L472.0,795.4L471.2,794.0L470.3,792.6L469.5,791.4L463.3,795.5L464.1,796.6L465.0,798.0L465.9,799.4L466.8,800.8L467.8,802.2L468.7,803.6L469.7,804.9L470.6,806.3L471.6,807.7L472.5,809.0L473.5,810.4L474.4,811.7L475.4,813.1L476.4,814.4L477.4,815.8L477.4,815.8ZM466.0,785.8L465.9,785.7L465.0,784.3L464.2,782.9L463.3,781.5L462.5,780.1L461.6,778.7L460.8,777.3L459.9,775.8L459.9,775.7L453.3,779.6L453.4,779.7L454.3,781.1L455.2,782.6L456.0,784.0L456.9,785.4L457.8,786.8L458.7,788.2L459.6,789.6L459.6,789.8ZM456.5,769.9L455.8,768.7L455.0,767.3L454.2,765.9L453.4,764.4L452.6,763.0L451.9,761.5L451.1,760.1L450.3,758.6L449.5,757.2L448.7,755.7L448.0,754.3L447.2,752.8L446.5,751.4L445.7,749.9L444.9,748.4L444.9,748.4L438.0,752.0L438.0,752.0L438.8,753.5L439.5,755.0L440.3,756.5L441.1,757.9L441.9,759.4L442.7,760.9L443.5,762.3L444.3,763.8L445.1,765.3L445.9,766.7L446.7,768.2L447.6,769.6L448.4,771.1L449.2,772.5L449.9,773.7ZM441.9,742.5L441.3,741.1L440.5,739.6L439.8,738.1L439.1,736.6L438.4,735.2L437.7,733.7L437.0,732.2L436.8,731.8L429.6,735.2L429.8,735.6L430.5,737.1L431.2,738.6L432.0,740.1L432.7,741.6L433.5,743.1L434.2,744.6L434.9,746.0ZM434.0,725.8L433.5,724.7L432.8,723.2L432.2,721.7L431.5,720.2L430.8,718.7L430.2,717.2L429.5,715.7L428.8,714.1L428.2,712.6L427.6,711.1L426.9,709.6L426.3,708.1L425.6,706.5L425.0,705.0L424.4,703.5L424.3,703.3L416.8,706.4L416.9,706.6L417.5,708.1L418.1,709.7L418.8,711.2L419.5,712.7L420.1,714.3L420.8,715.8L421.4,717.4L422.1,718.9L422.8,720.4L423.5,721.9L424.2,723.5L424.8,725.0L425.5,726.5L426.2,728.0L426.7,729.1ZM421.8,697.1L421.3,695.8L420.7,694.3L420.1,692.7L419.5,691.2L418.9,689.7L418.3,688.1L417.7,686.6L417.6,686.1L409.9,689.0L410.0,689.5L410.6,691.0L411.2,692.6L411.9,694.2L412.5,695.7L413.1,697.3L413.7,698.8L414.2,700.2ZM415.3,679.8L414.9,678.8L414.3,677.2L413.8,675.7L413.2,674.1L412.7,672.6L412.1,671.0L411.6,669.4L411.0,667.9L410.5,666.3L410.0,664.7L409.4,663.2L408.9,661.6L408.4,660.0L407.9,658.4L407.4,656.9L407.3,656.7L399.4,659.3L399.4,659.5L399.9,661.0L400.5,662.6L401.0,664.2L401.5,665.8L402.1,667.4L402.6,669.0L403.2,670.6L403.7,672.2L404.3,673.7L404.8,675.3L405.4,676.9L406.0,678.5L406.5,680.1L407.1,681.6L407.5,682.7ZM405.3,650.4L404.8,648.9L404.4,647.4L403.9,645.8L403.4,644.2L402.9,642.6L402.4,641.0L401.9,639.4L401.8,639.0L393.8,641.4L393.9,641.8L394.4,643.4L394.8,645.0L395.3,646.6L395.8,648.3L396.3,649.9L396.8,651.5L397.3,652.9ZM400.0,632.6L399.6,631.4L399.2,629.8L398.7,628.2L398.3,626.6L397.8,625.0L397.4,623.4L397.0,621.8L396.5,620.2L396.1,618.6L395.7,617.0L395.2,615.4L394.8,613.7L394.4,612.1L394.0,610.5L393.6,609.0L385.3,611.1L385.7,612.6L386.2,614.3L386.6,615.9L387.0,617.5L387.4,619.2L387.9,620.8L388.3,622.4L388.8,624.0L389.2,625.7L389.7,627.3L390.1,628.9L390.6,630.5L391.0,632.1L391.5,633.8L391.8,635.0ZM392.0,602.5L392.0,602.4L391.6,600.8L391.2,599.2L390.8,597.6L390.4,595.9L390.0,594.3L389.6,592.7L389.3,591.1L389.3,591.0L380.9,592.9L380.9,593.0L381.3,594.6L381.7,596.3L382.1,597.9L382.5,599.6L382.9,601.2L383.3,602.8L383.7,604.5L383.7,604.6ZM387.8,584.5L387.4,582.9L387.1,581.3L386.7,579.6L386.4,578.0L386.0,576.4L385.7,574.7L385.3,573.1L385.0,571.5L384.7,569.8L384.3,568.2L384.0,566.5L383.7,564.9L383.4,563.3L383.0,561.6L382.8,560.5L374.3,562.1L374.6,563.3L374.9,564.9L375.2,566.6L375.5,568.2L375.9,569.9L376.2,571.5L376.6,573.2L376.9,574.9L377.3,576.5L377.6,578.2L378.0,579.8L378.3,581.5L378.7,583.1L379.0,584.8L379.4,586.3ZM381.6,553.9L381.5,553.4L381.2,551.7L380.9,550.1L380.6,548.4L380.3,546.8L380.0,545.1L379.7,543.5L379.5,542.3L370.9,543.8L371.1,545.0L371.4,546.7L371.7,548.3L372.0,550.0L372.3,551.7L372.7,553.3L373.0,555.0L373.1,555.5ZM378.3,535.7L378.3,535.2L378.0,533.6L377.7,531.9L377.5,530.3L377.2,528.6L376.9,527.0L376.7,525.3L376.4,523.7L376.2,522.0L375.9,520.4L375.6,518.7L375.4,517.0L375.2,515.4L374.9,513.7L374.7,512.1L374.6,511.5L366.0,512.7L366.1,513.3L366.3,515.0L366.5,516.7L366.8,518.3L367.0,520.0L367.3,521.7L367.6,523.3L367.8,525.0L368.1,526.7L368.3,528.3L368.6,530.0L368.9,531.7L369.2,533.3L369.4,535.0L369.7,536.7L369.8,537.1ZM373.7,504.8L373.5,503.8L373.3,502.1L373.1,500.5L372.8,498.8L372.6,497.1L372.4,495.5L372.2,493.8L372.1,493.1L363.4,494.2L363.5,494.9L363.8,496.6L364.0,498.3L364.2,499.9L364.4,501.6L364.6,503.3L364.9,505.0L365.0,506.0ZM371.3,486.4L371.2,485.5L371.0,483.8L370.8,482.2L370.6,480.5L370.4,478.9L370.2,477.2L370.0,475.5L369.8,473.9L369.7,472.2L369.5,470.6L369.3,468.9L369.1,467.2L369.0,465.6L368.8,463.9L368.6,462.2L368.6,462.1L359.9,462.9L359.9,463.1L360.1,464.8L360.3,466.5L360.4,468.1L360.6,469.8L360.8,471.5L361.0,473.2L361.2,474.8L361.3,476.5L361.5,478.2L361.7,479.9L361.9,481.5L362.1,483.2L362.3,484.9L362.5,486.5L362.6,487.5ZM368.0,455.4L367.9,453.9L367.7,452.3L367.6,450.6L367.4,448.9L367.3,447.3L367.1,445.6L367.0,443.9L367.0,443.6L358.2,444.3L358.3,444.7L358.4,446.3L358.5,448.0L358.7,449.7L358.8,451.4L359.0,453.0L359.1,454.7L359.3,456.2ZM366.5,436.9L366.4,435.6L366.3,434.0L366.1,432.3L366.0,430.6L365.9,429.0L365.8,427.3L365.7,425.7L365.6,424.0L365.5,422.3L365.4,420.7L365.3,419.0L365.2,417.3L365.1,415.7L365.0,414.0L365.0,412.5L356.2,412.9L356.3,414.5L356.3,416.1L356.4,417.8L356.5,419.5L356.6,421.2L356.7,422.9L356.8,424.5L356.9,426.2L357.0,427.9L357.1,429.6L357.3,431.2L357.4,432.9L357.5,434.6L357.6,436.3L357.7,437.6ZM364.6,405.8L364.6,405.7L364.6,404.0L364.5,402.4L364.4,400.7L364.4,399.1L364.3,397.4L364.3,395.7L364.2,394.1L364.2,394.0L355.4,394.2L355.4,394.4L355.5,396.0L355.5,397.7L355.6,399.4L355.6,401.1L355.7,402.7L355.8,404.4L355.9,406.1L355.9,406.2ZM364.0,387.3L364.0,385.8L363.9,384.1L363.9,382.4L363.9,380.8L363.8,379.1L363.8,377.5L363.8,375.8L363.8,374.1L363.8,372.5L363.7,370.8L363.7,369.2L363.7,367.5L363.7,365.8L363.7,364.2L363.7,362.8L354.9,362.8L354.9,364.2L354.9,365.9L354.9,367.5L354.9,369.2L354.9,370.9L355.0,372.6L355.0,374.2L355.0,375.9L355.0,377.6L355.0,379.3L355.1,380.9L355.1,382.6L355.1,384.3L355.2,386.0L355.2,387.5ZM363.7,356.1L363.7,355.9L363.8,354.2L363.8,352.6L363.8,350.9L363.8,349.3L363.8,347.6L363.9,345.9L363.9,344.3L363.9,344.3L355.1,344.1L355.1,344.1L355.1,345.8L355.0,347.5L355.0,349.1L355.0,350.8L355.0,352.5L355.0,354.1L354.9,355.8L354.9,356.0ZM364.1,337.6L364.1,336.0L364.2,334.4L364.2,332.7L364.3,331.1L364.3,329.4L364.4,327.7L364.5,326.1L364.5,324.4L364.6,322.8L364.7,321.1L364.7,319.5L364.8,317.8L364.9,316.2L365.0,314.5L365.1,313.1L356.3,312.6L356.2,314.1L356.1,315.7L356.0,317.4L356.0,319.1L355.9,320.7L355.8,322.4L355.7,324.1L355.7,325.7L355.6,327.4L355.5,329.1L355.5,330.7L355.4,332.4L355.4,334.1L355.3,335.8L355.3,337.3ZM365.5,306.4L365.5,306.3L365.6,304.6L365.7,303.0L365.8,301.3L365.9,299.7L366.0,298.0L366.1,296.4L366.3,294.7L366.3,294.6L357.5,294.0L357.5,294.1L357.4,295.7L357.3,297.4L357.2,299.1L357.0,300.7L356.9,302.4L356.8,304.1L356.7,305.7L356.7,305.9ZM366.8,288.0L366.9,286.5L367.1,284.9L367.2,283.2L367.4,281.6L367.5,279.9L367.7,278.3L367.8,276.6L368.0,275.0L368.1,273.4L368.3,271.7L368.5,270.1L368.7,268.4L368.8,266.8L369.0,265.2L369.2,263.6L360.5,262.6L360.3,264.2L360.1,265.8L360.0,267.5L359.8,269.2L359.6,270.8L359.4,272.5L359.3,274.1L359.1,275.8L358.9,277.5L358.8,279.1L358.6,280.8L358.5,282.4L358.3,284.1L358.2,285.8L358.1,287.2ZM370.0,257.0L370.2,255.3L370.4,253.7L370.6,252.1L370.8,250.4L371.0,248.8L371.2,247.2L371.4,245.5L371.5,245.2L362.8,244.0L362.8,244.4L362.6,246.0L362.3,247.7L362.1,249.3L361.9,251.0L361.7,252.6L361.5,254.3L361.3,255.9ZM372.4,238.6L372.6,237.4L372.8,235.7L373.0,234.1L373.3,232.5L373.5,230.8L373.8,229.2L374.0,227.6L374.3,226.0L374.6,224.3L374.8,222.7L375.1,221.1L375.4,219.4L375.6,217.8L375.9,216.2L376.2,214.6L376.2,214.4L367.7,212.9L367.6,213.1L367.4,214.7L367.1,216.4L366.8,218.0L366.5,219.6L366.3,221.3L366.0,222.9L365.7,224.6L365.5,226.2L365.2,227.9L364.9,229.5L364.7,231.2L364.4,232.8L364.2,234.5L363.9,236.1L363.8,237.4ZM377.4,207.9L377.6,206.5L377.9,204.8L378.2,203.2L378.6,201.6L378.9,200.0L379.2,198.4L379.5,196.8L379.6,196.2L371.1,194.5L371.0,195.1L370.7,196.7L370.4,198.3L370.1,200.0L369.8,201.6L369.4,203.2L369.1,204.9L368.9,206.3ZM380.9,189.7L381.1,188.7L381.5,187.1L381.8,185.5L382.2,183.8L382.5,182.2L382.9,180.6L383.2,179.0L383.6,177.4L383.9,175.8L384.3,174.2L384.7,172.6L385.1,171.0L385.4,169.4L385.8,167.8L386.2,166.2L386.3,165.8L378.0,163.8L377.9,164.1L377.5,165.8L377.1,167.4L376.7,169.0L376.3,170.6L376.0,172.3L375.6,173.9L375.2,175.5L374.8,177.1L374.5,178.8L374.1,180.4L373.8,182.0L373.4,183.6L373.1,185.3L372.7,186.9L372.5,187.9ZM387.9,159.3L388.2,158.1L388.6,156.5L389.0,154.9L389.4,153.3L389.8,151.8L390.2,150.2L390.7,148.6L390.8,147.9L382.6,145.7L382.4,146.4L382.0,148.0L381.6,149.6L381.2,151.2L380.7,152.8L380.3,154.4L379.9,156.0L379.6,157.2ZM392.6,141.4L392.8,140.6L393.3,139.0L393.7,137.4L394.2,135.8L394.6,134.2L395.1,132.6L395.5,131.0L396.0,129.5L396.5,127.9L396.9,126.3L397.4,124.7L397.9,123.1L398.4,121.5L398.9,120.0L399.4,118.4L399.5,118.0L391.5,115.4L391.3,115.9L390.8,117.5L390.3,119.1L389.9,120.7L389.4,122.3L388.9,123.9L388.4,125.5L387.9,127.1L387.4,128.7L387.0,130.3L386.5,131.9L386.0,133.5L385.6,135.1L385.1,136.7L384.7,138.3L384.4,139.1ZM401.5,111.6L401.9,110.5L402.4,108.9L402.9,107.3L403.4,105.8L403.9,104.2L404.5,102.6L405.0,101.0L405.2,100.4L397.4,97.7L397.1,98.3L396.6,99.9L396.0,101.5L395.5,103.1L395.0,104.7L394.4,106.3L393.9,107.9L393.6,109.0ZM407.4,94.0L407.7,93.2L408.3,91.6L408.8,90.1L409.4,88.5L410.0,86.9L410.5,85.4L411.1,83.8L411.7,82.2L412.3,80.7L412.8,79.1L413.4,77.6L414.0,76.0L414.6,74.5L415.2,72.9L415.8,71.3L415.9,71.1L408.3,68.1L408.2,68.4L407.6,69.9L407.0,71.5L406.4,73.1L405.7,74.6L405.1,76.2L404.5,77.8L404.0,79.4L403.4,80.9L402.8,82.5L402.2,84.1L401.6,85.7L401.0,87.3L400.5,88.8L399.9,90.4L399.6,91.3ZM418.4,64.9L418.9,63.6L419.5,62.0L420.1,60.5L420.8,58.9L421.4,57.4L422.1,55.9L422.7,54.3L422.9,54.0L415.4,50.8L415.2,51.2L414.6,52.7L413.9,54.3L413.3,55.8L412.6,57.4L412.0,59.0L411.3,60.5L410.8,61.8ZM425.5,47.8L426.0,46.6L418.6,43.4L418.1,44.6Z" fill="#000"/>
<path d="M1120.8,33.1L1120.8,34.6L1120.8,36.2L1120.8,37.7L1120.8,39.2L1120.8,40.8L1120.8,42.3L1120.8,43.9L1120.8,45.4L1120.7,46.9L1120.7,48.5L1120.7,50.0L1120.7,51.5L1120.7,53.1L1120.7,54.6L1120.7,56.2L1120.7,57.7L1129.5,57.7L1129.5,56.2L1129.5,54.7L1129.5,53.2L1129.5,51.6L1129.5,50.1L1129.5,48.5L1129.5,47.0L1129.6,45.4L1129.6,43.9L1129.6,42.4L1129.6,40.8L1129.6,39.3L1129.6,37.7L1129.6,36.2L1129.6,34.6L1129.6,33.1ZM1120.2,83.0L1120.2,83.8L1120.2,85.4L1120.2,86.9L1120.1,88.4L1120.1,90.0L1120.0,91.5L1120.0,93.1L1120.0,94.6L1119.9,96.1L1119.9,97.7L1119.8,99.2L1119.8,100.7L1119.8,102.3L1119.7,103.8L1119.7,105.4L1119.6,106.9L1119.6,107.5L1128.4,107.8L1128.4,107.2L1128.5,105.6L1128.5,104.1L1128.5,102.5L1128.6,101.0L1128.6,99.5L1128.7,97.9L1128.7,96.4L1128.8,94.8L1128.8,93.3L1128.8,91.7L1128.9,90.2L1128.9,88.7L1129.0,87.1L1129.0,85.6L1129.0,84.0L1129.0,83.1ZM1118.6,132.8L1118.6,133.0L1118.6,134.6L1118.5,136.1L1118.4,137.6L1118.4,139.2L1118.3,140.7L1118.2,142.2L1118.2,143.8L1118.1,145.3L1118.0,146.9L1117.9,148.4L1117.9,149.9L1117.8,151.5L1117.7,153.0L1117.6,154.5L1117.5,156.1L1117.5,157.3L1126.2,157.8L1126.3,156.5L1126.4,155.0L1126.5,153.5L1126.6,151.9L1126.6,150.4L1126.7,148.8L1126.8,147.3L1126.9,145.7L1126.9,144.2L1127.0,142.7L1127.1,141.1L1127.1,139.6L1127.2,138.0L1127.3,136.5L1127.4,134.9L1127.4,133.4L1127.4,133.2ZM1116.0,182.6L1115.9,183.7L1115.8,185.3L1115.7,186.8L1115.6,188.3L1115.5,189.9L1115.4,191.4L1115.3,192.9L1115.2,194.5L1115.1,196.0L1115.0,197.5L1114.8,199.1L1114.7,200.6L1114.6,202.2L1114.5,203.7L1114.4,205.2L1114.3,206.8L1114.3,207.1L1123.0,207.7L1123.0,207.4L1123.1,205.9L1123.3,204.3L1123.4,202.8L1123.5,201.3L1123.6,199.7L1123.7,198.2L1123.8,196.6L1123.9,195.1L1124.0,193.6L1124.1,192.0L1124.2,190.5L1124.4,188.9L1124.5,187.4L1124.6,185.8L1124.7,184.3L1124.7,183.1ZM1112.2,232.3L1112.1,232.8L1112.0,234.4L1111.9,235.9L1111.7,237.4L1111.6,239.0L1111.5,240.5L1111.3,242.0L1111.2,243.6L1111.0,245.1L1110.9,246.6L1110.7,248.2L1110.6,249.7L1110.4,251.2L1110.3,252.7L1110.2,254.3L1110.0,255.8L1109.9,256.7L1118.6,257.6L1118.7,256.7L1118.9,255.1L1119.0,253.6L1119.2,252.1L1119.3,250.5L1119.5,249.0L1119.6,247.4L1119.8,245.9L1119.9,244.4L1120.0,242.8L1120.2,241.3L1120.3,239.8L1120.5,238.2L1120.6,236.7L1120.7,235.1L1120.9,233.6L1120.9,233.0ZM1107.3,281.9L1107.1,283.4L1106.9,284.9L1106.8,286.4L1106.6,287.9L1106.4,289.5L1106.2,291.0L1106.1,292.5L1105.9,294.1L1105.7,295.6L1105.5,297.1L1105.3,298.6L1105.2,300.2L1105.0,301.7L1104.8,303.2L1104.6,304.7L1104.4,306.3L1113.1,307.3L1113.3,305.8L1113.5,304.3L1113.7,302.7L1113.8,301.2L1114.0,299.7L1114.2,298.1L1114.4,296.6L1114.6,295.1L1114.7,293.5L1114.9,292.0L1115.1,290.5L1115.3,288.9L1115.5,287.4L1115.6,285.9L1115.8,284.3L1116.0,282.8ZM1101.2,331.3L1101.1,332.2L1100.9,333.7L1100.7,335.3L1100.4,336.8L1100.2,338.3L1100.0,339.8L1099.8,341.4L1099.6,342.9L1099.4,344.4L1099.2,345.9L1098.9,347.4L1098.7,349.0L1098.5,350.5L1098.3,352.0L1098.1,353.5L1097.8,355.1L1097.8,355.6L1106.4,356.9L1106.5,356.3L1106.7,354.8L1106.9,353.3L1107.1,351.7L1107.3,350.2L1107.6,348.7L1107.8,347.2L1108.0,345.6L1108.2,344.1L1108.4,342.6L1108.7,341.0L1108.9,339.5L1109.1,338.0L1109.3,336.4L1109.5,334.9L1109.7,333.4L1109.8,332.5ZM1093.9,380.7L1093.9,380.9L1093.6,382.4L1093.4,383.9L1093.1,385.5L1092.9,387.0L1092.6,388.5L1092.4,390.0L1092.1,391.5L1091.9,393.0L1091.6,394.6L1091.4,396.1L1091.1,397.6L1090.9,399.1L1090.6,400.6L1090.3,402.1L1090.1,403.7L1089.9,404.9L1098.4,406.3L1098.6,405.1L1098.9,403.6L1099.2,402.1L1099.4,400.6L1099.7,399.0L1099.9,397.5L1100.2,396.0L1100.4,394.5L1100.7,392.9L1101.0,391.4L1101.2,389.9L1101.5,388.4L1101.7,386.8L1102.0,385.3L1102.2,383.8L1102.4,382.3L1102.5,382.0ZM1085.4,429.8L1085.2,430.9L1084.9,432.4L1084.6,433.9L1084.3,435.4L1084.1,436.9L1083.8,438.4L1083.5,440.0L1083.2,441.5L1082.9,443.0L1082.6,444.5L1082.3,446.0L1082.0,447.5L1081.7,449.0L1081.4,450.5L1081.1,452.0L1080.8,453.5L1080.8,453.9L1089.2,455.6L1089.3,455.2L1089.6,453.7L1089.9,452.2L1090.2,450.7L1090.5,449.2L1090.8,447.6L1091.1,446.1L1091.4,444.6L1091.7,443.1L1092.0,441.6L1092.3,440.1L1092.5,438.6L1092.8,437.0L1093.1,435.5L1093.4,434.0L1093.7,432.5L1093.9,431.3ZM1075.6,478.6L1075.5,479.1L1075.2,480.6L1074.9,482.1L1074.6,483.6L1074.2,485.1L1073.9,486.6L1073.6,488.1L1073.3,489.6L1072.9,491.1L1072.6,492.6L1072.3,494.1L1071.9,495.6L1071.6,497.1L1071.3,498.6L1070.9,500.1L1070.6,501.6L1070.4,502.6L1078.7,504.5L1079.0,503.5L1079.3,502.0L1079.6,500.5L1080.0,499.0L1080.3,497.5L1080.7,496.0L1081.0,494.5L1081.3,493.0L1081.7,491.5L1082.0,490.0L1082.3,488.5L1082.6,487.0L1083.0,485.5L1083.3,483.9L1083.6,482.4L1084.0,480.9L1084.1,480.4ZM1064.6,527.2L1064.3,528.6L1063.9,530.1L1063.6,531.6L1063.2,533.1L1062.8,534.5L1062.5,536.0L1062.1,537.5L1061.7,539.0L1061.3,540.5L1061.0,542.0L1060.6,543.5L1060.2,545.0L1059.8,546.5L1059.5,548.0L1059.1,549.5L1058.7,550.9L1058.7,551.0L1066.9,553.2L1067.0,553.1L1067.4,551.6L1067.7,550.1L1068.1,548.6L1068.5,547.1L1068.9,545.6L1069.2,544.1L1069.6,542.6L1070.0,541.1L1070.4,539.6L1070.7,538.1L1071.1,536.6L1071.5,535.1L1071.9,533.6L1072.2,532.1L1072.6,530.6L1072.9,529.2ZM1052.2,575.5L1052.1,576.2L1051.7,577.7L1051.2,579.2L1050.8,580.7L1050.4,582.1L1050.0,583.6L1049.6,585.1L1049.2,586.6L1048.8,588.1L1048.4,589.6L1048.0,591.0L1047.6,592.5L1047.1,594.0L1046.7,595.5L1046.3,597.0L1045.9,598.4L1045.7,599.1L1053.8,601.5L1054.0,600.8L1054.4,599.3L1054.9,597.8L1055.3,596.3L1055.7,594.8L1056.1,593.3L1056.5,591.8L1057.0,590.4L1057.4,588.9L1057.8,587.4L1058.2,585.9L1058.6,584.4L1059.0,582.9L1059.4,581.4L1059.8,579.9L1060.3,578.4L1060.4,577.7ZM1038.6,623.4L1038.5,623.5L1038.1,625.0L1037.6,626.5L1037.2,627.9L1036.7,629.4L1036.3,630.9L1035.8,632.3L1035.4,633.8L1034.9,635.3L1034.5,636.7L1034.0,638.2L1033.6,639.7L1033.1,641.2L1032.7,642.6L1032.2,644.1L1031.7,645.6L1031.3,646.9L1039.3,649.4L1039.7,648.1L1040.2,646.6L1040.7,645.1L1041.1,643.7L1041.6,642.2L1042.1,640.7L1042.5,639.2L1043.0,637.8L1043.4,636.3L1043.9,634.8L1044.3,633.3L1044.8,631.9L1045.2,630.4L1045.7,628.9L1046.1,627.4L1046.6,625.9L1046.6,625.8ZM1023.5,670.9L1023.2,671.9L1022.7,673.3L1022.2,674.8L1021.7,676.2L1021.2,677.7L1020.7,679.1L1020.2,680.6L1019.7,682.0L1019.2,683.5L1018.7,684.9L1018.2,686.4L1017.7,687.8L1017.2,689.3L1016.6,690.7L1016.1,692.2L1015.6,693.6L1015.5,694.1L1023.3,696.9L1023.4,696.4L1023.9,695.0L1024.5,693.5L1025.0,692.0L1025.5,690.6L1026.0,689.1L1026.5,687.7L1027.0,686.2L1027.5,684.8L1028.0,683.3L1028.6,681.8L1029.1,680.4L1029.6,678.9L1030.1,677.5L1030.6,676.0L1031.1,674.5L1031.4,673.6ZM1006.7,717.7L1006.6,718.1L1006.0,719.5L1005.5,720.9L1004.9,722.4L1004.4,723.8L1003.8,725.2L1003.2,726.6L1002.7,728.1L1002.1,729.5L1001.6,730.9L1001.0,732.3L1000.4,733.8L999.8,735.2L999.3,736.6L998.7,738.0L998.1,739.4L997.7,740.5L1005.2,743.6L1005.6,742.5L1006.2,741.1L1006.8,739.7L1007.4,738.2L1008.0,736.8L1008.6,735.4L1009.1,733.9L1009.7,732.5L1010.3,731.1L1010.9,729.6L1011.4,728.2L1012.0,726.8L1012.6,725.3L1013.1,723.9L1013.7,722.5L1014.2,721.0L1014.4,720.7ZM987.8,763.7L987.3,764.7L986.7,766.1L986.1,767.5L985.4,768.9L984.8,770.3L984.2,771.7L983.5,773.1L982.9,774.5L982.3,775.9L981.6,777.2L981.0,778.6L980.3,780.0L979.7,781.4L979.0,782.8L978.4,784.2L977.7,785.5L977.5,786.0L984.6,789.4L984.9,789.0L985.5,787.6L986.2,786.2L986.9,784.8L987.5,783.4L988.2,782.0L988.8,780.6L989.5,779.2L990.1,777.8L990.8,776.4L991.4,775.0L992.1,773.6L992.7,772.2L993.4,770.8L994.0,769.4L994.6,768.0L995.1,767.0ZM966.2,808.5L966.1,808.7L965.4,810.1L964.7,811.4L964.0,812.8L963.3,814.1L962.6,815.5L961.8,816.8L961.1,818.2L960.4,819.5L959.7,820.8L958.9,822.2L958.2,823.5L957.4,824.9L956.7,826.2L956.0,827.5L955.2,828.9L954.6,830.0L961.2,833.8L961.9,832.6L962.6,831.3L963.4,829.9L964.2,828.6L964.9,827.3L965.7,825.9L966.4,824.6L967.2,823.2L967.9,821.9L968.6,820.5L969.4,819.2L970.1,817.8L970.8,816.4L971.6,815.1L972.3,813.7L973.0,812.4L973.1,812.1ZM941.7,851.7L941.2,852.5L940.4,853.8L939.6,855.1L938.8,856.4L938.0,857.7L937.2,859.0L936.3,860.3L935.5,861.6L934.7,862.8L933.9,864.1L933.0,865.4L932.2,866.7L931.3,868.0L930.5,869.2L929.6,870.5L928.8,871.8L928.5,872.3L934.5,876.3L934.8,875.9L935.7,874.6L936.6,873.3L937.4,872.0L938.3,870.7L939.1,869.5L940.0,868.2L940.9,866.9L941.7,865.6L942.6,864.3L943.4,863.0L944.2,861.7L945.1,860.4L945.9,859.1L946.7,857.8L947.6,856.5L948.1,855.7ZM914.0,892.8L913.7,893.1L912.8,894.4L911.9,895.6L911.0,896.8L910.1,898.1L909.1,899.3L908.2,900.5L907.2,901.8L906.3,903.0L905.4,904.2L904.4,905.4L903.5,906.6L902.5,907.9L901.5,909.1L900.6,910.3L899.6,911.5L899.0,912.2L904.3,916.5L904.9,915.8L905.9,914.6L906.9,913.4L907.9,912.1L908.8,910.9L909.8,909.7L910.8,908.5L911.8,907.2L912.7,906.0L913.7,904.8L914.7,903.6L915.6,902.3L916.6,901.1L917.5,899.8L918.5,898.6L919.4,897.4L919.6,897.1ZM882.7,931.4L882.5,931.7L881.5,932.9L880.4,934.0L879.4,935.2L878.3,936.3L877.3,937.5L876.2,938.7L875.1,939.8L874.1,941.0L873.0,942.1L871.9,943.3L870.8,944.4L869.8,945.5L868.7,946.7L867.6,947.8L866.5,948.9L866.1,949.3L870.5,953.7L870.9,953.3L872.1,952.2L873.2,951.1L874.3,949.9L875.4,948.8L876.5,947.7L877.6,946.5L878.7,945.4L879.8,944.2L880.9,943.0L882.0,941.9L883.1,940.7L884.2,939.6L885.2,938.4L886.3,937.2L887.4,936.1L887.6,935.8ZM847.8,966.6L847.1,967.2L845.9,968.3L844.7,969.3L843.5,970.3L842.3,971.3L841.1,972.4L839.9,973.4L838.7,974.4L837.5,975.3L836.3,976.3L835.1,977.3L833.9,978.3L832.7,979.3L831.5,980.2L830.3,981.2L829.0,982.1L833.3,987.6L834.5,986.6L835.8,985.6L837.0,984.6L838.2,983.6L839.4,982.6L840.7,981.6L841.9,980.5L843.1,979.5L844.3,978.5L845.5,977.4L846.7,976.4L847.9,975.3L849.1,974.3L850.2,973.2L851.4,972.1L852.2,971.5ZM808.6,996.6L807.7,997.2L806.4,998.0L805.1,998.8L803.8,999.6L802.5,1000.4L801.2,1001.1L799.9,1001.9L798.6,1002.7L797.3,1003.4L796.0,1004.2L794.7,1004.9L793.4,1005.7L792.1,1006.4L790.8,1007.1L789.5,1007.8L788.1,1008.5L787.6,1008.7L791.2,1015.6L791.8,1015.3L793.1,1014.6L794.5,1013.9L795.8,1013.1L797.2,1012.3L798.5,1011.6L799.8,1010.8L801.2,1010.0L802.5,1009.2L803.8,1008.4L805.2,1007.5L806.5,1006.7L807.8,1005.9L809.1,1005.0L810.4,1004.2L811.7,1003.3L812.6,1002.7ZM764.9,1018.8L763.9,1019.2L762.5,1019.7L761.1,1020.2L759.7,1020.7L758.4,1021.1L757.0,1021.6L755.6,1022.0L754.2,1022.5L752.8,1022.9L751.4,1023.3L750.0,1023.7L748.7,1024.1L747.3,1024.4L745.9,1024.8L744.5,1025.1L743.1,1025.4L741.9,1025.7L743.8,1034.1L745.0,1033.8L746.5,1033.4L748.0,1033.0L749.4,1032.6L750.9,1032.2L752.4,1031.8L753.8,1031.4L755.3,1030.9L756.7,1030.5L758.2,1030.0L759.6,1029.5L761.0,1029.0L762.5,1028.5L763.9,1028.0L765.3,1027.5L766.8,1026.9L767.8,1026.5ZM717.5,1029.2L717.5,1029.2L716.0,1029.2L714.5,1029.3L713.1,1029.4L711.6,1029.4L710.2,1029.4L708.7,1029.4L707.3,1029.4L705.8,1029.4L704.3,1029.4L702.9,1029.4L701.4,1029.3L699.9,1029.2L698.4,1029.1L697.0,1029.1L695.5,1028.9L694.0,1028.8L693.7,1028.8L692.8,1037.5L693.2,1037.6L694.8,1037.7L696.3,1037.8L697.9,1037.9L699.5,1038.0L701.0,1038.1L702.6,1038.1L704.1,1038.2L705.7,1038.2L707.2,1038.2L708.8,1038.2L710.3,1038.2L711.8,1038.2L713.4,1038.2L714.9,1038.1L716.4,1038.0L718.0,1037.9L718.1,1037.9ZM669.2,1024.9L668.8,1024.9L667.3,1024.5L665.8,1024.2L664.4,1023.8L662.9,1023.4L661.4,1023.0L660.0,1022.6L658.5,1022.2L657.0,1021.8L655.6,1021.4L654.1,1020.9L652.7,1020.4L651.2,1020.0L649.8,1019.5L648.3,1019.0L646.9,1018.5L646.1,1018.2L643.3,1026.0L644.1,1026.3L645.6,1026.8L647.1,1027.4L648.6,1027.9L650.1,1028.4L651.6,1028.9L653.1,1029.4L654.6,1029.9L656.1,1030.3L657.7,1030.8L659.2,1031.2L660.7,1031.6L662.2,1032.0L663.8,1032.4L665.3,1032.8L666.8,1033.2L667.3,1033.3ZM623.2,1008.5L622.9,1008.4L621.6,1007.7L620.2,1007.1L618.8,1006.4L617.5,1005.6L616.1,1004.9L614.8,1004.2L613.4,1003.5L612.1,1002.7L610.7,1002.0L609.4,1001.2L608.1,1000.4L606.8,999.6L605.5,998.9L604.2,998.1L602.9,997.2L602.1,996.8L598.1,1003.0L598.9,1003.5L600.2,1004.4L601.5,1005.2L602.9,1006.1L604.2,1006.9L605.6,1007.7L606.9,1008.5L608.3,1009.3L609.6,1010.1L611.0,1010.9L612.4,1011.7L613.8,1012.5L615.2,1013.2L616.6,1014.0L618.0,1014.7L619.4,1015.4L619.7,1015.6ZM581.7,982.3L581.7,982.4L580.5,981.4L579.3,980.4L578.1,979.5L576.9,978.5L575.8,977.5L574.6,976.6L573.4,975.6L572.3,974.6L571.1,973.6L570.0,972.6L568.9,971.6L567.7,970.5L566.6,969.5L565.5,968.5L564.4,967.4L563.3,966.4L558.9,971.0L560.0,972.0L561.1,973.1L562.2,974.2L563.3,975.2L564.5,976.3L565.6,977.4L566.8,978.4L567.9,979.5L569.1,980.5L570.2,981.6L571.4,982.6L572.6,983.6L573.8,984.7L575.0,985.7L576.2,986.7L577.4,987.7L577.4,987.7ZM546.2,948.1L545.6,947.4L544.6,946.2L543.6,945.0L542.6,943.9L541.6,942.7L540.7,941.5L539.7,940.3L538.7,939.1L537.8,937.9L536.8,936.7L535.9,935.5L534.9,934.3L534.0,933.1L533.0,931.9L532.1,930.6L531.2,929.4L531.0,929.1L525.4,933.4L525.6,933.6L526.6,934.9L527.5,936.1L528.5,937.3L529.5,938.6L530.5,939.8L531.5,941.0L532.4,942.2L533.4,943.4L534.4,944.6L535.4,945.8L536.5,947.0L537.5,948.2L538.5,949.4L539.5,950.6L540.5,951.7L541.2,952.5ZM516.4,908.6L516.1,908.0L515.2,906.7L514.3,905.4L513.5,904.1L512.7,902.8L511.8,901.5L511.0,900.2L510.1,898.9L509.3,897.6L508.5,896.3L507.7,895.0L506.8,893.7L506.0,892.4L505.2,891.1L504.4,889.7L503.6,888.4L503.3,888.0L496.9,891.9L497.2,892.3L498.0,893.7L498.9,895.0L499.7,896.3L500.5,897.7L501.4,899.0L502.2,900.3L503.1,901.6L503.9,902.9L504.8,904.2L505.6,905.5L506.5,906.9L507.4,908.2L508.2,909.5L509.1,910.8L510.0,912.1L510.4,912.7ZM490.6,866.2L490.4,865.8L489.6,864.4L488.9,863.1L488.1,861.7L487.4,860.4L486.7,859.0L485.9,857.7L485.2,856.3L484.5,855.0L483.7,853.6L483.0,852.3L482.3,850.9L481.6,849.5L480.9,848.2L480.2,846.8L479.5,845.4L479.0,844.6L472.1,848.2L472.5,849.1L473.3,850.4L474.0,851.8L474.7,853.2L475.4,854.5L476.2,855.9L476.9,857.3L477.7,858.6L478.4,860.0L479.1,861.4L479.9,862.7L480.7,864.1L481.4,865.5L482.2,866.8L482.9,868.2L483.7,869.5L483.9,870.0ZM467.9,822.0L467.2,820.7L466.6,819.3L465.9,817.9L465.3,816.5L464.7,815.2L464.0,813.8L463.4,812.4L462.7,811.0L462.1,809.6L461.5,808.2L460.9,806.8L460.2,805.4L459.6,804.0L459.0,802.6L458.4,801.2L457.8,799.8L457.8,799.8L450.4,803.0L450.4,803.0L451.0,804.5L451.6,805.9L452.3,807.3L452.9,808.7L453.5,810.1L454.2,811.5L454.8,812.9L455.5,814.3L456.1,815.7L456.8,817.1L457.4,818.5L458.1,819.9L458.7,821.3L459.4,822.7L460.1,824.1L460.7,825.5ZM448.1,776.5L447.8,775.8L447.2,774.4L446.7,773.0L446.1,771.6L445.6,770.1L445.0,768.7L444.5,767.3L443.9,765.9L443.4,764.4L442.8,763.0L442.3,761.6L441.7,760.1L441.2,758.7L440.7,757.3L440.2,755.8L439.6,754.4L439.3,753.6L431.6,756.4L431.9,757.3L432.4,758.7L433.0,760.2L433.5,761.6L434.0,763.0L434.6,764.5L435.1,765.9L435.7,767.4L436.2,768.8L436.8,770.2L437.4,771.7L437.9,773.1L438.5,774.6L439.1,776.0L439.6,777.4L440.2,778.9L440.5,779.5ZM431.0,729.8L430.6,728.4L430.1,727.0L429.6,725.5L429.2,724.1L428.7,722.6L428.2,721.2L427.7,719.7L427.3,718.3L426.8,716.8L426.4,715.4L425.9,713.9L425.4,712.4L425.0,711.0L424.5,709.5L424.1,708.1L423.7,706.6L423.6,706.4L415.6,708.9L415.6,709.1L416.1,710.5L416.5,712.0L417.0,713.5L417.4,714.9L417.9,716.4L418.4,717.9L418.8,719.4L419.3,720.8L419.8,722.3L420.2,723.8L420.7,725.2L421.2,726.7L421.7,728.2L422.2,729.6L422.7,731.1L423.1,732.4ZM416.6,682.2L416.4,681.6L416.0,680.1L415.6,678.7L415.2,677.2L414.8,675.7L414.4,674.2L414.0,672.8L413.6,671.3L413.2,669.8L412.9,668.3L412.5,666.8L412.1,665.3L411.7,663.9L411.3,662.4L411.0,660.9L410.6,659.4L410.4,658.5L402.1,660.6L402.3,661.5L402.7,663.0L403.1,664.5L403.5,666.0L403.8,667.5L404.2,669.0L404.6,670.5L405.0,672.0L405.4,673.4L405.8,674.9L406.2,676.4L406.6,677.9L407.0,679.4L407.4,680.9L407.8,682.4L408.2,683.9L408.4,684.5ZM404.5,633.9L404.2,632.6L403.9,631.1L403.5,629.6L403.2,628.1L402.9,626.6L402.5,625.1L402.2,623.6L401.9,622.1L401.6,620.6L401.3,619.1L400.9,617.6L400.6,616.1L400.3,614.6L400.0,613.1L399.7,611.6L399.4,610.1L399.4,610.0L390.9,611.7L390.9,611.8L391.2,613.3L391.6,614.8L391.9,616.3L392.2,617.8L392.5,619.4L392.8,620.9L393.2,622.4L393.5,623.9L393.8,625.4L394.1,626.9L394.5,628.4L394.8,629.9L395.1,631.4L395.5,632.9L395.8,634.5L396.1,635.8ZM394.6,585.2L394.4,584.4L394.1,582.9L393.9,581.4L393.6,579.9L393.3,578.4L393.1,576.9L392.8,575.4L392.5,573.8L392.3,572.3L392.0,570.8L391.7,569.3L391.5,567.8L391.2,566.3L391.0,564.7L390.7,563.2L390.5,561.7L390.4,561.0L381.8,562.4L381.9,563.1L382.2,564.6L382.4,566.2L382.7,567.7L382.9,569.2L383.2,570.8L383.5,572.3L383.7,573.8L384.0,575.3L384.3,576.9L384.5,578.4L384.8,579.9L385.1,581.4L385.3,582.9L385.6,584.5L385.9,586.0L386.0,586.7ZM386.5,536.1L386.5,535.9L386.3,534.4L386.1,532.8L385.9,531.3L385.7,529.8L385.4,528.3L385.2,526.7L385.0,525.2L384.8,523.7L384.6,522.2L384.4,520.6L384.2,519.1L384.0,517.6L383.8,516.1L383.6,514.5L383.4,513.0L383.3,511.8L374.6,512.8L374.8,514.1L375.0,515.6L375.2,517.2L375.4,518.7L375.6,520.2L375.8,521.8L376.0,523.3L376.2,524.8L376.4,526.4L376.6,527.9L376.8,529.4L377.0,531.0L377.2,532.5L377.5,534.0L377.7,535.6L377.9,537.1L377.9,537.3ZM380.4,486.7L380.3,485.5L380.1,483.9L380.0,482.4L379.8,480.9L379.7,479.4L379.5,477.8L379.4,476.3L379.2,474.8L379.1,473.2L378.9,471.7L378.8,470.2L378.7,468.6L378.5,467.1L378.4,465.6L378.2,464.0L378.1,462.5L378.1,462.2L369.4,463.0L369.4,463.3L369.5,464.8L369.6,466.3L369.8,467.9L369.9,469.4L370.1,471.0L370.2,472.5L370.4,474.1L370.5,475.6L370.7,477.1L370.8,478.7L371.0,480.2L371.1,481.8L371.3,483.3L371.4,484.8L371.6,486.4L371.7,487.6ZM376.2,437.0L376.1,436.4L376.0,434.9L375.9,433.3L375.8,431.8L375.7,430.2L375.6,428.7L375.5,427.2L375.4,425.6L375.4,424.1L375.3,422.6L375.2,421.0L375.1,419.5L375.0,418.0L374.9,416.4L374.9,414.9L374.8,413.3L374.7,412.6L366.0,413.0L366.0,413.8L366.1,415.3L366.2,416.9L366.2,418.4L366.3,420.0L366.4,421.5L366.5,423.1L366.6,424.6L366.7,426.2L366.8,427.7L366.9,429.2L367.0,430.8L367.1,432.3L367.2,433.9L367.3,435.4L367.4,437.0L367.4,437.6ZM373.7,387.3L373.7,387.2L373.7,385.7L373.6,384.1L373.6,382.6L373.6,381.0L373.5,379.5L373.5,378.0L373.5,376.4L373.4,374.9L373.4,373.3L373.4,371.8L373.3,370.3L373.3,368.7L373.3,367.2L373.3,365.6L373.2,364.1L373.2,362.8L364.4,362.9L364.4,364.2L364.5,365.8L364.5,367.3L364.5,368.9L364.5,370.4L364.6,372.0L364.6,373.5L364.6,375.1L364.7,376.6L364.7,378.2L364.7,379.7L364.8,381.3L364.8,382.8L364.9,384.4L364.9,385.9L364.9,387.5L365.0,387.6ZM373.1,337.5L373.1,336.4L373.2,334.9L373.2,333.3L373.2,331.8L373.2,330.3L373.2,328.7L373.2,327.2L373.3,325.7L373.3,324.1L373.3,322.6L373.3,321.0L373.4,319.5L373.4,318.0L373.4,316.4L373.5,314.9L373.5,313.4L373.5,313.0L364.7,312.8L364.7,313.1L364.7,314.7L364.6,316.2L364.6,317.8L364.6,319.3L364.5,320.9L364.5,322.4L364.5,324.0L364.5,325.5L364.4,327.1L364.4,328.6L364.4,330.2L364.4,331.7L364.4,333.3L364.4,334.8L364.3,336.4L364.3,337.5ZM374.3,287.8L374.4,287.3L374.4,285.7L374.5,284.2L374.6,282.6L374.6,281.1L374.7,279.6L374.8,278.0L374.9,276.5L374.9,275.0L375.0,273.4L375.1,271.9L375.2,270.4L375.3,268.8L375.3,267.3L375.4,265.8L375.5,264.3L375.6,263.3L366.8,262.8L366.8,263.7L366.7,265.3L366.6,266.8L366.5,268.4L366.4,269.9L366.3,271.4L366.2,273.0L366.2,274.5L366.1,276.1L366.0,277.6L365.9,279.2L365.9,280.7L365.8,282.2L365.7,283.8L365.6,285.3L365.6,286.9L365.6,287.4ZM377.3,238.1L377.4,236.7L377.5,235.2L377.7,233.7L377.8,232.1L377.9,230.6L378.0,229.1L378.2,227.6L378.3,226.0L378.4,224.5L378.6,223.0L378.7,221.5L378.9,219.9L379.0,218.4L379.1,216.9L379.3,215.4L379.4,213.8L379.5,213.6L370.7,212.8L370.7,213.0L370.6,214.5L370.4,216.1L370.3,217.6L370.1,219.1L370.0,220.7L369.9,222.2L369.7,223.7L369.6,225.3L369.4,226.8L369.3,228.3L369.2,229.9L369.1,231.4L368.9,232.9L368.8,234.5L368.7,236.0L368.6,237.4ZM382.2,188.5L382.3,188.0L382.5,186.5L382.6,185.0L382.8,183.5L383.0,181.9L383.2,180.4L383.4,178.9L383.6,177.4L383.8,175.9L384.0,174.4L384.2,172.9L384.4,171.3L384.7,169.8L384.9,168.3L385.1,166.8L385.3,165.3L385.5,164.3L376.8,163.0L376.7,164.0L376.5,165.6L376.2,167.1L376.0,168.6L375.8,170.1L375.6,171.7L375.4,173.2L375.2,174.7L375.0,176.2L374.8,177.8L374.6,179.3L374.4,180.8L374.2,182.4L374.0,183.9L373.8,185.4L373.6,186.9L373.5,187.5ZM389.5,139.4L389.7,138.2L390.0,136.7L390.2,135.2L390.5,133.7L390.8,132.2L391.1,130.7L391.4,129.2L391.7,127.7L391.9,126.2L392.2,124.7L392.5,123.2L392.8,121.7L393.1,120.2L393.4,118.7L393.7,117.2L394.1,115.7L394.1,115.4L385.7,113.6L385.6,113.9L385.3,115.4L385.0,117.0L384.7,118.5L384.4,120.0L384.1,121.5L383.8,123.0L383.5,124.5L383.2,126.0L382.9,127.5L382.6,129.1L382.3,130.6L382.0,132.1L381.7,133.6L381.5,135.1L381.2,136.6L381.0,137.9ZM399.7,90.8L399.8,90.4L400.2,88.9L400.6,87.4L401.0,85.9L401.3,84.4L401.7,82.9L402.1,81.5L402.5,80.0L402.9,78.5L403.3,77.0L403.7,75.5L404.1,74.1L404.5,72.6L404.9,71.1L405.3,69.6L405.7,68.1L406.0,67.2L397.9,64.8L397.6,65.8L397.2,67.3L396.8,68.8L396.3,70.3L395.9,71.8L395.5,73.3L395.1,74.8L394.7,76.3L394.3,77.8L393.9,79.3L393.5,80.8L393.1,82.3L392.7,83.8L392.3,85.3L391.9,86.8L391.6,88.3L391.4,88.7ZM413.4,43.1L413.4,43.1L413.9,41.6L414.4,40.2L414.9,38.7L415.4,37.2L415.9,35.8L416.4,34.3L416.9,32.8L417.4,31.4L409.6,28.6L409.1,30.1L408.5,31.6L408.0,33.1L407.5,34.5L407.0,36.0L406.5,37.5L406.0,39.0L405.5,40.5L405.5,40.5Z" fill="#000"/>
<rect x="453.7" y="62.5" width="618.8" height="237.1" fill="#fff" stroke="#262626" stroke-width="3"/>
<path d="M465.1,106.4H592.9" stroke="#a6a6a6" stroke-width="9.2" fill="none"/>
<path d="M465.1,181.2H590" stroke="#000" stroke-width="9.2" fill="none" stroke-dasharray="24.8 6.4 12.1 6.6"/>
<path d="M465.1,256.0H590" stroke="#000" stroke-width="9.2" fill="none" stroke-dasharray="24.8 25.1"/>
<rect class="ax" x="253.5" y="1492.9" width="1170.0" height="522.5"/>
<path d="M544.5,2015.4v-10.8M544.5,1492.9v10.8M838.5,2015.4v-10.8M838.5,1492.9v10.8M1132.6,2015.4v-10.8M1132.6,1492.9v10.8M253.5,1624.4h10.8M1423.5,1624.4h-10.8M253.5,1755.6h10.8M1423.5,1755.6h-10.8M253.5,1887.1h10.8M1423.5,1887.1h-10.8" stroke="#262626" stroke-width="3.0" fill="none"/>
<path d="M256.1,2015.0L256.4,2013.5L256.7,2012.0L257.0,2010.5L257.3,2009.1L257.6,2007.6L257.9,2006.1L258.2,2004.6L258.5,2003.1L258.9,2001.7L259.2,2000.2L259.5,1998.7L259.8,1997.2L260.2,1995.8L260.5,1994.3L260.9,1992.8L261.2,1991.4L261.6,1989.9L261.9,1988.5L262.3,1987.0L262.6,1985.5L263.0,1984.1L263.4,1982.6L263.7,1981.2L264.1,1979.7L264.5,1978.3L264.9,1976.8L265.2,1975.4L265.6,1974.0L266.0,1972.5L266.4,1971.1L266.8,1969.6L267.2,1968.2L267.6,1966.8L268.0,1965.3L268.4,1963.9L268.8,1962.5L269.3,1961.0L269.7,1959.6L270.1,1958.2L270.5,1956.8L270.9,1955.4L271.4,1953.9L271.8,1952.5L272.2,1951.1L272.7,1949.7L273.1,1948.3L273.6,1946.8L274.0,1945.4L274.5,1944.0L274.9,1942.6L275.4,1941.2L275.8,1939.8L276.3,1938.4L276.8,1937.0L277.2,1935.6L277.7,1934.2L278.2,1932.8L278.7,1931.4L279.1,1930.0L279.6,1928.6L280.1,1927.2L280.6,1925.8L281.1,1924.4L281.6,1923.0L282.0,1921.6L282.5,1920.2L283.0,1918.8L283.5,1917.4L284.0,1916.0L284.5,1914.6L285.1,1913.2L285.6,1911.9L286.1,1910.5L286.6,1909.1L287.1,1907.7L287.6,1906.3L288.1,1904.9L288.7,1903.5L289.2,1902.2L289.7,1900.8L290.3,1899.4L290.8,1898.0L291.3,1896.6L291.9,1895.2L292.4,1893.9L292.9,1892.5L293.5,1891.1L294.0,1889.7L294.6,1888.4L295.1,1887.0L295.7,1885.6L296.2,1884.2L296.8,1882.8L297.3,1881.5L297.9,1880.1L298.4,1878.7L299.0,1877.3L299.6,1876.0L300.1,1874.6L300.7,1873.2L301.3,1871.8L301.8,1870.5L302.4,1869.1L303.0,1867.7L303.5,1866.4L304.1,1865.0L304.7,1863.6L305.3,1862.2L305.8,1860.9L306.4,1859.5L307.0,1858.1L307.6,1856.7L308.2,1855.4L308.8,1854.0L309.4,1852.6L309.9,1851.2L310.5,1849.9L311.1,1848.5L311.7,1847.1L312.3,1845.8L312.9,1844.4L313.5,1843.0L314.1,1841.6L314.7,1840.3L315.3,1838.9L315.9,1837.5L316.5,1836.1L317.1,1834.8L317.7,1833.4L318.3,1832.0L318.9,1830.6L319.5,1829.3L320.2,1827.9L320.8,1826.5L321.4,1825.1L322.0,1823.7L322.6,1822.4L323.2,1821.0L323.8,1819.6L324.4,1818.2L325.1,1816.9L325.7,1815.5L326.3,1814.1L326.9,1812.7L327.6,1811.3L328.2,1810.0L328.8,1808.6L329.4,1807.2L330.1,1805.8L330.7,1804.5L331.3,1803.1L331.9,1801.7L332.6,1800.3L333.2,1798.9L333.9,1797.6L334.5,1796.2L335.1,1794.8L335.8,1793.4L336.4,1792.1L337.1,1790.7L337.7,1789.3L338.3,1788.0L339.0,1786.6L339.6,1785.2L340.3,1783.8L341.0,1782.5L341.6,1781.1L342.3,1779.7L342.9,1778.4L343.6,1777.0L344.2,1775.6L344.9,1774.3L345.6,1772.9L346.2,1771.5L346.9,1770.2L347.6,1768.8L348.3,1767.4L348.9,1766.1L349.6,1764.7L350.3,1763.4L351.0,1762.0L351.7,1760.6L352.3,1759.3L353.0,1757.9L353.7,1756.6L354.4,1755.2L355.1,1753.9L355.8,1752.5L356.5,1751.2L357.2,1749.8L357.9,1748.5L358.6,1747.1L359.3,1745.8L360.0,1744.5L360.7,1743.1L361.4,1741.8L362.2,1740.4L362.9,1739.1L363.6,1737.8L364.3,1736.4L365.0,1735.1L365.8,1733.8L366.5,1732.4L367.2,1731.1L368.0,1729.8L368.7,1728.5L369.5,1727.1L370.2,1725.8L370.9,1724.5L371.7,1723.2L372.4,1721.9L373.2,1720.5L373.9,1719.2L374.7,1717.9L375.5,1716.6L376.2,1715.3L377.0,1714.0L377.8,1712.7L378.5,1711.4L379.3,1710.1L380.1,1708.8L380.9,1707.5L381.7,1706.2L382.4,1704.9L383.2,1703.6L384.0,1702.4L384.8,1701.1L385.6,1699.8L386.4,1698.5L387.2,1697.2L388.0,1696.0L388.8,1694.7L389.6,1693.4L390.5,1692.2L391.3,1690.9L392.1,1689.6L392.9,1688.4L393.8,1687.1L394.6,1685.9L395.4,1684.6L396.3,1683.3L397.1,1682.1L398.0,1680.9L398.8,1679.6L399.6,1678.4L400.5,1677.1L401.4,1675.9L402.2,1674.7L403.1,1673.4L404.0,1672.2L404.8,1671.0L405.7,1669.8L406.6,1668.6L407.5,1667.3L408.3,1666.1L409.2,1664.9L410.1,1663.7L411.0,1662.5L411.9,1661.3L412.8,1660.1L413.7,1658.9L414.6,1657.7L415.6,1656.5L416.5,1655.4L417.4,1654.2L418.3,1653.0L419.3,1651.8L420.2,1650.6L421.1,1649.5L422.1,1648.3L423.0,1647.2L424.0,1646.0L424.9,1644.8L425.9,1643.7L426.8,1642.5L427.8,1641.4L428.8,1640.2L429.7,1639.1L430.7,1638.0L431.7,1636.8L432.7,1635.7L433.7,1634.6L434.7,1633.5L435.6,1632.4L436.6,1631.2L437.7,1630.1L438.7,1629.0L439.7,1627.9L440.7,1626.8L441.7,1625.7L442.7,1624.7L443.8,1623.6L444.8,1622.5L445.8,1621.4L446.9,1620.3L447.9,1619.3L449.0,1618.2L450.0,1617.2L451.1,1616.1L452.2,1615.1L453.2,1614.0L454.3,1613.0L455.4,1612.0L456.5,1611.0L457.6,1610.0L458.7,1608.9L459.8,1607.9L460.9,1606.9L462.0,1605.9L463.1,1605.0L464.2,1604.0L465.3,1603.0L466.4,1602.0L467.6,1601.0L468.7,1600.1L469.8,1599.1L471.0,1598.2L472.1,1597.2L473.3,1596.3L474.4,1595.3L475.6,1594.4L476.7,1593.5L477.9,1592.6L479.0,1591.6L480.2,1590.7L481.4,1589.8L482.6,1588.9L483.7,1588.0L484.9,1587.2L486.1,1586.3L487.3,1585.4L488.5,1584.5L489.7,1583.7L490.9,1582.8L492.1,1582.0L493.3,1581.1L494.5,1580.3L495.8,1579.5L497.0,1578.6L498.2,1577.8L499.5,1577.0L500.7,1576.2L501.9,1575.4L503.2,1574.6L504.4,1573.8L505.7,1573.0L506.9,1572.3L508.2,1571.5L509.4,1570.7L510.7,1570.0L512.0,1569.2L513.3,1568.5L514.5,1567.8L515.8,1567.1L517.1,1566.3L518.4,1565.6L519.7,1564.9L521.0,1564.2L522.3,1563.5L523.6,1562.9L524.9,1562.2L526.2,1561.5L527.5,1560.9L528.8,1560.2L530.2,1559.6L531.5,1558.9L532.8,1558.3L534.2,1557.7L535.5,1557.0L536.8,1556.4L538.2,1555.8L539.5,1555.2L540.9,1554.7L542.2,1554.1L543.6,1553.5L544.9,1553.0L546.3,1552.4L547.7,1551.9L549.0,1551.3L550.4,1550.8L551.8,1550.3L553.2,1549.8L554.5,1549.3L555.9,1548.8L557.3,1548.3L558.7,1547.8L560.1,1547.3L561.5,1546.9L562.9,1546.4L564.3,1546.0L565.7,1545.5L567.1,1545.1L568.5,1544.7L569.9,1544.3L571.3,1543.9L572.7,1543.5L574.2,1543.1L575.6,1542.7L577.0,1542.3L578.4,1542.0L579.8,1541.6L581.3,1541.3L582.7,1540.9L584.1,1540.6L585.6,1540.3L587.0,1540.0L588.4,1539.7L589.9,1539.4L591.3,1539.1L592.8,1538.9L594.2,1538.6L595.7,1538.4L597.1,1538.1L598.6,1537.9L600.0,1537.7L601.5,1537.5L602.9,1537.3L604.4,1537.1L605.8,1536.9L607.3,1536.7L608.7,1536.6L610.2,1536.4L611.7,1536.3L613.1,1536.1L614.6,1536.0L616.1,1535.9L617.5,1535.8L619.0,1535.7L620.5,1535.6L622.0,1535.5L623.4,1535.4L624.9,1535.3L626.4,1535.3L627.9,1535.2L629.3,1535.2L630.8,1535.2L632.3,1535.1L633.8,1535.1L635.3,1535.1L636.8,1535.1L638.2,1535.1L639.7,1535.1L641.2,1535.2L642.7,1535.2L644.2,1535.2L645.7,1535.3L647.2,1535.3L648.7,1535.4L650.2,1535.4L651.7,1535.5L653.1,1535.6L654.6,1535.7L656.1,1535.8L657.6,1535.9L659.1,1536.0L660.6,1536.1L662.1,1536.2L663.6,1536.3L665.1,1536.5L666.6,1536.6L668.1,1536.7L669.6,1536.9L671.1,1537.0L672.6,1537.2L674.1,1537.4L675.6,1537.6L677.1,1537.7L678.6,1537.9L680.1,1538.1L681.6,1538.3L683.1,1538.5L684.6,1538.7L686.1,1538.9L687.6,1539.1L689.1,1539.4L690.6,1539.6L692.1,1539.8L693.6,1540.0L695.1,1540.3L696.6,1540.5L698.0,1540.8L699.5,1541.0L701.0,1541.3L702.5,1541.6L704.0,1541.8L705.5,1542.1L707.0,1542.4L708.5,1542.7L710.0,1542.9L711.5,1543.2L713.0,1543.5L714.4,1543.8L715.9,1544.1L717.4,1544.4L718.9,1544.7L720.4,1545.0L721.9,1545.3L723.3,1545.6L724.8,1546.0L726.3,1546.3L727.8,1546.6L729.3,1546.9L730.7,1547.2L732.2,1547.6L733.7,1547.9L735.2,1548.3L736.6,1548.6L738.1,1548.9L739.6,1549.3L741.0,1549.6L742.5,1550.0L744.0,1550.3L745.4,1550.7L746.9,1551.1L748.3,1551.4L749.8,1551.8L751.3,1552.2L752.7,1552.5L754.2,1552.9L755.6,1553.3L757.1,1553.7L758.6,1554.0L760.0,1554.4L761.5,1554.8L762.9,1555.2L764.4,1555.6L765.8,1556.0L767.3,1556.4L768.7,1556.8L770.1,1557.2L771.6,1557.6L773.0,1558.0L774.5,1558.4L775.9,1558.9L777.4,1559.3L778.8,1559.7L780.2,1560.1L781.7,1560.5L783.1,1561.0L784.6,1561.4L786.0,1561.8L787.4,1562.3L788.9,1562.7L790.3,1563.1L791.7,1563.6L793.2,1564.0L794.6,1564.5L796.0,1564.9L797.5,1565.4L798.9,1565.8L800.3,1566.3L801.7,1566.8L803.2,1567.2L804.6,1567.7L806.0,1568.1L807.4,1568.6L808.9,1569.1L810.3,1569.6L811.7,1570.0L813.1,1570.5L814.5,1571.0L816.0,1571.5L817.4,1571.9L818.8,1572.4L820.2,1572.9L821.6,1573.4L823.0,1573.9L824.4,1574.4L825.9,1574.9L827.3,1575.4L828.7,1575.9L830.1,1576.4L831.5,1576.9L832.9,1577.4L834.3,1577.9L835.7,1578.4L837.1,1578.9L838.5,1579.4L839.9,1579.9L841.4,1580.5L842.8,1581.0L844.2,1581.5L845.6,1582.0L847.0,1582.6L848.4,1583.1L849.8,1583.6L851.2,1584.1L852.6,1584.7L854.0,1585.2L855.4,1585.7L856.8,1586.3L858.2,1586.8L859.6,1587.4L860.9,1587.9L862.3,1588.4L863.7,1589.0L865.1,1589.5L866.5,1590.1L867.9,1590.6L869.3,1591.2L870.7,1591.7L872.1,1592.3L873.5,1592.8L874.9,1593.4L876.3,1594.0L877.7,1594.5L879.0,1595.1L880.4,1595.6L881.8,1596.2L883.2,1596.8L884.6,1597.3L886.0,1597.9L887.4,1598.5L888.7,1599.1L890.1,1599.6L891.5,1600.2L892.9,1600.8L894.3,1601.4L895.7,1601.9L897.0,1602.5L898.4,1603.1L899.8,1603.7L901.2,1604.3L902.6,1604.8L903.9,1605.4L905.3,1606.0L906.7,1606.6L908.1,1607.2L909.5,1607.8L910.8,1608.4L912.2,1609.0L913.6,1609.6L915.0,1610.2L916.3,1610.8L917.7,1611.4L919.1,1612.0L920.5,1612.6L921.8,1613.2L923.2,1613.8L924.6,1614.4L926.0,1615.0L927.3,1615.6L928.7,1616.2L930.1,1616.8L931.5,1617.4L932.8,1618.0L934.2,1618.6L935.6,1619.2L936.9,1619.8L938.3,1620.4L939.7,1621.0L941.1,1621.7L942.4,1622.3L943.8,1622.9L945.2,1623.5L946.5,1624.1L947.9,1624.7L949.3,1625.4L950.6,1626.0L952.0,1626.6L953.4,1627.2L954.7,1627.8L956.1,1628.5L957.5,1629.1L958.8,1629.7L960.2,1630.3L961.6,1630.9L962.9,1631.6L964.3,1632.2L965.7,1632.8L967.0,1633.4L968.4,1634.1L969.8,1634.7L971.1,1635.3L972.5,1635.9L973.9,1636.6L975.2,1637.2L976.6,1637.8L978.0,1638.5L979.3,1639.1L980.7,1639.7L982.1,1640.4L983.4,1641.0L984.8,1641.6L986.2,1642.2L987.5,1642.9L988.9,1643.5L990.2,1644.1L991.6,1644.8L993.0,1645.4L994.3,1646.0L995.7,1646.7L997.1,1647.3L998.4,1647.9L999.8,1648.6L1001.2,1649.2L1002.5,1649.8L1003.9,1650.5L1005.2,1651.1L1006.6,1651.7L1008.0,1652.4L1009.3,1653.0L1010.7,1653.6L1012.1,1654.3L1013.4,1654.9L1014.8,1655.5L1016.2,1656.2L1017.5,1656.8L1018.9,1657.4L1020.3,1658.1L1021.6,1658.7L1023.0,1659.3L1024.3,1660.0L1025.7,1660.6L1027.1,1661.2L1028.4,1661.9L1029.8,1662.5L1031.2,1663.1L1032.5,1663.8L1033.9,1664.4L1035.3,1665.0L1036.6,1665.7L1038.0,1666.3L1039.4,1666.9L1040.7,1667.6L1042.1,1668.2L1043.5,1668.8L1044.8,1669.4L1046.2,1670.1L1047.6,1670.7L1048.9,1671.3L1050.3,1672.0L1051.7,1672.6L1053.0,1673.2L1054.4,1673.8L1055.8,1674.5L1057.1,1675.1L1058.5,1675.7L1059.9,1676.3L1061.2,1677.0L1062.6,1677.6L1064.0,1678.2L1065.3,1678.8L1066.7,1679.5L1068.1,1680.1L1069.5,1680.7L1070.8,1681.3L1072.2,1681.9L1073.6,1682.6L1074.9,1683.2L1076.3,1683.8L1077.7,1684.4L1079.1,1685.0L1080.4,1685.7L1081.8,1686.3L1083.2,1686.9L1084.5,1687.5L1085.9,1688.1L1087.3,1688.7L1088.7,1689.4L1090.0,1690.0L1091.4,1690.6L1092.8,1691.2L1094.2,1691.8L1095.5,1692.4L1096.9,1693.0L1098.3,1693.6L1099.6,1694.3L1101.0,1694.9L1102.4,1695.5L1103.8,1696.1L1105.1,1696.7L1106.5,1697.3L1107.9,1697.9L1109.3,1698.5L1110.6,1699.1L1112.0,1699.7L1113.4,1700.3L1114.8,1700.9L1116.2,1701.5L1117.5,1702.1L1118.9,1702.8L1120.3,1703.4L1121.7,1704.0L1123.0,1704.6L1124.4,1705.2L1125.8,1705.8L1127.2,1706.4L1128.6,1707.0L1129.9,1707.6L1131.3,1708.2L1132.7,1708.8L1134.1,1709.4L1135.5,1710.0L1136.8,1710.6L1138.2,1711.2L1139.6,1711.7L1141.0,1712.3L1142.4,1712.9L1143.7,1713.5L1145.1,1714.1L1146.5,1714.7L1147.9,1715.3L1149.3,1715.9L1150.6,1716.5L1152.0,1717.1L1153.4,1717.7L1154.8,1718.3L1156.2,1718.9L1157.6,1719.5L1158.9,1720.0L1160.3,1720.6L1161.7,1721.2L1163.1,1721.8L1164.5,1722.4L1165.9,1723.0L1167.2,1723.6L1168.6,1724.2L1170.0,1724.7L1171.4,1725.3L1172.8,1725.9L1174.2,1726.5L1175.6,1727.1L1176.9,1727.7L1178.3,1728.2L1179.7,1728.8L1181.1,1729.4L1182.5,1730.0L1183.9,1730.6L1185.3,1731.1L1186.6,1731.7L1188.0,1732.3L1189.4,1732.9L1190.8,1733.5L1192.2,1734.0L1193.6,1734.6L1195.0,1735.2L1196.4,1735.8L1197.8,1736.3L1199.1,1736.9L1200.5,1737.5L1201.9,1738.1L1203.3,1738.6L1204.7,1739.2L1206.1,1739.8L1207.5,1740.4L1208.9,1740.9L1210.3,1741.5L1211.7,1742.1L1213.0,1742.6L1214.4,1743.2L1215.8,1743.8L1217.2,1744.3L1218.6,1744.9L1220.0,1745.5L1221.4,1746.0L1222.8,1746.6L1224.2,1747.2L1225.6,1747.7L1227.0,1748.3L1228.4,1748.9L1229.8,1749.4L1231.1,1750.0L1232.5,1750.6L1233.9,1751.1L1235.3,1751.7L1236.7,1752.3L1238.1,1752.8L1239.5,1753.4L1240.9,1753.9L1242.3,1754.5L1243.7,1755.1L1245.1,1755.6L1246.5,1756.2L1247.9,1756.7L1249.3,1757.3L1250.7,1757.8L1252.1,1758.4L1253.5,1759.0L1254.9,1759.5L1256.3,1760.1L1257.7,1760.6L1259.1,1761.2L1260.5,1761.7L1261.9,1762.3L1263.3,1762.8L1264.7,1763.4L1266.1,1763.9L1267.5,1764.5L1268.9,1765.0L1270.3,1765.6L1271.7,1766.1L1273.1,1766.7L1274.5,1767.2L1275.9,1767.8L1277.3,1768.3L1278.7,1768.9L1280.1,1769.4L1281.5,1770.0L1282.9,1770.5L1284.3,1771.0L1285.7,1771.6L1287.1,1772.1L1288.5,1772.7L1289.9,1773.2L1291.3,1773.8L1292.7,1774.3L1294.1,1774.8L1295.5,1775.4L1296.9,1775.9L1298.3,1776.5L1299.7,1777.0L1301.1,1777.5L1302.5,1778.1L1303.9,1778.6L1305.3,1779.2L1306.7,1779.7L1308.1,1780.2L1309.5,1780.8L1310.9,1781.3L1312.3,1781.8L1313.7,1782.4L1315.1,1782.9L1316.6,1783.4L1318.0,1784.0L1319.4,1784.5L1320.8,1785.0L1322.2,1785.6L1323.6,1786.1L1325.0,1786.6L1326.4,1787.2L1327.8,1787.7L1329.2,1788.2L1330.6,1788.7L1332.0,1789.3L1333.4,1789.8L1334.9,1790.3L1336.3,1790.8L1337.7,1791.4L1339.1,1791.9L1340.5,1792.4L1341.9,1792.9L1343.3,1793.5L1344.7,1794.0L1346.1,1794.5L1347.5,1795.0L1349.0,1795.6L1350.4,1796.1L1351.8,1796.6L1353.2,1797.1L1354.6,1797.6L1356.0,1798.2L1357.4,1798.7L1358.8,1799.2L1360.3,1799.7L1361.7,1800.2L1363.1,1800.7L1364.5,1801.3L1365.9,1801.8L1367.3,1802.3L1368.7,1802.8L1370.2,1803.3L1371.6,1803.8L1373.0,1804.4L1374.4,1804.9L1375.8,1805.4L1377.2,1805.9L1378.6,1806.4L1380.1,1806.9L1381.5,1807.4L1382.9,1807.9L1384.3,1808.4L1385.7,1808.9L1387.1,1809.5L1388.6,1810.0L1390.0,1810.5L1391.4,1811.0L1392.8,1811.5L1394.2,1812.0L1395.6,1812.5L1397.1,1813.0L1398.5,1813.5L1399.9,1814.0L1401.3,1814.5L1402.7,1815.0L1404.2,1815.5L1405.6,1816.0L1407.0,1816.5L1408.4,1817.0L1409.8,1817.5L1411.3,1818.0L1412.7,1818.5L1414.1,1819.0L1415.5,1819.5L1416.9,1820.0L1418.4,1820.5L1419.8,1821.0L1421.2,1821.5L1422.6,1822.0L1424.4,1817.0L1422.9,1816.5L1421.5,1816.0L1420.1,1815.5L1418.7,1815.0L1417.3,1814.5L1415.8,1814.0L1414.4,1813.5L1413.0,1813.0L1411.6,1812.5L1410.2,1812.0L1408.8,1811.5L1407.3,1811.0L1405.9,1810.5L1404.5,1810.0L1403.1,1809.5L1401.7,1809.0L1400.2,1808.5L1398.8,1808.0L1397.4,1807.5L1396.0,1807.0L1394.6,1806.5L1393.2,1806.0L1391.8,1805.5L1390.3,1805.0L1388.9,1804.5L1387.5,1804.0L1386.1,1803.5L1384.7,1803.0L1383.3,1802.5L1381.8,1802.0L1380.4,1801.4L1379.0,1800.9L1377.6,1800.4L1376.2,1799.9L1374.8,1799.4L1373.4,1798.9L1371.9,1798.4L1370.5,1797.9L1369.1,1797.4L1367.7,1796.8L1366.3,1796.3L1364.9,1795.8L1363.5,1795.3L1362.1,1794.8L1360.7,1794.3L1359.2,1793.7L1357.8,1793.2L1356.4,1792.7L1355.0,1792.2L1353.6,1791.7L1352.2,1791.2L1350.8,1790.6L1349.4,1790.1L1348.0,1789.6L1346.6,1789.1L1345.1,1788.5L1343.7,1788.0L1342.3,1787.5L1340.9,1787.0L1339.5,1786.5L1338.1,1785.9L1336.7,1785.4L1335.3,1784.9L1333.9,1784.4L1332.5,1783.8L1331.1,1783.3L1329.7,1782.8L1328.3,1782.2L1326.8,1781.7L1325.4,1781.2L1324.0,1780.7L1322.6,1780.1L1321.2,1779.6L1319.8,1779.1L1318.4,1778.5L1317.0,1778.0L1315.6,1777.5L1314.2,1776.9L1312.8,1776.4L1311.4,1775.9L1310.0,1775.3L1308.6,1774.8L1307.2,1774.3L1305.8,1773.7L1304.4,1773.2L1303.0,1772.7L1301.6,1772.1L1300.2,1771.6L1298.8,1771.0L1297.4,1770.5L1296.0,1770.0L1294.6,1769.4L1293.2,1768.9L1291.8,1768.3L1290.4,1767.8L1289.0,1767.3L1287.6,1766.7L1286.2,1766.2L1284.8,1765.6L1283.4,1765.1L1282.0,1764.5L1280.6,1764.0L1279.2,1763.5L1277.8,1762.9L1276.4,1762.4L1275.0,1761.8L1273.6,1761.3L1272.2,1760.7L1270.8,1760.2L1269.4,1759.6L1268.0,1759.1L1266.6,1758.5L1265.2,1758.0L1263.8,1757.4L1262.4,1756.9L1261.0,1756.3L1259.6,1755.8L1258.2,1755.2L1256.8,1754.7L1255.4,1754.1L1254.0,1753.6L1252.6,1753.0L1251.2,1752.4L1249.8,1751.9L1248.4,1751.3L1247.0,1750.8L1245.6,1750.2L1244.2,1749.7L1242.8,1749.1L1241.4,1748.5L1240.1,1748.0L1238.7,1747.4L1237.3,1746.9L1235.9,1746.3L1234.5,1745.7L1233.1,1745.2L1231.7,1744.6L1230.3,1744.1L1228.9,1743.5L1227.5,1742.9L1226.1,1742.4L1224.7,1741.8L1223.3,1741.2L1222.0,1740.7L1220.6,1740.1L1219.2,1739.5L1217.8,1739.0L1216.4,1738.4L1215.0,1737.8L1213.6,1737.3L1212.2,1736.7L1210.8,1736.1L1209.4,1735.6L1208.1,1735.0L1206.7,1734.4L1205.3,1733.9L1203.9,1733.3L1202.5,1732.7L1201.1,1732.1L1199.7,1731.6L1198.3,1731.0L1197.0,1730.4L1195.6,1729.8L1194.2,1729.3L1192.8,1728.7L1191.4,1728.1L1190.0,1727.5L1188.6,1727.0L1187.2,1726.4L1185.9,1725.8L1184.5,1725.2L1183.1,1724.6L1181.7,1724.1L1180.3,1723.5L1178.9,1722.9L1177.6,1722.3L1176.2,1721.7L1174.8,1721.2L1173.4,1720.6L1172.0,1720.0L1170.6,1719.4L1169.3,1718.8L1167.9,1718.2L1166.5,1717.6L1165.1,1717.1L1163.7,1716.5L1162.3,1715.9L1161.0,1715.3L1159.6,1714.7L1158.2,1714.1L1156.8,1713.5L1155.4,1712.9L1154.1,1712.4L1152.7,1711.8L1151.3,1711.2L1149.9,1710.6L1148.5,1710.0L1147.1,1709.4L1145.8,1708.8L1144.4,1708.2L1143.0,1707.6L1141.6,1707.0L1140.3,1706.4L1138.9,1705.8L1137.5,1705.2L1136.1,1704.6L1134.7,1704.0L1133.4,1703.4L1132.0,1702.9L1130.6,1702.3L1129.2,1701.7L1127.9,1701.1L1126.5,1700.5L1125.1,1699.9L1123.7,1699.3L1122.3,1698.7L1121.0,1698.1L1119.6,1697.4L1118.2,1696.8L1116.8,1696.2L1115.5,1695.6L1114.1,1695.0L1112.7,1694.4L1111.3,1693.8L1110.0,1693.2L1108.6,1692.6L1107.2,1692.0L1105.8,1691.4L1104.5,1690.8L1103.1,1690.2L1101.7,1689.6L1100.4,1689.0L1099.0,1688.4L1097.6,1687.7L1096.2,1687.1L1094.9,1686.5L1093.5,1685.9L1092.1,1685.3L1090.7,1684.7L1089.4,1684.1L1088.0,1683.5L1086.6,1682.8L1085.3,1682.2L1083.9,1681.6L1082.5,1681.0L1081.1,1680.4L1079.8,1679.8L1078.4,1679.2L1077.0,1678.5L1075.7,1677.9L1074.3,1677.3L1072.9,1676.7L1071.6,1676.1L1070.2,1675.4L1068.8,1674.8L1067.5,1674.2L1066.1,1673.6L1064.7,1673.0L1063.4,1672.3L1062.0,1671.7L1060.6,1671.1L1059.2,1670.5L1057.9,1669.8L1056.5,1669.2L1055.1,1668.6L1053.8,1668.0L1052.4,1667.3L1051.1,1666.7L1049.7,1666.1L1048.3,1665.5L1047.0,1664.8L1045.6,1664.2L1044.2,1663.6L1042.9,1662.9L1041.5,1662.3L1040.1,1661.7L1038.8,1661.1L1037.4,1660.4L1036.0,1659.8L1034.7,1659.2L1033.3,1658.5L1031.9,1657.9L1030.6,1657.3L1029.2,1656.6L1027.8,1656.0L1026.5,1655.4L1025.1,1654.7L1023.8,1654.1L1022.4,1653.5L1021.0,1652.8L1019.7,1652.2L1018.3,1651.6L1016.9,1650.9L1015.6,1650.3L1014.2,1649.7L1012.8,1649.0L1011.5,1648.4L1010.1,1647.8L1008.8,1647.1L1007.4,1646.5L1006.0,1645.9L1004.7,1645.2L1003.3,1644.6L1001.9,1644.0L1000.6,1643.3L999.2,1642.7L997.8,1642.1L996.5,1641.4L995.1,1640.8L993.7,1640.2L992.4,1639.5L991.0,1638.9L989.7,1638.3L988.3,1637.6L986.9,1637.0L985.6,1636.4L984.2,1635.7L982.8,1635.1L981.5,1634.5L980.1,1633.8L978.7,1633.2L977.4,1632.6L976.0,1632.0L974.6,1631.3L973.3,1630.7L971.9,1630.1L970.5,1629.4L969.2,1628.8L967.8,1628.2L966.4,1627.6L965.1,1626.9L963.7,1626.3L962.3,1625.7L961.0,1625.1L959.6,1624.4L958.2,1623.8L956.8,1623.2L955.5,1622.6L954.1,1621.9L952.7,1621.3L951.4,1620.7L950.0,1620.1L948.6,1619.5L947.3,1618.8L945.9,1618.2L944.5,1617.6L943.1,1617.0L941.8,1616.4L940.4,1615.8L939.0,1615.2L937.7,1614.5L936.3,1613.9L934.9,1613.3L933.5,1612.7L932.2,1612.1L930.8,1611.5L929.4,1610.9L928.0,1610.3L926.7,1609.7L925.3,1609.1L923.9,1608.5L922.5,1607.9L921.1,1607.3L919.8,1606.7L918.4,1606.1L917.0,1605.5L915.6,1604.9L914.3,1604.3L912.9,1603.7L911.5,1603.1L910.1,1602.5L908.7,1601.9L907.3,1601.3L906.0,1600.7L904.6,1600.1L903.2,1599.5L901.8,1598.9L900.4,1598.3L899.0,1597.8L897.7,1597.2L896.3,1596.6L894.9,1596.0L893.5,1595.4L892.1,1594.9L890.7,1594.3L889.3,1593.7L887.9,1593.1L886.6,1592.6L885.2,1592.0L883.8,1591.4L882.4,1590.8L881.0,1590.3L879.6,1589.7L878.2,1589.1L876.8,1588.6L875.4,1588.0L874.0,1587.5L872.6,1586.9L871.2,1586.3L869.8,1585.8L868.4,1585.2L867.0,1584.7L865.6,1584.1L864.2,1583.6L862.8,1583.0L861.4,1582.5L860.0,1581.9L858.6,1581.4L857.2,1580.9L855.8,1580.3L854.4,1579.8L853.0,1579.2L851.6,1578.7L850.2,1578.2L848.8,1577.6L847.4,1577.1L846.0,1576.6L844.6,1576.1L843.2,1575.5L841.8,1575.0L840.4,1574.5L838.9,1574.0L837.5,1573.5L836.1,1572.9L834.7,1572.4L833.3,1571.9L831.9,1571.4L830.5,1570.9L829.0,1570.4L827.6,1569.9L826.2,1569.4L824.8,1568.9L823.4,1568.4L821.9,1567.9L820.5,1567.4L819.1,1566.9L817.7,1566.4L816.2,1566.0L814.8,1565.5L813.4,1565.0L812.0,1564.5L810.5,1564.0L809.1,1563.6L807.7,1563.1L806.2,1562.6L804.8,1562.1L803.4,1561.7L801.9,1561.2L800.5,1560.8L799.1,1560.3L797.6,1559.8L796.2,1559.4L794.8,1558.9L793.3,1558.5L791.9,1558.0L790.4,1557.6L789.0,1557.1L787.6,1556.7L786.1,1556.3L784.7,1555.8L783.2,1555.4L781.8,1555.0L780.3,1554.5L778.9,1554.1L777.4,1553.7L776.0,1553.3L774.5,1552.9L773.1,1552.4L771.6,1552.0L770.2,1551.6L768.7,1551.2L767.2,1550.8L765.8,1550.4L764.3,1550.0L762.9,1549.6L761.4,1549.2L759.9,1548.8L758.5,1548.4L757.0,1548.0L755.5,1547.7L754.1,1547.3L752.6,1546.9L751.1,1546.5L749.7,1546.2L748.2,1545.8L746.7,1545.4L745.3,1545.1L743.8,1544.7L742.3,1544.3L740.8,1544.0L739.3,1543.6L737.9,1543.3L736.4,1542.9L734.9,1542.6L733.4,1542.3L731.9,1541.9L730.4,1541.6L729.0,1541.3L727.5,1540.9L726.0,1540.6L724.5,1540.3L723.0,1540.0L721.5,1539.6L720.0,1539.3L718.5,1539.0L717.0,1538.7L715.5,1538.4L714.0,1538.1L712.5,1537.8L711.0,1537.5L709.5,1537.2L708.0,1537.0L706.5,1536.7L705.0,1536.4L703.5,1536.1L702.0,1535.9L700.5,1535.6L699.0,1535.3L697.5,1535.1L695.9,1534.8L694.4,1534.6L692.9,1534.3L691.4,1534.1L689.9,1533.9L688.4,1533.7L686.9,1533.4L685.3,1533.2L683.8,1533.0L682.3,1532.8L680.8,1532.6L679.3,1532.4L677.8,1532.2L676.2,1532.0L674.7,1531.8L673.2,1531.7L671.7,1531.5L670.2,1531.4L668.7,1531.2L667.1,1531.0L665.6,1530.9L664.1,1530.8L662.6,1530.6L661.1,1530.5L659.5,1530.4L658.0,1530.3L656.5,1530.2L655.0,1530.1L653.5,1530.0L651.9,1529.9L650.4,1529.8L648.9,1529.8L647.4,1529.7L645.9,1529.7L644.3,1529.6L642.8,1529.6L641.3,1529.6L639.8,1529.5L638.3,1529.5L636.8,1529.5L635.3,1529.5L633.7,1529.5L632.2,1529.5L630.7,1529.6L629.2,1529.6L627.7,1529.6L626.2,1529.7L624.7,1529.8L623.2,1529.8L621.7,1529.9L620.1,1530.0L618.6,1530.1L617.1,1530.2L615.6,1530.3L614.1,1530.4L612.6,1530.6L611.1,1530.7L609.6,1530.9L608.1,1531.0L606.6,1531.2L605.1,1531.4L603.7,1531.6L602.2,1531.8L600.7,1532.0L599.2,1532.2L597.7,1532.4L596.2,1532.7L594.7,1532.9L593.2,1533.2L591.8,1533.5L590.3,1533.7L588.8,1534.0L587.3,1534.3L585.9,1534.6L584.4,1535.0L582.9,1535.3L581.5,1535.6L580.0,1536.0L578.6,1536.3L577.1,1536.7L575.6,1537.1L574.2,1537.5L572.7,1537.9L571.3,1538.3L569.9,1538.7L568.4,1539.1L567.0,1539.5L565.5,1540.0L564.1,1540.4L562.7,1540.9L561.2,1541.3L559.8,1541.8L558.4,1542.3L557.0,1542.8L555.6,1543.3L554.1,1543.8L552.7,1544.3L551.3,1544.8L549.9,1545.4L548.5,1545.9L547.1,1546.5L545.7,1547.0L544.4,1547.6L543.0,1548.2L541.6,1548.8L540.2,1549.4L538.8,1550.0L537.5,1550.6L536.1,1551.2L534.7,1551.8L533.4,1552.4L532.0,1553.1L530.6,1553.7L529.3,1554.4L527.9,1555.0L526.6,1555.7L525.3,1556.4L523.9,1557.1L522.6,1557.8L521.3,1558.5L520.0,1559.2L518.6,1559.9L517.3,1560.6L516.0,1561.3L514.7,1562.1L513.4,1562.8L512.1,1563.6L510.8,1564.3L509.5,1565.1L508.2,1565.9L507.0,1566.6L505.7,1567.4L504.4,1568.2L503.1,1569.0L501.9,1569.8L500.6,1570.6L499.4,1571.5L498.1,1572.3L496.9,1573.1L495.6,1573.9L494.4,1574.8L493.2,1575.6L491.9,1576.5L490.7,1577.4L489.5,1578.2L488.3,1579.1L487.0,1580.0L485.8,1580.9L484.6,1581.8L483.4,1582.7L482.2,1583.6L481.0,1584.5L479.9,1585.4L478.7,1586.3L477.5,1587.3L476.3,1588.2L475.1,1589.1L474.0,1590.1L472.8,1591.0L471.7,1592.0L470.5,1593.0L469.4,1593.9L468.2,1594.9L467.1,1595.9L465.9,1596.9L464.8,1597.8L463.7,1598.8L462.5,1599.8L461.4,1600.8L460.3,1601.8L459.2,1602.9L458.1,1603.9L457.0,1604.9L455.9,1605.9L454.8,1607.0L453.7,1608.0L452.6,1609.1L451.5,1610.1L450.4,1611.2L449.4,1612.2L448.3,1613.3L447.2,1614.3L446.2,1615.4L445.1,1616.5L444.0,1617.5L443.0,1618.6L441.9,1619.7L440.8,1620.8L439.8,1621.9L438.8,1622.9L437.7,1624.0L436.7,1625.1L435.6,1626.2L434.6,1627.3L433.6,1628.5L432.6,1629.6L431.5,1630.7L430.5,1631.8L429.5,1632.9L428.5,1634.1L427.5,1635.2L426.5,1636.3L425.5,1637.5L424.5,1638.6L423.6,1639.8L422.6,1640.9L421.6,1642.1L420.6,1643.2L419.7,1644.4L418.7,1645.6L417.7,1646.7L416.8,1647.9L415.8,1649.1L414.9,1650.3L413.9,1651.4L413.0,1652.6L412.1,1653.8L411.1,1655.0L410.2,1656.2L409.3,1657.4L408.4,1658.6L407.5,1659.8L406.5,1661.0L405.6,1662.2L404.7,1663.5L403.8,1664.7L402.9,1665.9L402.0,1667.1L401.1,1668.3L400.3,1669.6L399.4,1670.8L398.5,1672.0L397.6,1673.3L396.7,1674.5L395.9,1675.8L395.0,1677.0L394.1,1678.2L393.3,1679.5L392.4,1680.7L391.6,1682.0L390.7,1683.3L389.9,1684.5L389.0,1685.8L388.2,1687.1L387.4,1688.3L386.5,1689.6L385.7,1690.9L384.9,1692.1L384.0,1693.4L383.2,1694.7L382.4,1696.0L381.6,1697.3L380.8,1698.6L380.0,1699.8L379.2,1701.1L378.4,1702.4L377.6,1703.7L376.8,1705.0L376.0,1706.3L375.2,1707.6L374.4,1708.9L373.6,1710.2L372.8,1711.6L372.1,1712.9L371.3,1714.2L370.5,1715.5L369.8,1716.8L369.0,1718.1L368.2,1719.4L367.5,1720.8L366.7,1722.1L366.0,1723.4L365.2,1724.7L364.5,1726.1L363.7,1727.4L363.0,1728.7L362.2,1730.1L361.5,1731.4L360.7,1732.7L360.0,1734.1L359.3,1735.4L358.5,1736.8L357.8,1738.1L357.1,1739.4L356.4,1740.8L355.7,1742.1L354.9,1743.5L354.2,1744.8L353.5,1746.2L352.8,1747.5L352.1,1748.9L351.4,1750.2L350.7,1751.6L350.0,1753.0L349.3,1754.3L348.6,1755.7L347.9,1757.0L347.2,1758.4L346.5,1759.7L345.8,1761.1L345.1,1762.5L344.5,1763.8L343.8,1765.2L343.1,1766.6L342.4,1767.9L341.7,1769.3L341.1,1770.7L340.4,1772.0L339.7,1773.4L339.1,1774.8L338.4,1776.2L337.7,1777.5L337.1,1778.9L336.4,1780.3L335.7,1781.7L335.1,1783.0L334.4,1784.4L333.8,1785.8L333.1,1787.2L332.5,1788.5L331.8,1789.9L331.2,1791.3L330.5,1792.7L329.9,1794.1L329.2,1795.4L328.6,1796.8L328.0,1798.2L327.3,1799.6L326.7,1801.0L326.1,1802.3L325.4,1803.7L324.8,1805.1L324.2,1806.5L323.5,1807.9L322.9,1809.2L322.3,1810.6L321.7,1812.0L321.0,1813.4L320.4,1814.8L319.8,1816.1L319.2,1817.5L318.5,1818.9L317.9,1820.3L317.3,1821.7L316.7,1823.0L316.1,1824.4L315.5,1825.8L314.9,1827.2L314.3,1828.6L313.6,1829.9L313.0,1831.3L312.4,1832.7L311.8,1834.1L311.2,1835.4L310.6,1836.8L310.0,1838.2L309.4,1839.6L308.8,1841.0L308.2,1842.3L307.6,1843.7L307.0,1845.1L306.4,1846.5L305.8,1847.8L305.2,1849.2L304.6,1850.6L304.0,1852.0L303.4,1853.3L302.9,1854.7L302.3,1856.1L301.7,1857.5L301.1,1858.8L300.5,1860.2L299.9,1861.6L299.4,1863.0L298.8,1864.4L298.2,1865.7L297.6,1867.1L297.0,1868.5L296.5,1869.9L295.9,1871.2L295.3,1872.6L294.8,1874.0L294.2,1875.4L293.6,1876.8L293.1,1878.1L292.5,1879.5L291.9,1880.9L291.4,1882.3L290.8,1883.7L290.3,1885.0L289.7,1886.4L289.2,1887.8L288.6,1889.2L288.1,1890.6L287.5,1892.0L287.0,1893.4L286.5,1894.7L285.9,1896.1L285.4,1897.5L284.8,1898.9L284.3,1900.3L283.8,1901.7L283.2,1903.1L282.7,1904.5L282.2,1905.9L281.7,1907.2L281.2,1908.6L280.6,1910.0L280.1,1911.4L279.6,1912.8L279.1,1914.2L278.6,1915.6L278.1,1917.0L277.6,1918.4L277.1,1919.8L276.6,1921.2L276.1,1922.6L275.6,1924.0L275.1,1925.4L274.6,1926.8L274.1,1928.3L273.6,1929.7L273.2,1931.1L272.7,1932.5L272.2,1933.9L271.7,1935.3L271.3,1936.7L270.8,1938.1L270.3,1939.6L269.9,1941.0L269.4,1942.4L268.9,1943.8L268.5,1945.2L268.0,1946.7L267.6,1948.1L267.1,1949.5L266.7,1950.9L266.3,1952.4L265.8,1953.8L265.4,1955.2L265.0,1956.7L264.5,1958.1L264.1,1959.5L263.7,1961.0L263.3,1962.4L262.8,1963.9L262.4,1965.3L262.0,1966.7L261.6,1968.2L261.2,1969.6L260.8,1971.1L260.4,1972.5L260.0,1974.0L259.6,1975.4L259.2,1976.9L258.9,1978.4L258.5,1979.8L258.1,1981.3L257.7,1982.8L257.4,1984.2L257.0,1985.7L256.6,1987.2L256.3,1988.6L255.9,1990.1L255.6,1991.6L255.2,1993.1L254.9,1994.5L254.5,1996.0L254.2,1997.5L253.8,1999.0L253.5,2000.5L253.2,2002.0L252.9,2003.5L252.5,2005.0L252.2,2006.5L251.9,2008.0L251.6,2009.5L251.3,2011.0L251.0,2012.5L250.7,2014.0Z" fill="#a6a6a6"/>
<path d="M255.2,1982.3L255.7,1981.0L256.1,1979.6L256.5,1978.2L256.9,1976.9L257.4,1975.5L257.8,1974.2L258.3,1972.8L258.7,1971.4L259.1,1970.1L259.6,1968.7L260.0,1967.3L260.5,1966.0L261.0,1964.6L261.4,1963.2L261.9,1961.9L262.3,1960.5L262.8,1959.1L262.9,1959.0L257.7,1957.2L257.6,1957.4L257.2,1958.7L256.7,1960.1L256.2,1961.5L255.7,1962.8L255.3,1964.2L254.8,1965.6L254.4,1967.0L253.9,1968.3L253.5,1969.7L253.0,1971.1L252.6,1972.5L252.1,1973.8L251.7,1975.2L251.2,1976.6L250.8,1977.9L250.4,1979.3L250.0,1980.7ZM271.5,1935.2L271.7,1934.5L272.3,1933.2L272.8,1931.8L273.3,1930.4L273.8,1929.1L274.4,1927.7L274.9,1926.3L275.5,1925.0L276.0,1923.6L276.5,1922.2L277.1,1920.9L277.6,1919.5L278.2,1918.1L278.7,1916.8L279.3,1915.4L279.8,1914.0L280.4,1912.7L280.5,1912.4L275.5,1910.3L275.4,1910.6L274.9,1912.0L274.3,1913.4L273.7,1914.7L273.2,1916.1L272.6,1917.5L272.1,1918.9L271.5,1920.2L271.0,1921.6L270.4,1923.0L269.9,1924.4L269.3,1925.7L268.8,1927.1L268.3,1928.5L267.7,1929.9L267.2,1931.2L266.7,1932.6L266.4,1933.2ZM290.4,1889.0L290.8,1888.1L291.4,1886.7L292.0,1885.3L292.6,1884.0L293.2,1882.6L293.8,1881.2L294.4,1879.9L295.0,1878.5L295.6,1877.2L296.2,1875.8L296.8,1874.4L297.4,1873.1L298.1,1871.7L298.7,1870.4L299.3,1869.0L299.9,1867.6L300.4,1866.6L295.6,1864.4L295.1,1865.4L294.5,1866.8L293.9,1868.2L293.3,1869.5L292.6,1870.9L292.0,1872.3L291.4,1873.6L290.8,1875.0L290.2,1876.4L289.6,1877.7L288.9,1879.1L288.3,1880.5L287.7,1881.8L287.1,1883.2L286.5,1884.6L285.9,1885.9L285.5,1886.8ZM311.2,1843.6L311.3,1843.2L312.0,1841.9L312.6,1840.6L313.3,1839.2L313.9,1837.9L314.6,1836.5L315.2,1835.2L315.9,1833.8L316.5,1832.5L317.2,1831.1L317.9,1829.8L318.5,1828.4L319.2,1827.1L319.8,1825.8L320.5,1824.4L321.2,1823.1L321.8,1821.7L322.0,1821.5L317.3,1819.2L317.2,1819.4L316.5,1820.8L315.8,1822.1L315.2,1823.5L314.5,1824.8L313.8,1826.1L313.2,1827.5L312.5,1828.8L311.9,1830.2L311.2,1831.5L310.5,1832.9L309.9,1834.2L309.2,1835.6L308.6,1836.9L307.9,1838.3L307.3,1839.6L306.6,1841.0L306.5,1841.3ZM333.4,1798.8L334.0,1797.8L334.7,1796.5L335.3,1795.1L336.0,1793.8L336.7,1792.5L337.4,1791.2L338.1,1789.9L338.8,1788.6L339.5,1787.2L340.2,1785.9L340.9,1784.6L341.6,1783.3L342.3,1782.0L343.0,1780.7L343.7,1779.4L344.4,1778.1L344.9,1777.1L340.4,1774.7L339.9,1775.6L339.2,1777.0L338.5,1778.3L337.8,1779.6L337.1,1780.9L336.4,1782.2L335.7,1783.5L335.0,1784.8L334.3,1786.2L333.6,1787.5L332.9,1788.8L332.2,1790.1L331.5,1791.4L330.8,1792.8L330.1,1794.1L329.4,1795.4L328.9,1796.4ZM357.3,1754.9L357.4,1754.7L358.1,1753.5L358.9,1752.2L359.6,1750.9L360.3,1749.6L361.1,1748.3L361.8,1747.1L362.6,1745.8L363.3,1744.5L364.1,1743.2L364.8,1742.0L365.6,1740.7L366.4,1739.4L367.1,1738.2L367.9,1736.9L368.6,1735.6L369.4,1734.4L369.7,1733.8L365.5,1731.2L365.2,1731.8L364.4,1733.1L363.6,1734.3L362.9,1735.6L362.1,1736.9L361.3,1738.1L360.6,1739.4L359.8,1740.7L359.0,1742.0L358.3,1743.2L357.5,1744.5L356.8,1745.8L356.0,1747.1L355.3,1748.4L354.5,1749.7L353.8,1751.0L353.0,1752.2L352.9,1752.4ZM383.2,1712.3L383.5,1711.9L384.3,1710.6L385.1,1709.4L385.9,1708.2L386.8,1706.9L387.6,1705.7L388.4,1704.5L389.2,1703.3L390.0,1702.0L390.8,1700.8L391.7,1699.6L392.5,1698.4L393.3,1697.2L394.2,1696.0L395.0,1694.7L395.8,1693.5L396.7,1692.3L396.9,1692.0L393.0,1689.2L392.8,1689.6L391.9,1690.8L391.1,1692.0L390.2,1693.2L389.4,1694.5L388.5,1695.7L387.7,1696.9L386.9,1698.1L386.0,1699.4L385.2,1700.6L384.4,1701.8L383.6,1703.0L382.7,1704.3L381.9,1705.5L381.1,1706.7L380.3,1708.0L379.5,1709.2L379.2,1709.7ZM411.8,1671.4L412.2,1670.9L413.1,1669.7L414.0,1668.5L414.9,1667.4L415.8,1666.2L416.7,1665.0L417.6,1663.9L418.5,1662.7L419.4,1661.5L420.3,1660.4L421.2,1659.2L422.1,1658.1L423.0,1656.9L423.9,1655.8L424.9,1654.6L425.8,1653.5L426.7,1652.3L426.9,1652.1L423.4,1649.3L423.2,1649.5L422.3,1650.6L421.4,1651.8L420.4,1652.9L419.5,1654.1L418.6,1655.3L417.6,1656.4L416.7,1657.6L415.8,1658.7L414.9,1659.9L414.0,1661.1L413.0,1662.2L412.1,1663.4L411.2,1664.6L410.3,1665.7L409.4,1666.9L408.5,1668.1L408.1,1668.6ZM443.4,1632.9L443.9,1632.2L444.9,1631.2L445.9,1630.1L446.9,1629.0L447.9,1627.9L448.9,1626.8L449.9,1625.8L450.9,1624.7L452.0,1623.6L453.0,1622.6L454.0,1621.5L455.0,1620.4L456.0,1619.4L457.1,1618.3L458.1,1617.3L459.2,1616.3L460.2,1615.2L460.3,1615.2L457.4,1612.2L457.3,1612.3L456.3,1613.3L455.2,1614.4L454.2,1615.4L453.1,1616.5L452.1,1617.5L451.0,1618.6L450.0,1619.7L448.9,1620.7L447.9,1621.8L446.9,1622.9L445.9,1623.9L444.8,1625.0L443.8,1626.1L442.8,1627.2L441.8,1628.3L440.8,1629.4L440.2,1630.0ZM479.1,1598.2L479.9,1597.5L481.0,1596.6L482.1,1595.6L483.3,1594.7L484.4,1593.8L485.6,1592.9L486.7,1591.9L487.9,1591.0L489.0,1590.1L490.2,1589.2L491.4,1588.3L492.6,1587.4L493.7,1586.6L494.9,1585.7L496.1,1584.8L497.3,1583.9L498.3,1583.2L495.6,1579.4L494.5,1580.2L493.3,1581.1L492.1,1582.0L491.0,1582.9L489.8,1583.8L488.6,1584.7L487.4,1585.6L486.2,1586.5L485.1,1587.5L483.9,1588.4L482.7,1589.4L481.6,1590.3L480.4,1591.3L479.3,1592.2L478.1,1593.2L477.0,1594.1L476.2,1594.8ZM519.4,1569.3L519.5,1569.2L520.8,1568.5L522.0,1567.7L523.3,1567.0L524.6,1566.2L525.9,1565.5L527.2,1564.8L528.5,1564.0L529.7,1563.3L531.0,1562.6L532.3,1561.9L533.6,1561.2L534.9,1560.5L536.3,1559.8L537.6,1559.2L538.9,1558.5L540.2,1557.8L540.8,1557.6L538.4,1552.9L537.9,1553.2L536.5,1553.9L535.2,1554.6L533.9,1555.3L532.5,1556.0L531.2,1556.7L529.9,1557.4L528.6,1558.2L527.3,1558.9L526.0,1559.6L524.7,1560.4L523.4,1561.1L522.1,1561.9L520.8,1562.7L519.5,1563.4L518.2,1564.2L516.9,1565.0L516.8,1565.1ZM563.8,1547.3L564.3,1547.1L565.7,1546.6L567.1,1546.1L568.4,1545.6L569.8,1545.1L571.2,1544.6L572.5,1544.1L573.9,1543.6L575.3,1543.1L576.7,1542.7L578.1,1542.2L579.4,1541.8L580.8,1541.3L582.2,1540.9L583.6,1540.5L585.0,1540.1L586.4,1539.7L586.8,1539.5L585.3,1534.2L584.8,1534.3L583.4,1534.8L582.0,1535.2L580.6,1535.6L579.1,1536.1L577.7,1536.5L576.3,1537.0L574.9,1537.5L573.5,1538.0L572.1,1538.4L570.7,1538.9L569.3,1539.4L567.9,1540.0L566.5,1540.5L565.1,1541.0L563.7,1541.6L562.4,1542.1L561.8,1542.3ZM611.3,1533.7L611.7,1533.6L613.1,1533.4L614.5,1533.1L615.9,1532.9L617.4,1532.6L618.8,1532.4L620.2,1532.1L621.6,1531.9L623.1,1531.7L624.5,1531.5L625.9,1531.3L627.3,1531.1L628.8,1530.9L630.2,1530.7L631.6,1530.6L633.1,1530.4L634.5,1530.2L635.4,1530.1L634.8,1524.4L633.9,1524.5L632.4,1524.7L631.0,1524.8L629.5,1525.0L628.0,1525.2L626.6,1525.4L625.1,1525.6L623.7,1525.8L622.2,1526.0L620.7,1526.3L619.3,1526.5L617.8,1526.7L616.4,1527.0L614.9,1527.2L613.5,1527.5L612.0,1527.8L610.6,1528.0L610.3,1528.1ZM660.6,1528.5L661.9,1528.5L663.4,1528.4L664.8,1528.4L666.3,1528.4L667.7,1528.4L669.2,1528.4L670.7,1528.4L672.1,1528.4L673.6,1528.4L675.0,1528.5L676.5,1528.5L677.9,1528.5L679.4,1528.6L680.8,1528.6L682.3,1528.7L683.7,1528.7L685.0,1528.8L685.2,1523.0L684.0,1522.9L682.5,1522.9L681.0,1522.8L679.6,1522.8L678.1,1522.7L676.6,1522.7L675.1,1522.7L673.6,1522.6L672.2,1522.6L670.7,1522.6L669.2,1522.6L667.7,1522.6L666.2,1522.6L664.8,1522.6L663.3,1522.7L661.8,1522.7L660.4,1522.7ZM710.1,1530.8L711.4,1530.9L712.9,1531.1L714.3,1531.3L715.8,1531.5L717.2,1531.7L718.7,1531.9L720.1,1532.1L721.6,1532.3L723.0,1532.5L724.5,1532.7L726.0,1532.9L727.4,1533.1L728.9,1533.4L730.3,1533.6L731.8,1533.8L733.2,1534.1L734.3,1534.3L735.3,1528.7L734.2,1528.5L732.7,1528.2L731.2,1528.0L729.8,1527.7L728.3,1527.5L726.8,1527.2L725.4,1527.0L723.9,1526.8L722.4,1526.6L720.9,1526.4L719.5,1526.2L718.0,1526.0L716.5,1525.8L715.0,1525.6L713.6,1525.4L712.1,1525.2L710.8,1525.1ZM759.1,1539.4L759.2,1539.4L760.6,1539.7L762.0,1540.1L763.5,1540.4L764.9,1540.8L766.3,1541.1L767.8,1541.5L769.2,1541.9L770.6,1542.2L772.0,1542.6L773.5,1543.0L774.9,1543.4L776.3,1543.8L777.7,1544.1L779.2,1544.5L780.6,1544.9L782.0,1545.3L782.7,1545.6L784.3,1540.2L783.5,1540.0L782.1,1539.6L780.7,1539.2L779.2,1538.8L777.8,1538.4L776.4,1538.0L774.9,1537.6L773.5,1537.2L772.1,1536.8L770.6,1536.4L769.2,1536.0L767.7,1535.7L766.3,1535.3L764.8,1534.9L763.4,1534.6L761.9,1534.2L760.5,1533.9L760.4,1533.9ZM806.9,1553.2L807.3,1553.3L808.7,1553.8L810.1,1554.3L811.5,1554.8L812.9,1555.3L814.3,1555.8L815.7,1556.3L817.1,1556.8L818.5,1557.3L819.9,1557.8L821.3,1558.3L822.6,1558.8L824.0,1559.3L825.4,1559.9L826.8,1560.4L828.2,1560.9L829.6,1561.4L829.9,1561.6L831.9,1556.5L831.5,1556.4L830.1,1555.9L828.7,1555.3L827.3,1554.8L825.9,1554.3L824.5,1553.7L823.2,1553.2L821.8,1552.7L820.4,1552.2L819.0,1551.7L817.5,1551.1L816.1,1550.6L814.7,1550.1L813.3,1549.6L811.9,1549.1L810.5,1548.6L809.1,1548.2L808.7,1548.0ZM853.4,1571.1L854.3,1571.5L855.7,1572.1L857.0,1572.7L858.4,1573.3L859.8,1573.9L861.1,1574.5L862.5,1575.1L863.8,1575.7L865.2,1576.3L866.6,1576.9L867.9,1577.5L869.3,1578.1L870.6,1578.7L872.0,1579.3L873.3,1580.0L874.7,1580.6L875.8,1581.1L878.0,1576.3L876.9,1575.8L875.5,1575.2L874.2,1574.5L872.8,1573.9L871.4,1573.3L870.1,1572.7L868.7,1572.1L867.4,1571.5L866.0,1570.8L864.6,1570.2L863.3,1569.6L861.9,1569.0L860.5,1568.4L859.1,1567.8L857.8,1567.2L856.4,1566.6L855.5,1566.2ZM898.7,1592.0L898.9,1592.1L900.3,1592.8L901.6,1593.4L902.9,1594.1L904.3,1594.7L905.6,1595.4L907.0,1596.1L908.3,1596.7L909.6,1597.4L911.0,1598.1L912.3,1598.8L913.6,1599.4L915.0,1600.1L916.3,1600.8L917.6,1601.4L919.0,1602.1L920.3,1602.8L920.7,1603.0L923.0,1598.4L922.6,1598.2L921.3,1597.5L920.0,1596.8L918.6,1596.2L917.3,1595.5L916.0,1594.8L914.6,1594.1L913.3,1593.5L912.0,1592.8L910.6,1592.1L909.3,1591.4L907.9,1590.8L906.6,1590.1L905.3,1589.4L903.9,1588.8L902.6,1588.1L901.2,1587.4L901.0,1587.3ZM943.2,1614.7L944.1,1615.2L945.5,1615.9L946.8,1616.6L948.1,1617.3L949.4,1618.0L950.7,1618.7L952.1,1619.4L953.4,1620.1L954.7,1620.8L956.0,1621.5L957.3,1622.2L958.6,1622.9L959.9,1623.6L961.3,1624.3L962.6,1625.0L963.9,1625.7L964.9,1626.2L967.4,1621.7L966.3,1621.2L965.0,1620.5L963.7,1619.8L962.4,1619.1L961.0,1618.4L959.7,1617.7L958.4,1616.9L957.1,1616.2L955.8,1615.5L954.5,1614.8L953.1,1614.1L951.8,1613.4L950.5,1612.7L949.2,1612.0L947.9,1611.3L946.5,1610.7L945.6,1610.2ZM987.3,1638.3L987.5,1638.3L988.8,1639.1L990.1,1639.8L991.4,1640.5L992.7,1641.2L994.0,1641.9L995.3,1642.6L996.6,1643.3L997.9,1644.0L999.2,1644.7L1000.5,1645.4L1001.8,1646.1L1003.1,1646.8L1004.4,1647.5L1005.7,1648.3L1007.0,1649.0L1008.3,1649.7L1009.0,1650.0L1011.4,1645.6L1010.7,1645.2L1009.4,1644.5L1008.1,1643.8L1006.8,1643.1L1005.5,1642.4L1004.2,1641.7L1002.9,1640.9L1001.6,1640.2L1000.3,1639.5L999.0,1638.8L997.7,1638.1L996.4,1637.4L995.1,1636.7L993.8,1636.0L992.5,1635.3L991.2,1634.6L989.9,1633.9L989.8,1633.8ZM1031.3,1662.2L1031.7,1662.4L1033.0,1663.1L1034.3,1663.9L1035.6,1664.6L1036.9,1665.3L1038.2,1666.0L1039.5,1666.7L1040.8,1667.4L1042.1,1668.1L1043.3,1668.8L1044.6,1669.5L1045.9,1670.2L1047.2,1670.9L1048.5,1671.7L1049.8,1672.4L1051.1,1673.1L1052.4,1673.8L1052.9,1674.0L1055.3,1669.6L1054.9,1669.3L1053.6,1668.6L1052.3,1667.9L1051.0,1667.2L1049.7,1666.5L1048.4,1665.8L1047.1,1665.1L1045.8,1664.4L1044.5,1663.6L1043.2,1662.9L1041.9,1662.2L1040.6,1661.5L1039.3,1660.8L1038.0,1660.1L1036.7,1659.4L1035.4,1658.7L1034.1,1658.0L1033.7,1657.8ZM1075.2,1686.2L1075.7,1686.5L1077.0,1687.2L1078.3,1687.9L1079.6,1688.6L1080.9,1689.3L1082.2,1690.0L1083.5,1690.7L1084.8,1691.5L1086.1,1692.2L1087.4,1692.9L1088.7,1693.6L1090.0,1694.3L1091.3,1695.0L1092.6,1695.7L1093.9,1696.4L1095.2,1697.1L1096.4,1697.8L1096.8,1698.0L1099.3,1693.5L1098.9,1693.3L1097.6,1692.6L1096.3,1691.9L1095.0,1691.2L1093.7,1690.5L1092.4,1689.8L1091.1,1689.1L1089.8,1688.4L1088.5,1687.7L1087.2,1687.0L1085.9,1686.3L1084.6,1685.6L1083.3,1684.9L1082.0,1684.2L1080.8,1683.5L1079.5,1682.8L1078.2,1682.0L1077.6,1681.8ZM1119.2,1710.1L1119.8,1710.4L1121.1,1711.1L1122.4,1711.8L1123.7,1712.4L1125.0,1713.1L1126.3,1713.8L1127.6,1714.5L1128.9,1715.2L1130.2,1715.9L1131.5,1716.6L1132.8,1717.3L1134.1,1718.0L1135.4,1718.7L1136.7,1719.4L1138.0,1720.1L1139.3,1720.7L1140.6,1721.4L1141.0,1721.6L1143.4,1717.1L1143.0,1716.9L1141.7,1716.2L1140.4,1715.5L1139.1,1714.8L1137.8,1714.1L1136.5,1713.5L1135.2,1712.8L1133.9,1712.1L1132.6,1711.4L1131.3,1710.7L1130.0,1710.0L1128.7,1709.3L1127.4,1708.6L1126.1,1707.9L1124.8,1707.2L1123.5,1706.5L1122.2,1705.9L1121.7,1705.6ZM1163.6,1733.4L1164.1,1733.7L1165.4,1734.4L1166.8,1735.1L1168.1,1735.7L1169.4,1736.4L1170.7,1737.1L1172.0,1737.8L1173.3,1738.4L1174.6,1739.1L1175.9,1739.8L1177.3,1740.4L1178.6,1741.1L1179.9,1741.8L1181.2,1742.4L1182.5,1743.1L1183.8,1743.8L1185.1,1744.4L1185.5,1744.6L1187.8,1740.0L1187.5,1739.8L1186.2,1739.1L1184.8,1738.5L1183.5,1737.8L1182.2,1737.2L1180.9,1736.5L1179.6,1735.8L1178.3,1735.2L1177.0,1734.5L1175.7,1733.8L1174.3,1733.2L1173.0,1732.5L1171.7,1731.8L1170.4,1731.1L1169.1,1730.5L1167.8,1729.8L1166.5,1729.1L1165.9,1728.8ZM1208.3,1755.9L1208.9,1756.2L1210.3,1756.8L1211.6,1757.5L1212.9,1758.1L1214.3,1758.7L1215.6,1759.4L1216.9,1760.0L1218.2,1760.6L1219.6,1761.3L1220.9,1761.9L1222.2,1762.5L1223.6,1763.2L1224.9,1763.8L1226.2,1764.4L1227.6,1765.0L1228.9,1765.7L1230.3,1766.3L1230.6,1766.5L1232.8,1761.7L1232.5,1761.5L1231.1,1760.9L1229.8,1760.3L1228.5,1759.7L1227.1,1759.0L1225.8,1758.4L1224.5,1757.8L1223.1,1757.2L1221.8,1756.5L1220.5,1755.9L1219.2,1755.3L1217.8,1754.6L1216.5,1754.0L1215.2,1753.4L1213.9,1752.7L1212.5,1752.1L1211.2,1751.5L1210.6,1751.2ZM1253.8,1777.0L1254.4,1777.2L1255.8,1777.8L1257.1,1778.4L1258.5,1779.0L1259.9,1779.6L1261.2,1780.2L1262.6,1780.8L1263.9,1781.4L1265.3,1781.9L1266.6,1782.5L1268.0,1783.1L1269.4,1783.7L1270.7,1784.3L1272.1,1784.8L1273.4,1785.4L1274.8,1786.0L1276.2,1786.5L1276.5,1786.7L1278.6,1781.7L1278.2,1781.6L1276.9,1781.0L1275.5,1780.5L1274.1,1779.9L1272.8,1779.3L1271.4,1778.8L1270.1,1778.2L1268.7,1777.6L1267.4,1777.0L1266.0,1776.5L1264.7,1775.9L1263.3,1775.3L1262.0,1774.7L1260.6,1774.1L1259.3,1773.6L1257.9,1773.0L1256.6,1772.4L1256.0,1772.1ZM1300.2,1796.2L1300.9,1796.4L1302.3,1796.9L1303.6,1797.5L1305.0,1798.0L1306.4,1798.5L1307.8,1799.0L1309.2,1799.6L1310.6,1800.1L1312.0,1800.6L1313.3,1801.1L1314.7,1801.6L1316.1,1802.1L1317.5,1802.6L1318.9,1803.1L1320.3,1803.6L1321.7,1804.1L1323.1,1804.6L1323.3,1804.7L1325.2,1799.6L1324.9,1799.5L1323.5,1799.0L1322.1,1798.5L1320.8,1798.0L1319.4,1797.5L1318.0,1797.0L1316.6,1796.5L1315.2,1796.0L1313.8,1795.5L1312.5,1795.0L1311.1,1794.5L1309.7,1794.0L1308.3,1793.4L1306.9,1792.9L1305.6,1792.4L1304.2,1791.9L1302.8,1791.4L1302.1,1791.1ZM1347.5,1812.9L1348.4,1813.2L1349.9,1813.7L1351.3,1814.1L1352.7,1814.5L1354.1,1815.0L1355.5,1815.4L1357.0,1815.9L1358.4,1816.3L1359.8,1816.7L1361.3,1817.2L1362.7,1817.6L1364.1,1818.0L1365.5,1818.5L1367.0,1818.9L1368.4,1819.3L1369.9,1819.7L1371.1,1820.1L1372.7,1814.7L1371.4,1814.4L1370.0,1813.9L1368.5,1813.5L1367.1,1813.1L1365.7,1812.7L1364.3,1812.3L1362.9,1811.9L1361.4,1811.4L1360.0,1811.0L1358.6,1810.6L1357.2,1810.1L1355.8,1809.7L1354.4,1809.3L1352.9,1808.8L1351.5,1808.4L1350.1,1807.9L1349.2,1807.6ZM1395.8,1826.7L1395.9,1826.7L1397.4,1827.1L1398.8,1827.4L1400.3,1827.8L1401.8,1828.2L1403.2,1828.5L1404.7,1828.9L1406.2,1829.2L1407.6,1829.5L1409.1,1829.9L1410.6,1830.2L1412.1,1830.5L1413.5,1830.9L1415.0,1831.2L1416.5,1831.5L1418.0,1831.8L1419.5,1832.2L1419.9,1832.2L1421.1,1826.7L1420.6,1826.6L1419.2,1826.3L1417.7,1826.0L1416.2,1825.7L1414.8,1825.3L1413.3,1825.0L1411.8,1824.7L1410.4,1824.4L1408.9,1824.0L1407.5,1823.7L1406.0,1823.4L1404.5,1823.0L1403.1,1822.7L1401.6,1822.3L1400.2,1822.0L1398.7,1821.6L1397.3,1821.3L1397.2,1821.2Z" fill="#000"/>
<rect x="528.4" y="1805.5" width="620.1" height="159.9" fill="#fff" stroke="#262626" stroke-width="3"/>
<path d="M540,1846.4H667.7" stroke="#a6a6a6" stroke-width="5.6" fill="none"/>
<path d="M540,1924.5H667.7" stroke="#000" stroke-width="6.2" fill="none" stroke-dasharray="24.7 25.2"/>
<text x="186.7" y="58.3" font-size="67.5px" fill="#262626" stroke="#fff" stroke-width="1.1" textLength="37.6" lengthAdjust="spacingAndGlyphs">0</text>
<text x="111.4" y="329.1" font-size="67.5px" fill="#262626" stroke="#fff" stroke-width="1.1" textLength="108.2" lengthAdjust="spacingAndGlyphs">-0.2</text>
<text x="111.4" y="600.7" font-size="67.5px" fill="#262626" stroke="#fff" stroke-width="1.1" textLength="108.1" lengthAdjust="spacingAndGlyphs">-0.4</text>
<text x="111.3" y="875.7" font-size="67.5px" fill="#262626" stroke="#fff" stroke-width="1.1" textLength="109.3" lengthAdjust="spacingAndGlyphs">-0.6</text>
<text x="111.3" y="1147.6" font-size="67.5px" fill="#262626" stroke="#fff" stroke-width="1.1" textLength="109.9" lengthAdjust="spacingAndGlyphs">-0.8</text>
<text x="189.6" y="1209.7" font-size="67.5px" fill="#262626" stroke="#fff" stroke-width="1.1" textLength="106.9" lengthAdjust="spacingAndGlyphs">-0.5</text>
<text x="520.5" y="1210.3" font-size="67.5px" fill="#262626" stroke="#fff" stroke-width="1.1" textLength="38.2" lengthAdjust="spacingAndGlyphs">0</text>
<text x="792.7" y="1209.7" font-size="67.5px" fill="#262626" stroke="#fff" stroke-width="1.1" textLength="84.1" lengthAdjust="spacingAndGlyphs">0.5</text>
<text x="1110.0" y="1210.9" font-size="67.5px" fill="#262626" stroke="#fff" stroke-width="1.1" textLength="37.6" lengthAdjust="spacingAndGlyphs">1</text>
<text x="1379.4" y="1209.7" font-size="67.5px" fill="#262626" stroke="#fff" stroke-width="1.1" textLength="84.9" lengthAdjust="spacingAndGlyphs">1.5</text>
<text x="768.4" y="1301.2" font-size="72.0px" fill="#262626" stroke="#fff" stroke-width="1.1" textLength="135.5" lengthAdjust="spacingAndGlyphs">Real</text>
<text x="-651.3" y="80.6" font-size="72.0px" fill="#262626" stroke="#fff" stroke-width="1.1" textLength="158.7" lengthAdjust="spacingAndGlyphs" transform="rotate(-90)">Imag</text>
<text x="600.2" y="126.6" font-size="61.0px" fill="#000" stroke="#fff" stroke-width="0.7" textLength="197.2" lengthAdjust="spacingAndGlyphs">Process</text>
<text><tspan x="600.4" y="201.6" font-size="61.0px" fill="#000" stroke="#fff" stroke-width="0.7" textLength="158.3" lengthAdjust="spacingAndGlyphs">Model</tspan> <tspan x="772.0" y="201.5" font-size="61.0px" fill="#000" stroke="#fff" stroke-width="0.7" textLength="269.7" lengthAdjust="spacingAndGlyphs">(previous)</tspan></text>
<text><tspan x="600.4" y="279.7" font-size="61.0px" fill="#000" stroke="#fff" stroke-width="0.7" textLength="158.3" lengthAdjust="spacingAndGlyphs">Model</tspan> <tspan x="772.0" y="279.2" font-size="61.0px" fill="#000" stroke="#fff" stroke-width="0.7" textLength="286.2" lengthAdjust="spacingAndGlyphs">(proposed)</tspan></text>
<text><tspan x="743.8" y="1409.1" font-size="84.6px" fill="#000" textLength="25.7" lengthAdjust="spacingAndGlyphs">(</tspan><tspan x="770.0" y="1408.7" font-size="83.6px" fill="#000" font-weight="bold" textLength="41.2" lengthAdjust="spacingAndGlyphs">a</tspan><tspan x="812.6" y="1409.1" font-size="84.6px" fill="#000" textLength="25.7" lengthAdjust="spacingAndGlyphs">)</tspan></text>
<text x="142.0" y="1647.8" font-size="67.5px" fill="#262626" stroke="#fff" stroke-width="1.1" textLength="85.9" lengthAdjust="spacingAndGlyphs">0.6</text>
<text x="142.0" y="1779.4" font-size="67.5px" fill="#262626" stroke="#fff" stroke-width="1.1" textLength="85.7" lengthAdjust="spacingAndGlyphs">0.4</text>
<text x="141.9" y="1910.9" font-size="67.5px" fill="#262626" stroke="#fff" stroke-width="1.1" textLength="86.6" lengthAdjust="spacingAndGlyphs">0.2</text>
<text x="192.7" y="2042.0" font-size="67.5px" fill="#262626" stroke="#fff" stroke-width="1.1" textLength="35.9" lengthAdjust="spacingAndGlyphs">0</text>
<text x="231.6" y="2104.9" font-size="67.5px" fill="#262626" stroke="#fff" stroke-width="1.1" textLength="39.8" lengthAdjust="spacingAndGlyphs">0</text>
<text x="507.9" y="2104.9" font-size="67.5px" fill="#262626" stroke="#fff" stroke-width="1.1" textLength="75.8" lengthAdjust="spacingAndGlyphs">20</text>
<text x="801.8" y="2104.9" font-size="67.5px" fill="#262626" stroke="#fff" stroke-width="1.1" textLength="76.1" lengthAdjust="spacingAndGlyphs">40</text>
<text x="1092.0" y="2104.9" font-size="67.5px" fill="#262626" stroke="#fff" stroke-width="1.1" textLength="77.3" lengthAdjust="spacingAndGlyphs">60</text>
<text x="1386.3" y="2104.9" font-size="67.5px" fill="#262626" stroke="#fff" stroke-width="1.1" textLength="76.8" lengthAdjust="spacingAndGlyphs">80</text>
<text x="767.8" y="2195.3" font-size="72.0px" fill="#262626" stroke="#fff" stroke-width="1.1" textLength="143.3" lengthAdjust="spacingAndGlyphs">time</text>
<text transform="rotate(-90)"><tspan x="-1897.0" y="80.4" font-size="72.0px" fill="#262626" stroke="#fff" stroke-width="1.1" textLength="35.0" lengthAdjust="spacingAndGlyphs">d</tspan><tspan x="-1857.2" y="113.8" font-size="60.5px" fill="#262626" stroke="#fff" stroke-width="0.9" textLength="166.7" lengthAdjust="spacingAndGlyphs">output</tspan><tspan x="-1686.3" y="81.1" font-size="72.0px" fill="#262626" stroke="#fff" stroke-width="1.1" textLength="77.4" lengthAdjust="spacingAndGlyphs">(t)</tspan></text>
<text x="675.5" y="1870.1" font-size="61.0px" fill="#000" stroke="#fff" stroke-width="0.7" textLength="197.7" lengthAdjust="spacingAndGlyphs">Process</text>
<text><tspan x="675.7" y="1945.1" font-size="61.0px" fill="#000" stroke="#fff" stroke-width="0.7" textLength="158.8" lengthAdjust="spacingAndGlyphs">Model</tspan> <tspan x="847.0" y="1944.2" font-size="61.0px" fill="#000" stroke="#fff" stroke-width="0.7" textLength="286.9" lengthAdjust="spacingAndGlyphs">(proposed)</tspan></text>
<text><tspan x="739.8" y="2308.1" font-size="84.6px" fill="#000" textLength="25.7" lengthAdjust="spacingAndGlyphs">(</tspan><tspan x="765.4" y="2308.9" font-size="88.5px" fill="#000" font-weight="bold" textLength="50.1" lengthAdjust="spacingAndGlyphs">b</tspan><tspan x="817.3" y="2308.1" font-size="84.6px" fill="#000" textLength="25.7" lengthAdjust="spacingAndGlyphs">)</tspan></text>
</svg></body></html>
